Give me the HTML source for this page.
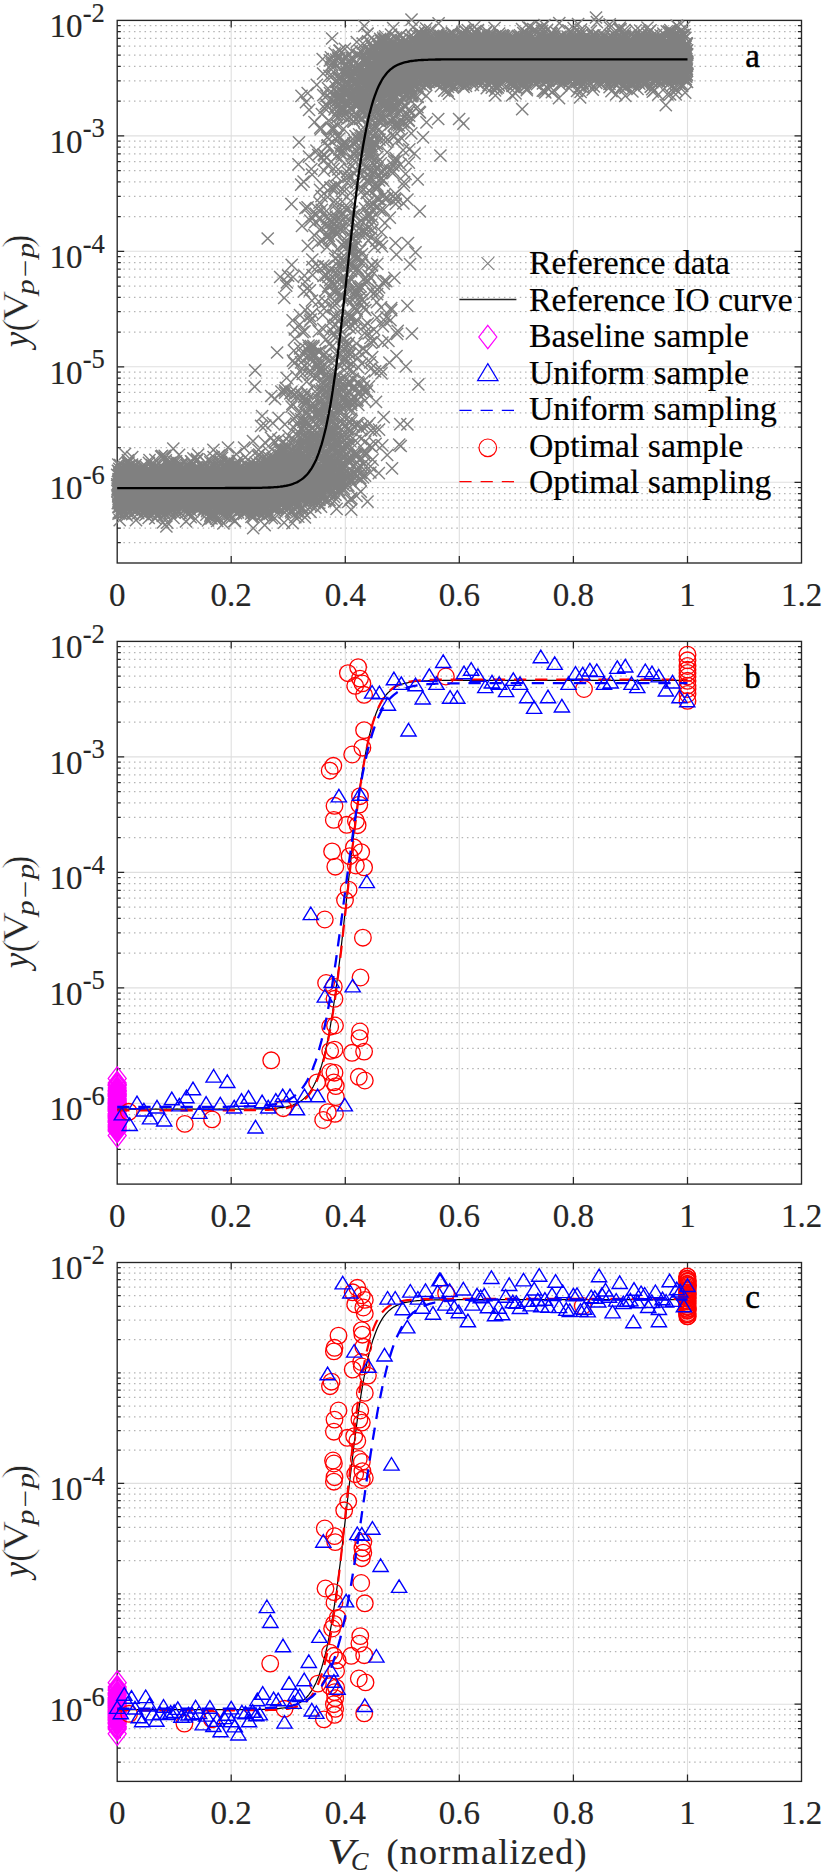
<!DOCTYPE html>
<html><head><meta charset="utf-8"><title>IO curve sampling</title><style>
html,body{margin:0;padding:0;background:#fff}
svg{display:block}
text{font-family:"Liberation Serif", "DejaVu Serif", serif;fill:#262626;stroke:#262626;stroke-width:0.18px}
.t{font-size:33px}
.e{font-size:26.5px}
.lg{font-size:33.7px;fill:#000;stroke:#000}
.yl{font-size:35px}
.sub{font-size:26px}
.par{font-size:42px;stroke:#fff;stroke-width:0.9px}
.er{stroke:#fff;stroke-width:0.4px}
.ns{stroke:none}
.pl{fill:#000;stroke:#000;stroke-width:0.45px}
.xl{font-size:36px}
.sub2{font-size:26px}
.xn{letter-spacing:1.2px}
.cg circle{fill:none;stroke:#f00;stroke-width:1.3}
</style></head><body>
<svg width="825" height="1875" viewBox="0 0 825 1875">
<rect width="825" height="1875" fill="#fff"/>
<path d="M123.4 542.7H801.5M123.4 528.2H801.5M123.4 517H801.5M123.4 507.9H801.5M123.4 500.2H801.5M123.4 493.5H801.5M123.4 487.6H801.5M123.4 447.5H801.5M123.4 427.2H801.5M123.4 412.8H801.5M123.4 401.6H801.5M123.4 392.4H801.5M123.4 384.7H801.5M123.4 378H801.5M123.4 372.1H801.5M123.4 332.1H801.5M123.4 311.7H801.5M123.4 297.3H801.5M123.4 286.1H801.5M123.4 277H801.5M123.4 269.2H801.5M123.4 262.5H801.5M123.4 256.6H801.5M123.4 216.6H801.5M123.4 196.3H801.5M123.4 181.8H801.5M123.4 170.6H801.5M123.4 161.5H801.5M123.4 153.8H801.5M123.4 147.1H801.5M123.4 141.2H801.5M123.4 101.1H801.5M123.4 80.8H801.5M123.4 66.4H801.5M123.4 55.2H801.5M123.4 46H801.5M123.4 38.3H801.5M123.4 31.6H801.5M123.4 25.7H801.5" stroke="#b4b4b4" stroke-width="1.25" stroke-dasharray="1.5 3.785" fill="none"/>
<path d="M231.2 20.4V563M345.3 20.4V563M459.3 20.4V563M573.4 20.4V563M687.5 20.4V563M117.2 135.9H801.5M117.2 251.3H801.5M117.2 366.8H801.5M117.2 482.3H801.5" stroke="#dfdfdf" stroke-width="1.1" fill="none"/>
<path d="M231.2 563v-7M231.2 20.4v7M345.3 563v-7M345.3 20.4v7M459.3 563v-7M459.3 20.4v7M573.4 563v-7M573.4 20.4v7M687.5 563v-7M687.5 20.4v7M117.2 542.7h3.6M801.5 542.7h-3.6M117.2 528.2h3.6M801.5 528.2h-3.6M117.2 517h3.6M801.5 517h-3.6M117.2 507.9h3.6M801.5 507.9h-3.6M117.2 500.2h3.6M801.5 500.2h-3.6M117.2 493.5h3.6M801.5 493.5h-3.6M117.2 487.6h3.6M801.5 487.6h-3.6M117.2 482.3h7M801.5 482.3h-7M117.2 447.5h3.6M801.5 447.5h-3.6M117.2 427.2h3.6M801.5 427.2h-3.6M117.2 412.8h3.6M801.5 412.8h-3.6M117.2 401.6h3.6M801.5 401.6h-3.6M117.2 392.4h3.6M801.5 392.4h-3.6M117.2 384.7h3.6M801.5 384.7h-3.6M117.2 378h3.6M801.5 378h-3.6M117.2 372.1h3.6M801.5 372.1h-3.6M117.2 366.8h7M801.5 366.8h-7M117.2 332.1h3.6M801.5 332.1h-3.6M117.2 311.7h3.6M801.5 311.7h-3.6M117.2 297.3h3.6M801.5 297.3h-3.6M117.2 286.1h3.6M801.5 286.1h-3.6M117.2 277h3.6M801.5 277h-3.6M117.2 269.2h3.6M801.5 269.2h-3.6M117.2 262.5h3.6M801.5 262.5h-3.6M117.2 256.6h3.6M801.5 256.6h-3.6M117.2 251.3h7M801.5 251.3h-7M117.2 216.6h3.6M801.5 216.6h-3.6M117.2 196.3h3.6M801.5 196.3h-3.6M117.2 181.8h3.6M801.5 181.8h-3.6M117.2 170.6h3.6M801.5 170.6h-3.6M117.2 161.5h3.6M801.5 161.5h-3.6M117.2 153.8h3.6M801.5 153.8h-3.6M117.2 147.1h3.6M801.5 147.1h-3.6M117.2 141.2h3.6M801.5 141.2h-3.6M117.2 135.9h7M801.5 135.9h-7M117.2 101.1h3.6M801.5 101.1h-3.6M117.2 80.8h3.6M801.5 80.8h-3.6M117.2 66.4h3.6M801.5 66.4h-3.6M117.2 55.2h3.6M801.5 55.2h-3.6M117.2 46h3.6M801.5 46h-3.6M117.2 38.3h3.6M801.5 38.3h-3.6M117.2 31.6h3.6M801.5 31.6h-3.6M117.2 25.7h3.6M801.5 25.7h-3.6" stroke="#262626" stroke-width="1.25" fill="none"/>
<rect x="117.2" y="20.4" width="684.3" height="542.6" fill="none" stroke="#262626" stroke-width="1.35"/>
<defs><marker id="mx" markerUnits="userSpaceOnUse" markerWidth="14" markerHeight="14" refX="7" refY="7" overflow="visible"><path d="M0.9 0.9L13.1 13.1M0.9 13.1L13.1 0.9" stroke="#808080" stroke-width="1.45" fill="none"/></marker></defs>
<polyline points="473.7,59.9 628.8,73.2 559.5,56 245.6,485 288.4,498.6 615.3,62.2 120.2,491.4 585.5,70.3 571.7,56.8 384,105.9 290,458.2 276,466.4 262.5,494.6 371,67.3 404.9,63.8 432.8,63.2 684.9,34.5 569.2,88.1 472,66.6 681.2,68.7 240,488.6 208.6,468.8 466.5,62.5 142.3,491.2 137.5,486.3 410.8,63.2 383.1,56.7 640.2,30.7 476,67.1 410.4,64.6 400.5,67.5 258.3,511.4 123.9,481.3 226.9,488.7 511.8,81.4 231.6,491.1 327.9,234.7 119.3,498.1 590.5,47.1 205.3,494.7 269.8,489.4 619.2,50.3 407.9,71.7 600.3,57.7 482,77.4 540.2,74.9 169.4,499.4 425.8,61.4 406.8,62 614.1,43.8 323.2,95.2 458.3,57.8 151,489.1 338.2,462.1 301.4,466.3 202.9,476.7 582.7,64.8 333.6,168.8 675.3,62.4 453.6,67.1 462.2,55.1 481,68.6 502.9,60.6 203.2,483.4 368.3,215.5 253.8,509.5 346.7,94.8 172.3,480.7 669.1,63.2 239.8,478.2 500.3,53.4 288.5,482.6 615.6,64 494.8,61.7 192.3,490.6 599.1,70.4 656.1,57.3 632.7,71.2 442.1,70.7 200.1,503.7 227,475.7 646.3,65.7 432.2,69.4 220.2,479.1 621.3,64 483.1,55.6 442.1,67.1 331.8,99.5 351.5,474.8 253.8,512.3 138.9,471.6 616.9,48.1 383.9,84.7 429.5,49.3 300.9,490 545.6,58 131.6,473.7 329.4,447.2 134.5,477.1 187.3,465.5 668.7,47.1 492.3,66.1 361.4,220.9 415.9,51.8 614.9,78.5 313.5,476.6 453.8,63.4 507.1,67.2 319.9,368.5 413.2,55.8 553.6,61.8 635.7,49.3 203.3,492.7 649.5,45.9 120.2,465.1 546.6,60.8 579.4,61.2 195.2,475.1 356.1,389.3 582.1,73.4 125.3,499.6 475.6,77.5 569.4,59.4 409.7,56 531.1,59.6 246.3,488.2 230.4,477.7 324.3,473.1 219.5,474.1 314.5,453.3 657.9,59.1 444.1,42.9 311.1,482.8 272,467.3 660.1,64.7 370.7,368.6 676.3,66.5 411.2,59.6 414.4,55 628.5,64.4 540.8,37.4 448.3,76 360.5,51.4 618,71.5 351.9,211.9 643.4,68 156.4,487.3 362.4,105.9 413.5,69.8 659.5,73 260.3,462.6 576.8,59.1 503,50.3 526.1,41.3 476.2,78.6 671.2,54.2 306.9,392.3 344.3,458 232.9,484.4 146.1,479.2 238.6,483.4 639.2,59.6 596.3,41.9 181.3,485 461.5,59.5 390.5,51.7 456.3,72.2 493.2,69.9 292.1,470.2 665.4,61.6 382.8,99.6 475.4,50.5 479.4,45.9 222.1,496.8 152.5,502.8 351.9,251.8 552.9,55.4 582.1,66.1 533.5,69.7 181.8,482.3 638,53.5 574.6,77.2 617.7,71.9 415.6,63.9 639.3,66.5 143.8,485.8 134.5,482.5 128.7,467.5 261.3,484.2 258.9,470.5 224.1,505.6 440.6,69.1 139.4,476.4 453.9,75.7 211.9,473.3 503.8,53.5 129.2,486.8 294.3,485.6 652.3,72.5 424.2,71.6 580,65.4 492.4,64.3 465.5,45.8 226.3,499.7 444.7,66.6 139.8,507.7 574.3,57.7 664.7,59.6 604.2,47.4 146.1,466.9 310.3,220.6 298.5,472.4 181.5,485.8 474.5,56.4 572,60.2 296.1,480.1 609.2,55.7 571.8,73.1 190.8,489.3 554.5,62.9 620.5,88.4 229.7,481.2 444.3,35.9 481.4,63.6 464.7,67 172.1,478 494.2,74.2 477.6,59.3 587,56.9 575.4,65.8 303.8,291.5 528.9,69 611.8,66 626.4,52.2 209.3,498 132.4,494.7 488.3,67.3 239.6,482.5 438.7,64 656,69.1 333.5,335.7 261.3,510.7 377.5,89.5 492,56.4 174.9,467.6 334.2,446.9 193.5,484.6 495,75 590.8,58.2 332.1,485.1 329.2,384.3 424.9,68 239.8,466.8 258.3,499 305.3,422.8 378,206.9 163.7,479.5 546.4,44.6 447.4,36 288.1,489.2 161.4,506.7 552.4,50.1 191.9,496.2 193.2,500.2 191.7,494.8 163.5,498.4 634.1,51 270.7,482.4 291.9,478 592.1,49.9 470.7,63.8 223.9,480.4 365.2,441.7 621.3,38.8 331.3,397.2 522.6,62.4 172.4,498.6 532,63.8 560,59.3 588.1,56.6 501.7,74.5 328.6,401 153.8,490.4 413,67.6 549.1,66.3 226,484.3 269,498.5 422.9,54.9 543.9,71.4 628.5,57 188.9,500.6 222.3,475 573.1,51.2 484.7,44.5 528.3,68.8 685.6,74.1 652.8,74.1 597.9,61.9 560.4,47.6 342.5,189.1 482.9,52.1 222.4,501.9 550.3,47.3 549.3,51.3 528.5,65.5 370.8,177 332.9,449.7 356.6,320 136.2,470.6 598.7,57 426.5,60.5 338.2,408.9 429.7,42.6 528.7,55.2 334.7,231.7 590.9,45.4 641.5,67.5 338.1,477.5 195.8,492.9 550.8,70.2 683.4,53.8 201.6,475.8 523.6,38.5 587.8,50.7 642.2,46.6 187.6,490.1 169.6,505 680.5,66.5 183.8,483.6 218,494.7 445.1,38.3 371.7,57.2 545.1,61.6 225.9,468.6 638.7,52 241.1,469.5 555.8,61.3 155.8,479.2 387.2,152.4 135.8,487.9 296.2,473.7 295.2,464.9 527.6,57.9 376.7,197.6 149.6,497.9 684.8,61.6 624,53.7 639.7,73.3 257.8,492 341.9,220 246.7,485.7 188.4,478 136,484.2 404.2,70.3 187.4,499.3 217.7,506.1 607.9,59 393.3,78.1 222,490.8 499.2,60.1 268.8,492.9 417.7,82.3 278.6,417.8 411.5,57.9 475.6,75.8 423,137.4 342.8,268.3 568.2,69.1 615.3,59.8 219.5,499.6 194.9,484.4 181.7,496.8 675.8,66 654.1,71.8 248.7,466.6 670.3,30 235.7,485.2 406,69.4 400.8,53.9 639,59.2 140.3,489 297,459.7 459.3,50.5 155.1,501.8 252.1,497.2 382.4,60.4 619.5,75 551.1,41 589.9,62.3 551.2,57.1 520.8,44.2 601.7,59.7 505.8,57.7 536.7,65.9 289.2,482.1 212.8,480.1 548.6,69.1 211.8,480.5 641.5,48.2 457.4,53.9 305.1,490.7 651.3,48.7 205.7,472.5 410.6,64.9 169.4,508.6 667.7,67.2 445.3,59.5 575.5,44.5 278,474.4 574.4,51.4 518,66.5 484.3,50.6 659.3,59.3 364.4,103.8 353.9,116.2 511.9,47.9 593.4,77.6 308.3,454.4 499.1,33.7 236.4,487.4 431.8,68.8 555.8,66.4 154.4,495.6 532.3,54.9 126,476.6 663.7,67.8 384.5,69 350.5,291.1 528,46.2 415.6,48.1 534,68.8 165.5,491.4 438.1,57.5 435.5,82.6 648.7,65.3 139.8,486.4 375.4,145.6 477.1,56.8 431.3,58.7 159.5,494.3 455.5,47.5 243.9,496.6 228.7,483 618.3,62.1 230,475.6 376.3,72.9 545.1,52.4 520.5,52.2 432.8,46.4 577.4,41 382.8,91.4 471,60.2 584.2,71.5 503.9,48.2 483.2,43.8 348.8,90.1 435.6,56.6 343.1,464.1 541.6,56.9 334.1,188.4 383.3,180.6 548,67.3 404.4,50.7 310,494.7 588.7,56 334.4,224 598.9,59.4 565,50.2 372.3,230.2 523.7,43.5 136.8,492.9 339.5,50.8 607.8,65.8 447.7,56.4 435.3,65.7 496.3,40.2 503.6,71 450,66.9 357.1,102.9 221.8,478.6 284.1,478.8 284.2,297.8 362.8,81 686.9,62.3 318.2,452.5 372.3,58.7 329.1,139 448.8,42.8 657.7,54.9 624.2,67.3 332.3,221.7 269.4,461.1 621.5,58 398.8,128.3 508.1,77.2 159,493.5 611.4,68.3 295.7,476 399.2,76.8 230.1,503 356.8,231 589.4,85.3 589.1,65.9 387.3,71.3 555.1,72.3 378.4,95.3 330.1,343.2 428.5,64 232,485.2 297.7,482.4 520.1,54.3 556.6,67.8 149.5,470.6 535.1,55.5 583.3,66.6 371.1,219.8 152.8,492.5 506.6,36.8 257.6,478.1 484.1,60.5 332,467 480.5,68.7 264.4,496.8 388.9,63 416.4,45.6 477,57 233.1,488.8 665.8,54.2 282.1,490.8 291.7,264.9 263.4,504.6 155.7,471.5 358.4,256.9 557.3,40.6 521.8,37.2 228.7,484.5 195.3,478.7 300.5,484.3 555.3,60.5 395.5,87.7 643.6,59.1 491.5,41.7 471.3,60.1 555,48.6 545,57.6 313.3,354.1 263.8,466.4 366.8,391.1 396.2,51.4 198,494.9 368.9,61.3 482.1,62.9 194.6,493.2 195.9,503.4 216.3,518.6 278.8,462.7 665.6,48.9 131.9,490.5 222,509.3 211.3,479.9 387.7,41.9 125.8,482.6 378.5,79.4 210.1,493.8 271,437.8 569.1,59.8 222.2,474.8 469.1,70.2 348.9,457.1 355.3,329 583,45.8 209,480.2 644,64.1 626.7,80 498.3,48.9 145.4,504.3 495.5,74 459.5,81.7 557.6,75.8 239.1,498.9 660.9,71.9 622.6,46.3 182.4,479.5 296.9,476.8 135.7,494.6 591,59.7 639,74.8 681.6,54.5 466.2,70.6 497,65.2 504.1,55.3 442.3,69.7 660.3,75.6 463.8,48.2 308.6,498.8 409.7,75.2 127.8,501.8 530.1,67.8 512.9,60.9 357.3,462.5 602.8,65.2 548,42.7 309.2,348.1 161.4,477.6 192.6,489 222.3,485.5 290.5,494 372.4,271.7 646.4,55.1 276,475.3 629.6,55.8 505.2,59.6 603.9,49 347.2,444.2 119.1,474.8 566,64.3 257.2,509.2 198.4,482.3 573.1,48.8 508.6,68.6 238.3,485.2 269.8,479.5 652.8,91.7 270.3,458.9 517.7,50.1 191.1,490.4 582,73.1 184.3,506.9 411.5,19.6 137.3,492 430.9,51 600,67.2 165.3,491.9 273.6,475.9 553.3,70.6 464,60.3 295.6,444.7 475.8,53.6 376.5,59.3 609,61.5 284.2,469.2 549.3,65 479.7,64 539.4,58.3 332.9,455 530.6,50 515.5,93.4 338.2,110.2 132.3,514.1 666.3,42.5 524.1,49.5 234,495.9 533.9,54.7 276.1,507.6 384.8,198.5 607.6,41.6 372.7,63.2 281.4,462.3 291.4,493.3 161.1,474.2 242.4,486.8 271.8,484.1 215.8,484.9 153.2,478.8 382.8,44.1 239.5,487.2 538.5,54.7 643.3,60.4 272.9,484.3 443.5,69.1 406.2,47.6 160,479.5 188.4,484 621.7,59.3 387.6,67.5 576,70.5 155.2,501.2 456.4,69 610.6,48.1 611.6,54 120.5,505 414.7,71.1 327.6,391.3 550.6,39.1 159,477.7 268.3,457.1 580.6,67.3 385,54.3 375.6,98.7 669.5,32.3 299.6,455.8 141,482.6 340.9,317.6 204.7,495.8 163.9,488.2 441,86.1 661,64.1 447.6,70.8 486.2,49.3 301.7,455.5 442.9,60.6 546.2,70.9 453.2,71.8 575,49.7 431.1,61.8 230.2,490.5 449.5,71.5 397.2,57.7 211.8,484.9 470.3,48.9 583.1,69.7 194.2,487.6 428,81.3 535.6,55.8 347,182.3 271.2,491.5 329.5,430.4 426.1,75 508.8,39.8 436.1,53.5 178.2,480.2 583.6,55.1 644,66.8 175,493.9 259.5,474 216.2,487.3 601.4,54.6 636.3,62.5 142.4,477 306.8,474.4 227,502.6 385,38.7 642.7,45.8 157.2,477.1 214.9,483.1 394.9,63.2 416,49.6 542.3,27.4 366.8,218.7 197.7,500.2 318.8,411 677.2,57.4 545.3,46.8 183.5,501.7 578.1,63.6 294.5,490.7 562.8,46.7 124.5,473.8 614,55.9 209.8,474.3 377.1,294.1 494.6,57.2 406.8,114.9 211.5,497.9 196.5,500.6 279.5,468.3 147.1,486.3 240.7,500.2 191.4,486.8 382.3,65.2 320.5,430.9 451.8,65.9 277.4,495.6 136.5,472.9 306,483.6 547.8,46.6 263.1,487.6 347.9,75.4 547.7,62.6 349.1,105.3 623.1,50.3 640.7,74.8 294.3,363.2 536.9,84.2 261.5,478.7 196.8,487.1 366.9,52 460.8,34.9 650.7,67 200.4,487.5 523.4,74.2 388.3,73.2 192.3,486.9 671.9,58.5 514,49.6 190.7,481.8 633.7,47.3 176,495.8 170,486 306.3,493.6 652.1,61 136,520.1 640.8,60.2 466,58.4 155.4,493.2 441.4,72.8 378.8,90.9 438.8,66.7 537.6,66.1 504.2,56.5 685.9,53.7 206.5,493.1 580.7,60.8 351.6,57.7 563.9,69.6 625.7,47.1 682.9,35 268.9,481.7 375.5,90.3 654.8,56.5 656.5,45.3 329.8,60.4 653.4,74.9 348.7,476.9 330.9,433 548.7,64.3 385.9,137.9 372.8,73.8 337.4,393.9 364,386.3 196.9,490.2 152,500 547.2,38.6 439.1,77.8 500.3,52.1 574.7,57.8 248.4,487.3 250.5,500.1 275.7,492.8 290.5,491 551,65.5 330.6,489.2 301.5,95.9 480.1,64.4 223.6,482.8 177.9,479.4 514.7,65.5 548.6,50.6 286.2,486.6 479.9,65.8 136.6,482.5 347.8,429.2 446.8,64.3 261.7,491.1 315.8,477.6 464.8,47.8 453.6,72.4 205.1,489.6 520.1,53.9 162.8,515.9 670.2,50.2 232.6,479.5 261.8,478.6 231.4,470.6 682.6,71.7 280.6,469 462.4,32.7 682.1,85.9 659,63.8 141.3,479.9 414.4,68.2 460.1,81 517.7,55.8 308.8,484.4 304.2,494.2 119.6,485.4 137.3,477.5 430.9,49.7 160.5,483.3 232.7,502.8 307.2,478.9 157.4,515.1 134.8,500.9 645.8,57.7 365.4,310 234,488.7 521.2,59.8 122.6,511.5 256.9,503.5 665.1,73.2 629.1,66.7 479.8,66.7 170.3,462.8 298.6,442.5 133.1,500.6 242.2,495.7 131.7,495 189.1,495.4 478.3,66 174.5,512.6 206,474.7 632,51.8 308.5,473.9 307.1,473.4 166.5,483.1 571.1,64.1 502.9,83.1 429.2,58.6 469.6,60 174.4,504.2 265.6,515.1 450,46.5 660.2,71.9 583.2,62.3 482.6,68.1 413.1,40 125.8,506.3 625.1,47.5 155.3,518.5 190.8,477.8 512.4,65.8 580.3,86.5 565.7,59.3 375.2,76.8 218.2,507.8 137.3,484.5 602.7,60.3 674.7,54.3 256.4,505.2 611.1,68.9 346.7,395.7 294.7,460.1 405.3,68 121.9,500.6 369.7,141.5 231,495 523.5,47 403.8,50.9 612.7,68.5 628.5,81.8 297.8,481.8 277.1,352.5 652.7,46.1 404.6,67.9 172.2,483.6 143.4,496.2 682,68.5 447.5,38.2 148.3,475.2 408.7,78.2 404.7,115.9 365.5,58.5 659.7,81.1 658.2,63.3 188.5,482 203.7,469 349.6,370.1 592.8,64.1 472.9,63.7 533.4,65.4 445.7,57.6 237,478.4 583.5,72.2 125.2,490.7 515.5,66.8 228,497.8 385.8,107.4 673.3,38.1 424.6,39.2 149.7,471.2 361.7,300 493.7,56.2 149.5,460.1 261.3,483.6 127.7,497 425.2,53 334.7,360.1 404.4,66.1 285.9,484.1 491.7,54.2 215.9,490.3 634.2,60 664.7,72 398.3,60.9 382.6,52.4 607.4,58.7 282.5,484.5 575.2,77 281,469 527.8,73.6 307.7,93.1 460.8,64.2 645.2,50.2 148.2,476.1 577.5,63.5 426.2,95.9 333.4,432.1 316.9,489.1 156.8,499.5 264.5,485 472.5,36.2 172.9,480.6 498.9,61.4 665.9,43.7 676.5,62 624.3,49.5 577.2,55.3 218.7,511.3 670.4,48.2 232.8,467.5 612.8,63.8 617.8,50.6 471.8,53.6 414.5,153.5 231.5,492.9 413.4,52.1 282.9,495.8 189,494.8 190.3,478.3 574.1,48.6 643.2,41.1 198.1,495.3 124.8,504.3 267.5,475.4 193.9,506.6 224.8,493.3 449.8,62.4 358,223.5 362,135.6 234.5,502.7 496.2,59.9 282.3,472.6 344.8,283.8 381.5,373.3 632.9,47.4 257.7,484.1 527,71.7 293.6,481.8 627.2,58.8 341.9,480.8 405.3,66.7 617.4,42.4 500.8,55.8 171,475.1 195.2,488.8 682.2,66.3 133.8,484.7 288.8,497.7 664,55.3 125.8,492 209.2,491.8 238.9,491.5 166.5,499.6 386.3,85.1 455,77.5 298.7,485.3 179.2,503.4 579.6,48.9 575.9,62.2 437.7,57.9 195.7,482.8 426.2,55.7 476.2,57.4 361.4,262.8 609.8,55.5 339.6,482.2 408.5,63.2 182.3,491.2 438.6,68.3 554.3,66 534.2,44 263.7,505.3 682.8,39.6 527.7,65.8 358.8,54.8 353.8,173.1 561.6,61.7 217.4,481.7 481.9,39.5 527.1,61 411.6,60 615.1,65.9 384.4,42.1 382.3,445.3 279.5,473.1 641.5,59.2 297.6,507.6 513.7,53.9 350.6,251.6 650.6,67 657.8,48.1 134.3,495.2 684.3,67.6 462.2,84.7 159.3,479.9 400.6,71.3 145.4,494.1 430.2,62.2 223,507.3 327,407.1 291,485.3 460.6,49.3 586.2,59.9 651.3,74.1 304.7,436.8 442.1,46.5 120.6,495.4 329.4,376.6 665,54.5 185,494.8 613.2,59.3 489.3,80.8 284.8,495.1 560.9,59.2 282.2,480.9 627.5,44.3 164.4,494 185.1,482.8 544.9,61.1 373.3,109.8 201.3,497.6 410,60.4 286.5,488 430.4,79 541.3,27.3 605.8,60 150.8,480.6 455,62.8 678.1,26.8 379.4,97.9 556,63.8 172.7,486.2 615.3,45.6 449.1,60.3 623.7,71.3 566.1,41.2 612.9,51.9 149.9,491.5 525.2,62.7 229.5,491.3 268.8,486.6 302.4,508.5 454.4,59 475.2,67.1 648.4,54 124.5,484.6 227.5,499.3 323.6,275.9 583.7,50.8 430.8,70.4 409.2,89.8 550.7,67.8 490.7,55.7 282.5,459 166.9,499.1 380.8,71.8 619.1,53.7 458.3,60.5 147.6,489.1 368.2,167.8 336.5,355.3 449.3,39.3 452,48.7 659.7,63.6 310,370.6 349.9,74.8 467.1,55.9 622.7,56.2 519.9,65.5 385.7,115.8 581.7,57.2 393.9,89.4 666.6,70.9 278.3,507 189.8,494.4 590.7,55.5 286.7,504.9 600.4,62.2 464.7,69.3 407.4,305.8 166.8,486.9 565.6,46.2 154.8,504.5 667.6,57.2 617.3,61.8 290,463.6 190.1,488.5 622.3,67.2 390.8,54.1 188.4,483.6 401.5,87.3 257.9,512.1 349.8,401.7 482.3,57.5 639.2,50.9 573.9,66.6 209,493.2 389.4,84.7 397.7,330.8 681.5,58.6 166.8,495.6 408.5,61.5 638.6,71.4 344.6,349 266.4,485 434.2,78.2 299.7,324.6 645.9,46.1 165.6,495.4 235.1,494.5 165,498.5 523.2,75.3 284.4,457 630.5,75 626.8,62.7 651.2,66.6 263.3,502.1 117.6,488.6 338.2,266 666.1,51 552.7,63.5 151.2,489.3 517.8,72.6 640.2,63.2 669,52.6 525.5,51.5 609.3,44.6 597.2,78 321.5,196.1 173.7,484.7 532,42.3 195.3,489.1 336.3,470.5 685,60.7 436.4,73.2 414.7,58.1 657.7,66.3 279.2,489.2 687.1,54.3 637.3,51.4 324.7,442.6 303.8,476.7 189.4,507.3 639.3,46.9 223.2,498.9 122.3,488.1 624.8,65.2 458.3,73.9 500.3,50.1 535.3,72.3 141.5,495.7 169.6,472.2 402.2,102.2 145.9,508.9 404.8,52.4 537.1,65.3 492.1,51.3 468.8,60.6 143.7,494.8 252.2,481 629,68.7 187.5,495.6 421.3,58.2 145.7,502 652.8,77.2 215,508.5 351,270.7 429,38.7 527,46.6 651.8,67.9 537.1,66.5 315.3,492 160.2,489.2 520.6,48.3 671.8,61.3 126.9,489.4 559,98.2 217.6,485.6 379.5,77.4 415.2,63.6 467.6,56.2 681.5,59 509.2,51.7 341,145.7 524.9,87 383.4,79.2 352.8,158.5 325.7,236.1 398.6,73.3 277.5,491.8 255.3,488.8 201.9,476.6 368.2,82.5 284.4,450.3 594.5,75.8 600.7,42.9 313.3,476.6 470.3,65.6 631.7,75.8 322,474.5 433.5,49.8 370.1,362.3 488,37.5 664.5,64.4 196.3,493.7 667.7,71.5 496.8,54.6 571,68.9 479.4,53.3 613.5,56.1 303.2,440.9 521,71.4 267.8,474.9 407.3,85.1 505.8,74.2 231.9,486.2 152.1,486.5 568.2,59.1 578.5,48.7 496.8,45.8 300.5,461.7 492.5,60.9 165,474.2 495,90.3 445.8,37.6 469.2,60 372.1,72.6 245.6,491.2 531.1,53.3 381.9,178.4 542.3,66.9 324.9,461.1 167.3,522.6 426.5,53.2 472.3,61.9 642.8,62.3 623.4,45.2 149.8,484.3 557.3,56.9 266.2,510.4 514.8,57.8 333.6,477.9 300.9,428.3 395.6,193.9 419.7,74.2 513.2,62.4 481,38.6 504,69.9 336.2,384.1 503.5,61.7 314.2,450.7 463.6,52.3 379.2,180.5 438.1,54.4 127.2,501 401.6,63.4 242.6,492.2 337.2,424.9 159.3,481.8 491.8,87.7 626.7,49.9 319.4,480.8 177.1,500.5 470.9,66.9 189.6,489.2 625.6,39.2 187,494.6 323.6,376.5 399.3,71.8 184.4,495.9 299,491.7 274.2,489.1 524,49.9 679.6,57.9 324.1,354 568.1,42.6 197.2,471.9 447.9,78.8 364,307.7 281.5,498.8 585.8,62.2 542.8,57.6 193.6,489.3 283.9,479.5 584.5,54.3 683.1,74.8 465.9,85.8 614.3,56.1 678.5,44.9 539.5,57.3 484.9,64.5 243.4,481.5 328.4,417 472.8,75 645.5,64.1 289.3,472.4 342.6,108.7 129.9,480.2 514.5,65.5 370.1,156.8 572.1,42.7 250.4,492.1 493.4,65.4 501,45 382,86.3 224.8,502 347,484.4 542.1,44 225.1,483.9 168.5,466.2 381.1,307.4 250.9,485.1 573.7,47 583.2,66.6 656.2,46.8 596.1,60.4 486.4,62.4 223.9,483.5 586.5,64.9 532.4,72.7 543.1,70 514.9,53.4 590.5,55.9 287,486.9 500.7,50.9 412.2,81.3 309.9,321.2 303.6,464.4 205.9,499.3 397.5,45.2 327.5,225.5 357.6,84.6 602.9,56.5 505.8,62.3 505.1,58 678.4,48 241.4,496.2 406.8,73.6 170,477.9 341.2,354.7 659.1,61.3 166.2,490.2 549.3,64.3 610.7,80.5 407.4,424.3 572,64.7 368.7,98.8 318.7,414.5 405.6,173.9 228.3,460.9 292.5,492.2 291.3,469.7 680.8,64.6 308.3,473 247.7,491 653.1,50.5 196.2,486.4 667.9,63.9 603.8,77.4 486.2,47.7 361.2,438.9 229.7,494.8 177.8,467.3 176.3,485.2 316.3,480.6 349.4,61.8 643.9,56.4 423,63.3 682.1,55.2 528.3,61.1 200.6,491.9 432.9,55.7 208.1,480.6 139.6,483.8 655.4,48.1 309.9,441.6 225.3,467.7 175.2,486.7 489.1,72 380.2,60 123.9,486.6 525,50.1 263.6,491.5 562.3,49.1 395.8,199.5 422.6,57.4 377.9,187.9 502.7,35.5 681.8,62 572.2,83.5 156.6,472.9 399.4,48.7 250.8,469.9 175.6,500.9 228.5,483.3 258.7,471.9 664.5,61 542,54.4 603.6,61.4 515.7,62.5 297.2,464 340.2,487.1 368.5,240.3 284.5,480.1 357.5,268.3 557,49 160.4,510.6 274.9,474.2 390.4,79.9 502.8,61.3 485.5,62.8 530.6,53.3 177.2,489.7 220.3,492.5 293.4,469.7 277.8,461.7 548.1,65.9 683.6,66.5 506.7,65.6 136,501.8 286.9,282.5 575.1,64.3 644.3,50.6 456.4,64.8 316.1,438.2 319.7,488.4 478.4,68.1 610,27.5 311.6,464.3 225.9,487 118.8,507.3 195.6,494.2 602.6,69.5 473.4,69.2 682.1,84.2 156.8,493.8 325.9,486.9 571,66.8 494.3,73.9 155.2,483.6 346.1,243.9 480.8,85.2 509.4,71 374.8,430.7 224.5,474 668,72.2 383.2,62.8 526.3,52.7 422.2,48.6 163.2,493.3 252.2,484 153.1,492.9 226,508.5 231.4,477.3 353.8,121.3 300.6,479.9 323.9,431.7 583,69.4 129.4,493.6 176.2,484.1 577.8,73.9 421.7,41.6 367.5,33.5 269.6,513.8 426.5,49.2 243.5,492.9 606.7,52.2 587.1,57.1 300.7,489.5 131.2,477.6 623.4,58.1 287.5,469.5 491.8,55.5 606.6,75.8 572.5,61.1 609,59.1 396.1,75.7 597.5,73.3 380.2,38.9 267.6,485.7 391.5,84.2 308.5,500.7 554.7,52.7 591.5,60.5 197.7,475.2 211,468.3 336,105.8 381.4,68.2 662.5,45.7 654.2,46.6 668.7,55.4 533.3,50.7 503.4,62.7 271.4,487.4 329.7,433.2 118.7,512.4 592.2,50.5 274.6,477 162.4,498.4 297.2,465.4 301.5,471.4 530.1,50.7 120.5,487.6 248.4,493.1 628.4,54.2 604.7,57.6 475.9,70.9 435.9,64.2 244.1,492 616.2,51.4 551,74.1 409.7,68.4 209,492.2 240.3,487.3 333.5,223.4 306,487.5 152,475.7 348.9,385.5 373.1,82.1 280.9,467.6 336.3,98.5 306.7,427.9 332.1,415.6 470.2,42.4 400.8,35.1 229.9,472.9 570.7,31.4 409.8,88 378.6,78.6 524,57.9 546.1,55.6 601.4,48.4 579.8,49.1 498.7,69.1 528.4,45.4 206.8,494.2 515.9,55.8 262.3,480.1 264.2,479.3 185.7,481.7 343.5,87.9 128.5,489.3 491.8,48.2 543.8,64.3 559.5,72.6 190.7,517.1 482.8,58.9 595.2,69.4 137.7,487.8 227.5,499.8 269.9,492.4 380.6,178.2 215.4,476.9 424.5,72 313.3,496 490.8,57.9 420.2,49.7 508.6,69.7 257.7,479.9 520.4,59 536.1,53.4 528.9,80.6 156.2,486.8 656.7,62.1 446.2,56.8 272.5,495.6 364.8,400.7 412.4,95 412.5,66.5 258.6,472.1 268.3,485.7 324.5,108 562.5,55.2 366.7,453.6 139.2,495.8 375.1,371.3 232,500.8 124.3,495.8 674.4,58.2 284.7,469.6 423.7,68.9 321.5,227.8 147.7,477.7 630.9,46.8 650.8,68.2 223.5,479.2 355.6,292.6 330.3,487.4 212.6,489.5 494.5,69.3 563.1,79.1 550.4,75.8 502.3,68.1 127.2,484.6 248.1,483.5 410.7,49.5 518,68.6 337.6,92 373.4,341.4 596.6,70.8 130.6,476.2 270.4,485.9 282.5,465.9 683.3,51.5 247,492.9 144.1,496.3 354.7,256.3 487.6,44.2 204.7,476.6 596,17.5 229.2,464 518.8,55.5 209.5,500.3 620,80 232,492.6 534.3,59.8 595.5,76.6 262.6,480 170.1,476.8 451.4,70.9 401.8,138.4 390.5,87.5 562.8,47.6 381.3,76 400.6,80 395.1,124 376.4,76.2 348.6,281.5 209,475.8 285.6,475.1 268.3,502.5 258.7,492 563.6,60.4 182.2,486.9 234.3,500.7 417.4,45.4 295.4,477.9 254.2,464.5 330.1,395.4 403.5,78.3 501.7,51 671.6,56.9 603.4,62.8 362.4,76.7 374.7,67.9 354.3,68.8 253.5,472.2 659.9,46.4 156.4,477.4 234.1,509.6 494.7,55.7 453.4,38.7 276.1,466 651.5,44.7 350.7,422.3 457.2,68.5 169.1,470.8 625.2,37.2 175.9,483.1 341.9,437.8 622.2,61.1 656.1,57.1 632.7,63 589.1,53.7 250.2,490 135.4,506.1 374.8,71.5 153.2,483.3 664.9,56.9 121.9,470.9 302.8,459.1 233.1,472.8 125,488.7 401.8,79.7 160.6,496.5 630.4,67.3 509.3,48.8 328.2,286.1 597.1,68.8 571.6,48.1 303.4,421.9 600.3,50.3 647.2,43.8 470.7,48.4 317.8,266.4 630.8,68.9 654.9,81.5 315.2,222.2 166.4,526.5 612.1,66 496.3,72.6 249.5,486.8 440.5,69 292.9,486.8 641.4,70.1 312.3,463.2 229.1,470.5 141.8,500.4 312.5,403.3 681.4,42.7 241.7,479 378.4,86.8 671.5,64.3 121,484.6 285.5,485.4 585.5,48 171.8,491.8 646.6,66.9 593.1,52.9 198.8,497.8 455,53.4 434,73.6 512.8,65.9 292.2,469.6 336.3,97.5 254.5,476.4 283.7,484.7 217.4,485.7 632.9,82.8 623.3,52.8 322.5,391.2 512.5,83 396.8,57.5 277.3,476.5 316.6,490.1 667.6,72.5 311.9,300.6 447.2,59.5 656.1,59.2 286.9,490.2 578.5,35.6 182.3,488.5 535.4,57.7 577.2,78.3 594.8,55.9 673.2,48.6 522.6,70.1 674.5,34.8 275.9,494.9 414.6,59.4 239.3,492.7 164.8,492.9 367.5,501.7 527.6,49.4 561.1,85.5 126.9,473.6 654.5,72.7 258.2,493.7 283.8,442 591.9,71.1 627.1,62.2 537.2,74.4 307,490.4 381.1,117.9 593.1,41.1 321,506.6 576.4,60.5 563.1,52.5 384.5,49.3 628.5,68.7 336.5,115 544.8,37.5 482,55.2 306.1,451.7 420.4,73.9 462.8,68.2 423.3,59.4 180.3,500.5 682.6,51.9 668.4,72.8 138.6,484.3 655.7,77.4 420.3,69.8 188.9,485.3 585.1,52.5 364.1,380.7 523.9,77.4 588.9,53 424,72.4 145.5,483.6 586.2,44.2 513,51.9 636.2,77.5 271.2,396 564.9,46.3 615.1,66.6 319.7,468.1 351.1,402.7 307.7,483 120.5,483.2 249.2,472.4 306.3,457.1 179,454.8 553.8,43 360.7,286.3 441.2,58.1 279.5,490.4 322.7,314.9 546.8,73.4 385.1,321.2 457.4,66.3 358.2,87.4 434.8,50.1 628.9,54.2 269.7,483.8 413.2,63.1 509.1,59.5 166.7,495.5 665.8,43.3 401.6,43.3 257.1,488 550.8,59 582.3,55.8 476.8,48.5 639.6,56.4 167.9,493.3 418.1,63.4 540.8,55.8 640,60.8 483,63.7 460.7,44.5 338.6,78.9 443.2,48.9 433.6,70.2 633.3,49.1 588.9,58.7 537.6,62 644,67.1 154.9,495.3 556.1,64.6 381.6,59.1 545.9,60 286.1,463.4 383.7,69.7 587.4,56.1 137.3,488.8 283.2,497.1 395.7,69.5 602.8,54.7 271.2,494.6 586.6,39.7 256.7,467.1 290.1,482.3 433,44.6 490.1,45.8 619.1,45.5 618.7,50.9 259.9,468.2 542.4,68.4 479.3,64.3 337.4,232 559.7,58.3 629,75.8 390.5,51 639.6,46.7 190,490.1 212,483.1 553,47.5 291.4,512.3 451,65.5 400.7,69.7 200.3,489.3 547.3,73.5 540,73.9 200,485 265.3,425.5 573.7,73.5 637.4,39.8 613.4,47.5 403.4,47.7 326.7,454 371.1,81.4 217.8,474.3 400,77 248.9,493.9 209.6,483.4 334.3,478.3 153.7,503.9 385.4,87.9 514.2,54.2 488.7,55.4 673.3,50.6 622.3,59.7 478.6,74.3 629.1,45.4 370.6,102.3 572.8,56.8 279.4,461.2 417.6,56.1 676,40.9 458.7,61.1 406.2,93.4 566.2,72.5 295.3,517.1 591.1,61.6 127.8,473.6 253.1,507.2 218.3,478.9 264,489.3 656.4,48 130.8,483.1 287.6,485.4 444.7,51.9 518.1,59.2 558.5,48.1 335.8,139.2 242.8,489.8 603.3,39.3 186.8,488.6 154.3,480.2 249.3,484.5 398.1,102.3 654.5,57.2 532.8,64 438.8,52.4 414.4,72.6 512.6,70.1 474.4,48.4 309,156.6 170.1,480.7 231.8,479.3 563.5,46.3 479,53 571.8,47.8 142.6,496.6 630.9,52.5 335.2,447.6 645.3,73.3 456.2,61.3 429.3,51.1 583.7,58.4 473.9,37.5 501.9,50.6 207.1,482.3 461.9,57.3 320.5,471.5 160.3,486.7 193.2,487 390.8,50.4 266.9,496 553.6,60.1 187,495.9 125.1,485.6 685.7,79 295.7,474.9 407.9,58.4 237,485.1 236.3,454.2 346.6,104.1 567.6,52.8 139.4,487.5 594.7,45.7 681.9,32.1 436.1,39.4 322.5,482.2 250.6,500.1 221.5,482.2 301.6,495.4 602.9,69 119.1,494.3 565.4,71.7 497.8,58.6 128,491.7 156.9,496.1 536.4,54.2 501.1,67.3 296,464.9 608.4,51.1 237,492.5 360.6,480.1 182.8,495.5 485.4,66.1 166.8,475.2 219.5,506.4 554.2,53.2 402.5,79.9 494.6,85.1 535.7,30.2 463.1,81.6 230,514.1 515.5,83.8 183.3,501.4 271.1,493.5 372.8,149.2 182.5,489.9 177.6,477.9 489.2,68.1 540.3,57.4 328.6,470 339.5,380.5 235.6,487.4 414.7,50.3 448.2,53 649.6,58.2 140.3,491.7 635.4,54.5 682.1,50.6 314.7,499.9 531.1,63.3 587.6,54.8 488.5,55.3 281.9,482.4 472.4,39.3 617.3,46.3 178.2,502.7 390.9,40 130.1,496.1 599,68.8 561.1,45.9 143.5,491.6 542.5,79.2 511.6,51.5 189.2,482.3 416.7,52.5 510.3,75.8 308.5,453.4 404.5,66.7 673.7,48.1 479.7,73.9 403.5,122.5 154.8,511.4 186.3,497.1 602.4,46.2 540.7,56.1 593.4,65.8 446.9,42.5 445.7,56.7 419.8,50.4 536.4,54.9 305.5,486.7 400.4,64.1 385.1,58.8 494.5,45.4 240.5,480.3 131.5,477.1 167.7,501.1 219.4,510.4 606,55.2 526,57.2 544.9,53.8 370.5,171.7 175.8,486.1 382.5,73 609.3,58 407.5,64.4 477.5,61.3 330.6,483.7 202.8,493.8 474.5,59.4 393.8,55.8 314.3,463.2 264.6,482.8 514.1,49.3 298.5,480.6 445.6,43.3 265.3,460.7 546.8,66.8 331,227.8 390.1,120.4 646.2,40 526.9,88.5 537.1,66.8 310.7,319.5 596.4,42.5 337.2,464.3 680.8,51.1 628.1,54.1 493.1,55.7 591.3,54.1 427.4,64.5 535.2,83.6 188.4,483.9 680.9,59.8 573.5,65.9 198.4,495.1 255.6,471.5 445.1,68.6 552.2,71.8 202.1,479.8 665,41.5 314.5,503.1 684.6,71 546.4,71.7 394.1,106.2 324,159.9 172.2,470.9 167.3,488.5 476.1,62.1 558.3,66.4 634.7,45.6 325.3,482.2 651.9,69.1 286.5,490.5 653.2,59.5 641.2,54.4 205.6,495.5 608.1,38.1 518.5,36.1 517.8,72.7 596.4,57.5 423.2,71.8 406.2,64.3 326.5,95.8 610.6,62.6 631.1,55.9 208.8,485.9 557.5,75.3 274.3,507.9 222,510.2 229.7,473.3 444.1,61.4 276.7,454.2 255.4,470.4 173.4,500 302.4,429 558.6,67.3 129.5,485.7 392.4,105.9 461,64.1 145.5,488.8 284.8,486.5 634.1,76.5 684.2,62.2 602.1,48.6 214,489.1 553,48.9 374.3,142.9 214.5,485 391.4,74.4 643.5,58.3 617.5,70.5 340.5,464.7 153.3,484.1 630.7,44.9 679.6,32.1 408.8,162.6 245.7,481.1 427.3,65.2 514.2,49 392.2,54.7 318.2,398.8 258.5,503.2 286.5,504.2 145.6,476 262.7,482.3 660.7,52.8 121.8,508.2 532,66 567.1,78 348,320.9 456.6,66.1 243.2,496.2 498.2,40.1 520.8,74.5 536.1,66.7 397.6,72.7 670.6,58.4 611.2,50.4 443.6,68.9 506.3,79.4 273.9,493.1 655.3,54.4 485.1,72.4 627.5,47.5 281.8,498.6 677.4,67 177.3,493.4 419.6,44.6 180.2,478.6 225.4,483.7 553,71.5 154.9,501.5 335.4,494.8 226.5,468.7 602.1,43.5 164.2,486.3 309.1,495.9 605.5,80.5 508.9,64.8 518.3,53 682.4,52.6 130.6,483.3 496.3,67.8 542,53.1 543.8,61.2 524.4,48.7 158.4,485 165.1,478.7 557.9,55.3 466.1,65 267,473.7 122.5,500.5 421.4,51.8 168.8,493.3 544,63.7 311.5,476.7 577.7,65.5 171.7,500.3 398.9,70.8 174.1,501.5 562.2,58.9 436.5,55.6 251,489 666.3,77.9 506.1,57.6 309,469.7 605,72.9 333.9,408.8 654.6,48.3 286.6,377.9 678.5,46.3 152.8,492 536.1,76.5 283.4,487.9 358.9,76 480,55.7 143.3,498.2 244.7,493.5 176.5,463.6 539,65.9 243.4,468.9 401.4,73.6 304.5,484.1 251.8,483.5 650.5,48.8 406.6,59.6 488.1,67 518.9,58 585.5,77 267.3,515 162,506.5 383.6,168.9 214.1,478 128.9,465.9 641.6,53.3 474.5,76.8 353.5,247.2 195,484.2 551.3,69.2 421.1,73.4 216.6,501 677.3,68.4 659.4,82.1 645.9,54.2 588.6,67.9 420.3,44.2 288.5,463 488.8,60.1 203.5,475.5 468.9,46.1 154.9,485.5 124.9,490.1 525.2,43.9 312.6,471.5 514.8,61.4 562,65.2 593.5,59.2 468.4,48.1 600.1,51 492.9,66.3 646,61 628.6,57.3 141.9,492.9 269.8,488.6 338.9,364.6 261,496.9 218.1,484.6 615.3,56.4 131.5,491.6 220.9,462.2 550.7,61.2 244.5,479.6 264.5,483.3 668.9,64.8 552.1,51.1 373.1,46.4 194.9,487.8 270.6,481.7 676.7,25.5 568.3,69.7 157,490.4 520.3,52.4 331.6,483.4 527.7,68.8 285.7,493.2 191.4,490.6 128.4,491.1 285.8,486.8 607.8,40.3 625.4,56.5 506.8,63.6 543.7,50.9 228.2,480.2 319.2,402.4 630,66.3 679.6,72.1 369.9,102.2 559.7,48.9 649.5,61.7 685.7,44.5 285.9,494 490.2,62.9 339.6,403.9 382.4,87.7 380.6,40.7 276,500.9 128.1,481.2 554.3,58.2 514.1,45.2 596.6,74.8 204.6,501.5 252.4,467.5 457.1,45 651.3,46.3 386.2,62.7 231.7,475.1 456.3,58.9 663.2,71.9 612.2,60.7 629.8,62.2 351.3,236.6 266.8,490.4 613.7,67.3 566.6,52.9 602.7,47.6 340.3,445 280.4,469.9 254.2,500.4 613.7,52.3 641.5,49.5 326.6,392 615.9,70.2 334.7,305.1 372.6,459.6 440.2,69.3 243.4,477.3 269.7,488.4 269.3,479.7 265.5,492.8 411.2,88.4 174.5,493.2 562.2,60.9 216.9,477.2 370.4,472.5 483.2,44.5 195.9,479 350.5,96.5 438.3,65.4 431,57.3 626.2,63.2 564.9,78.6 186.1,512.2 592.3,50.2 430.7,58.1 503.9,36.4 208.4,493.9 386.3,281.2 516.3,57.4 571.9,53.4 576.7,58.3 241,474.8 592.1,53.1 441.3,65.2 498.5,60.4 602.8,61.9 348.4,314.7 641.6,56.5 619.7,64.2 577.8,66 333.9,416.6 418.4,83.1 215.9,483.1 550.2,54.8 625.3,95.8 208.9,500.8 541.9,59.4 513.1,85.7 138,482.8 640.1,47.6 390.4,63.1 270.7,476.8 134.4,489.2 563,49.1 309.8,316 410,110.7 228.3,486.9 463.3,78.9 343.7,246.1 577.2,47.3 497.2,47 528.8,68.9 260.4,498.5 153.6,511.4 619,45.6 650.8,55.2 484.2,36.7 642.8,44.3 520,35.3 462.7,49.4 356.2,241.2 320,351.3 396.4,46.4 244,504.8 361.1,429.5 406.7,88.8 135,472.8 341.6,107 279.4,496.1 478.8,48 580.1,97.3 467.6,46.7 495.8,55.9 467.3,66.4 263.3,480 331.8,346.8 598.6,51.9 656.7,58.2 220.5,479.1 123.2,499.3 665.5,67.3 607.4,37.5 463.7,55.7 583,61.5 456.1,70.1 633.2,65.5 256,475.7 370.5,119.3 499.6,59.9 240.2,491.1 524.8,82.5 266.8,485.1 522.1,44.9 575.8,64.5 359.1,134.3 681.8,56.3 477.2,66.5 548.6,80 128.9,487.8 181.5,493.4 522.9,67 655,43 475.4,58.1 637.7,68.2 150.9,496.2 625.7,40.6 617.5,49.8 475.8,80.4 362.1,81.4 519.2,65.3 256.3,495 497.9,46.1 513.1,50.9 425.1,69.6 265.5,487.4 118.4,480.6 228.8,489.5 592.7,54.5 238.2,495.9 159.6,472.8 257.8,455.6 413.3,68.6 451.5,76.2 617.4,65 604.6,49.1 669.6,56.9 621.5,60 374,77.8 198.1,505.6 662.2,59.9 247.7,489.3 472,66.9 268,477.4 583,67.1 231.7,495.7 357.2,94.2 242.5,480 607.9,58.5 470.4,56.6 476.9,54.7 296.5,482.1 217.8,499.7 606.1,49.5 553.2,35.5 536,54.8 685.8,62.5 436.3,49.7 219,480.6 464.8,68.7 281,487 409.7,68.1 379.1,129.2 438.6,76.3 642.6,44.5 579.2,67.3 353.9,306.5 583.3,64.5 607.9,54.8 558.6,45.6 431.6,52.4 630.1,73.7 397.7,62.5 177.6,486.5 272.4,458.7 492.1,65.4 333.4,283.9 358.3,404.8 346.6,445.8 226.7,480.2 170.5,499.8 145.2,471.5 500.7,44.4 302,225.8 377.7,289.9 650.5,30.4 474.6,71.8 579.5,65.8 551.9,33.8 661.1,73.8 155.3,484.3 336.3,453.9 658.7,70.4 382,246.4 657.7,61.9 222.6,484.8 151.6,482.2 627.8,52.3 351.7,247.5 407,83.6 651.1,52.1 242.3,495.6 669.3,75.1 343.3,467.5 258.3,512.6 250.5,474.6 412.8,46 383.5,86.6 622.5,85.8 146.2,498.2 142.3,484.4 204.3,499.5 462.6,47.5 562.8,51.7 390.8,71.8 467.2,50.4 483.6,76.4 128.2,493.5 257.6,485.4 686.2,43.6 305.8,459 657,41.6 397.9,112.5 244.1,447.7 118.6,498.6 241.3,484.7 300.5,466.5 367.7,151.9 372.2,357 429.9,74 387.6,106.5 135.9,493.4 269.4,494.8 665.8,58 132.8,492 535.8,73.2 388.9,105.4 520.3,76.1 306.8,495.7 328.3,407.7 411.9,333.5 635.9,59.6 304.5,331.4 166.2,470.4 139,473.8 619.9,48.8 296.1,466.9 185.4,503.1 457.3,69.6 599,69.8 459.1,119 203.7,489.8 348.6,176.8 269.2,489.9 126.7,474.9 667.9,64.7 379.1,92 194,491.5 621.8,61.2 679,63.7 582.5,34 261.8,476.9 225.9,468 416.6,66.8 449.9,55.2 618.1,56.5 668.8,60.5 636.3,69.4 312.3,480 451.1,82.6 187.8,476.8 413.1,27.1 157.6,470.5 180.7,513.2 186.7,485.9 289.1,462.8 293.8,491.6 519.2,62.7 160.6,474.3 180.6,479.6 491.5,69.5 500.9,53 522.3,57.7 527.9,35.4 495.2,77 432.3,61.4 540,70.8 163.7,488.7 238,512.4 540,70.6 227,489.7 419.9,67.4 265.6,489.6 363.1,70.3 592.9,66.3 493.9,70.7 371.1,430.5 273.2,487.4 576.3,55.8 491.9,80.4 368.1,66.6 612.9,45.7 512.1,76.8 676.4,58.2 496.1,65.5 630.4,46.9 431.1,45.2 522.1,56.6 597.6,65.6 168.8,507.2 387.6,109 462.5,69.7 150.2,488 567.3,41.4 525.2,37.2 651.1,56.1 329.4,75.9 384.7,61.3 637.2,56.1 351.9,279.7 593,39 357.5,425 309.8,476.1 275.3,495.6 238.9,477.1 363.2,91.8 209.3,480.5 589.4,57.3 672.9,58.9 172.8,481.5 148.5,493.8 119.3,468.9 648.7,38.8 159.3,476.4 505.1,49.9 290.5,491.7 230.2,466.7 257.7,503.2 510.5,67.9 127.5,463.2 610.4,64.2 441,69 251.5,507.3 236,475.9 490.6,45.3 476.1,56.8 298.6,506.1 307.7,469 381.5,71 636.4,48.6 424.2,42.6 596.2,54 482.6,54.2 437.7,41.6 396.4,254.6 505.3,73 397.5,54.4 531.2,72.8 221,496.8 301,419.2 615.1,72.1 342.6,281.2 598,44.5 652.1,53.6 447.1,78.3 175.3,488.9 548.8,61.6 496.9,69.5 283,463.5 609.3,58.2 392.5,58.9 149.7,475.6 156,485.7 247.4,502.9 465,58.7 582.1,53.8 173.7,485.6 129.9,475.1 472.2,48.5 350.7,315.8 369,95.7 585.2,58.2 641.3,36.1 668.8,77.8 561.5,45.5 119.1,482.1 203,495.4 452.1,66.3 662,51.5 163.6,503.6 410.8,60.5 343.3,388.9 349.2,445 270.3,485.5 271.6,470.9 253.1,484.6 176,497.2 433.2,77 371.5,129.1 523.8,47 482.1,60.8 660.5,59.6 310.9,447.1 620.4,67 336.6,436.5 494,50.9 576.2,41.2 343.5,344.3 371.6,52.1 477.2,51.3 180.4,500.4 420.4,75.1 171.3,496.7 245.4,475.3 472.5,55.8 671.6,66.7 687.1,50.3 265.9,494.3 200.6,485.7 412.9,59.4 368.9,87.9 333.6,393.8 555.4,57.8 521.9,85 437.6,60.7 471.6,41.1 449,84.7 503.2,48.4 646.3,55.8 657,72.6 675.8,58.7 607.5,71.6 176.9,504.9 374.8,59.5 562.9,55.2 285,502.2 463.2,65 148.7,486.9 233.3,505.4 345.4,65 157.2,495.8 359.2,116.8 248.4,479.7 608.6,69.4 299,477.6 334.3,385.9 574.6,53.8 436.4,63.6 145.8,476 241.3,478.9 465.5,40.7 230.9,473.4 258.8,494.8 472.4,65 399.2,56.1 270.7,475.3 436.1,66.6 478.6,58.3 139.7,483.6 273.4,488.2 292.7,474.5 618.3,69.9 146.5,481.3 315.2,488.5 228.1,482.2 513.6,69.2 579.8,61.8 150,476.5 609.5,69.6 514.1,57.6 240.9,479.2 639.5,59.8 284.3,489.2 566.8,58.4 159.9,497.5 377.3,53.7 405.6,71.8 628.5,38.4 594.2,55.2 428.8,46.7 146.6,493 362.4,136.6 331.2,492.3 684.9,55.7 505.4,62.1 348.2,84.3 325.2,500.9 554.9,60.4 171.8,490.7 583.1,50.8 499.8,66.7 365.4,177.4 522.3,44 344.1,145.8 198.8,491.7 355,308.5 146.5,511.4 166.9,482.6 367.6,107.7 587.7,55.5 233.3,507.2 402.8,90.9 675.4,68 589.1,68.3 631.5,50.8 502.1,63.6 453.1,42.1 449,59.9 460.1,51.4 382.4,342.6 322.8,240.3 253.3,482.1 154.4,477.2 327.7,165.3 556.2,43.7 432.4,61.7 210.7,469.2 581.5,72.6 140.8,491.2 648.2,51 488.9,59.3 434.3,65.1 352.5,90.8 587.7,47.6 121.1,491.8 126.3,478.4 413.9,63.4 286.6,495.6 346.2,324.3 423.2,66 142.2,492.8 677.8,49.7 503.6,69.7 173.6,498 538.4,61.4 421.1,57.9 508.9,47.8 537.9,60.6 682.5,65.9 184.7,501.9 685.3,62.2 389.1,80.3 231.8,470.8 330.3,280 325,375.2 627.8,79.9 416.2,62.7 155.2,482.3 524.9,40 401.1,77.6 581.7,56.8 143.7,494.4 610.5,40 626.4,54.6 121.9,469.9 389.2,64.7 186.5,475.1 419.1,56.5 168.1,494.7 623,47.8 221.9,490.9 498.2,84.5 489.9,59.8 300.1,496.7 239.5,481.2 639.1,41 139.9,483.9 262.1,416 303.5,497.5 450.3,67.7 327.7,197.2 180.7,464.8 442.4,63.5 530.1,55.5 519.1,79.8 396.4,106.4 292.2,478.7 123.1,489 421,69.6 475.6,53.7 368.8,90.9 664.2,72.6 232.5,502.8 581.4,52.3 527.1,49.4 630,74.4 644.4,50.9 252.2,496.6 642.9,60.7 347.1,460.7 504.4,77.6 660.6,58.8 456.7,62.7 449.6,72 157.6,478.7 457.4,69.6 254.7,494.5 338.6,292.4 332.7,390.6 672.3,52.4 480.9,43.1 530.6,61.7 215.7,497.2 290.7,470 617.6,66 185.8,479.7 660.7,40.1 360.9,466.6 339.6,223.5 410.7,71.6 370,71.7 385.5,74.9 359,459.8 517.4,50 274.8,473.5 212.1,485.8 365,208.4 167.6,496.5 372.3,92.2 399.1,65.6 564.5,41.5 179.4,498.4 343.5,128.9 562.3,42.8 310.1,487.7 594.1,57.8 526.9,63.5 141,489.7 336.9,479.4 554.2,71.9 417.5,73.4 500.9,56.7 681.8,67.5 502.3,39.2 428.6,59.2 599.7,43 362.5,118.7 123.1,478.7 272.6,494.9 456.3,70.3 657.9,62.1 463.4,123.7 279,448.9 683.6,74.9 345.4,342.9 247.1,479.8 432.5,61.5 313.4,447.5 180.8,479.1 523.7,61 511.5,67.7 671.6,75.3 195.2,489 636.4,53.1 571.8,57 261.5,473.9 390.5,64.8 476.5,56.2 296.8,495.2 178.5,510.6 594.5,52.7 211.1,493.7 397,77 366.8,229.3 632.2,77.5 435.9,71.6 359.2,351.6 674.2,67.6 318.2,243 531.5,53.1 250.6,488.5 549,54.1 545.6,61.3 589.5,67.6 393.6,76.2 243.9,513.9 477.6,52.8 636.3,46.8 293.9,394.3 128.7,499.5 222.7,498.4 649.2,55.7 120.7,487.3 147.9,491.1 173.3,489 625.8,79.1 335.8,473.3 511.6,61.9 519.7,54 364.7,277.8 534.8,65.9 380.2,62.6 426.2,28.5 292.2,464.6 118.3,464.6 455.5,70.4 268.7,485.7 274.1,491.5 618.3,43.7 323.5,265.6 175.6,486 476.7,47.7 424.2,44.4 150,496 316.2,482.3 465.7,65.3 276.7,474.5 679.6,84.1 572.8,34 404.7,63.8 639.3,83.7 137,485 245.2,497.5 638.9,59.1 407.3,73.7 214.3,475.7 442.3,80.9 533.6,54.9 461.3,46 143.4,503.4 138.1,479.5 349.3,460.5 126.5,494.5 165.1,510.6 483.6,57.7 367.2,96.4 166,470 617,62.2 327.3,367.3 620.8,55.4 464.6,57.2 471.3,73.9 359,77.9 500.4,58.2 256.1,489 264,488.9 616.1,50.5 233.4,487.6 337.3,125.2 541.9,58.4 305.4,208.2 325.9,104 635.7,77 234.9,478.2 254.7,386.7 622.9,51.9 274.2,495.5 305.7,467.8 620.2,58.3 300.3,481.9 685.7,67.3 585.5,65.2 600,66.8 245.9,483.7 241,496.2 546.4,59.8 588.6,65.8 245.2,503.1 234.7,487.5 256.1,486.7 195.7,487.3 357.4,105.5 404,182.2 475.4,59.6 148.8,499.4 226.8,465.9 184,487.9 271.2,474.3 223.1,486.7 651.1,86.4 330.1,296.5 196.4,501.5 497.2,46.8 672,61 570.2,69.5 486.8,88.2 332.8,307 347.2,429.7 289.5,487.8 576.9,72.3 575.3,51.1 396.3,78.4 608.7,64.7 489.1,37.7 508.1,50.3 270.5,495.7 255,483.9 247.1,507 637.6,68.2 573.5,61.5 630,68.2 586.4,71.2 576.2,52 365.9,72.4 553.8,68.9 212.2,495.2 491.2,67.2 141.6,479.1 667.9,56.1 618.7,77 211.3,472.1 555.6,47 586.9,62.9 141.2,499.8 440,60.7 356.8,454.4 470,53.6 622.7,60 529.5,44.8 237.6,507.1 433.5,66.8 437.5,56.3 123.7,494.1 192.4,493.2 322.2,443.2 218.7,465.3 252.5,490.4 502.8,51.5 665.4,68.6 378.4,84 485.6,60.4 551.4,40.6 501,43.8 491.9,35.6 117.9,470.8 613.3,42.4 209.2,490.8 220.1,496.3 407.9,44.7 451.9,68.1 548.1,53.4 284.2,494.8 656.2,71.7 475.5,58.9 598.6,69.9 389.2,64 157.8,478.2 124.1,490.6 482.3,48.1 360.2,478.2 368.4,227.6 303.1,492.6 218.9,473.1 387.3,84.2 262.5,479.7 626.3,53.2 219.1,518.4 669,78.5 607.8,77.2 336,204 557.9,62.7 448.4,64 382.9,57.4 580.2,33.4 591,71.3 232.1,484.2 633.9,59.1 135.5,475.8 120.3,512.9 393,119 289,500.5 358.2,454.8 390.4,57.3 384.3,280.9 634.9,82.9 640.8,68.3 314.6,499.6 281.2,496.7 490.1,61.9 230.3,497.3 345.6,142.5 526.6,33.7 120.4,482.7 557.3,77.5 535.7,43.2 338,444.4 258.5,490.6 425.2,55.4 285.8,475.7 585.4,57.4 454,45.2 292.1,474.8 577.8,66.8 463.7,65.8 192.5,491.4 353.3,266 396.5,50.5 655.9,56 300.1,468.2 373,204.2 674.2,58.8 360.2,93.8 588.9,41.1 172.5,486.5 341.8,71.8 222,502 621.3,39.3 432.3,57.5 241.8,494.9 169.8,489.6 357.2,151.1 172.2,473 393.9,136.8 532.8,64 294.2,491.8 212.7,464 323.4,486.2 212,514.1 598.4,66.4 172,488.8 539.7,58 307.6,207.4 532.6,46.5 556.8,53 194.2,488 548.6,67.3 656.4,80.3 440.6,66 485,62.2 301.2,489.3 216.7,485.1 541.7,50.6 585.1,65.2 234.8,493.2 181.9,488.7 318.1,411.7 474.2,43.4 325.4,472.9 666.9,65.5 568.5,30.4 639.7,63.6 459.1,39.6 548.2,54 659.5,45.2 137.5,492.6 445,59.9 223.9,482.2 570.6,59.9 249.9,488.3 540.1,43.3 306.9,478.8 488.7,44.5 504.4,66.6 635.5,63.3 614.7,51.3 366.9,115.3 510.1,48.5 221.2,488 173.1,488.8 524.4,65.1 634.3,77.8 543,64.4 411.9,47.8 476.2,60.5 533.5,57.3 441.9,45.9 324.2,472.4 602.3,55.6 327.8,441.5 632.5,46.7 573.1,76.5 569.4,63.7 592.6,65.5 679.9,63.5 681.7,66.1 403.1,150.2 332.3,446.9 535.3,61.3 669.2,76.2 476.5,74.9 131.9,497.1 139.2,502.3 381.9,60 566.4,66.4 623.3,64.8 331,188 412.1,71.4 409.8,74.4 171.1,496.2 117.7,486.1 415.8,63.2 404.8,82.1 609.7,41.5 220.8,484.1 603.4,52 271.9,470.7 424.7,70.5 520.4,48.7 200,485.5 656.9,56.3 663.4,77 670.3,68.9 118.5,488.3 484.1,60.2 499.9,42 619,63.9 232.1,485.2 187.9,491.9 578.8,74.5 266.4,492.3 154.9,487.2 169.6,468.5 485.1,45.4 422.8,65.7 543.7,69.8 577.5,59.9 118.7,494.8 649.2,31.5 618.8,49.9 649.3,60.2 555.5,65.7 336,442 258.7,489.1 637.5,88.9 356.8,400.9 395.4,66.9 515.5,42.1 509.8,79.5 512.6,49.2 472.8,63.4 407.2,52.3 554.6,67.9 342.9,150.8 266.8,478.6 635.6,30.4 599.6,68.6 526.6,60.9 213.1,489.4 143.2,494.9 643.2,60.5 654.9,59.1 272.5,491.7 476.2,79.1 127.7,485.2 341.7,346.8 518.6,60.4 323.1,475.3 577.5,74 637.7,60.9 195.4,485.9 509.6,60 331.6,483.5 216.6,488 316.4,472.8 392,111.2 628.1,61.3 553.7,51.3 120.2,494.9 149.4,501.8 683.9,50.7 434.6,51.9 465.2,48.5 318.4,483.6 591.3,66.8 434.8,42.7 455.1,46.3 259.5,467.6 560.1,65 239.3,486.8 195.5,498.1 457.9,71.4 591.8,58.3 284.3,484 289.5,481.7 202.4,486.9 461.2,36.2 556.7,70.5 188.8,473.2 422.4,64.6 425,53.8 178.1,498.5 419.6,36.1 272.2,471.6 230.8,506.1 679.2,44.4 168.7,485.9 313,472.4 470,59.2 348.1,66 127.4,503.6 611.2,64.5 253.6,486.7 352.2,87.7 635.3,70.3 670.1,59 638.9,54 351.6,86.4 541.5,43.2 601,64.9 229.7,480.8 670,44.2 175,496.7 492.3,45.9 253.5,489.2 239.8,497.2 195.5,469.5 654.4,40.3 190.3,491.2 637.5,46.7 211.7,476.4 304.9,399.2 237.8,461.1 680.6,60.2 170.2,495.1 608.3,58.5 288.5,485.4 660.2,63.8 545.1,62 267.7,496.3 408,51.9 209.1,503 349.4,78.6 132.2,479.6 505.9,63.2 455.5,63.6 272.2,494.9 124.8,487.4 652.7,38.7 188.4,483.7 304.1,492 131.7,467.5 335.8,391.9 346.3,419.7 421.4,34.9 301.8,477.7 259.6,473.6 565.3,51.6 276.3,462.3 306.6,473.3 397.2,124.5 273.3,458.4 531.5,71.9 165.1,514.5 301.5,476.4 357.2,294.2 264.4,485.3 596.1,72.2 319.1,485.9 357.1,423.4 384.5,73.2 590.6,67.1 241.9,478.3 589.8,67.2 658,59.6 268.9,488.8 213.7,502 567,47.9 295.6,499.6 246.9,476.9 161.7,483.1 467.2,71.1 651.5,62.7 619.7,48.9 453,61.9 367.3,34.1 674,70 493.8,45 662.5,77.6 509.7,61.6 514.5,47.3 517,80.5 188.9,484.4 261.3,496.6 154.7,502.7 649,67.2 684.3,65.1 462.2,64.5 206.2,494.4 188.1,497.4 371.6,145.8 340.1,94.4 228.8,463.3 168.1,482.4 486.4,62.1 569,70.2 153.2,484.4 293.7,459.9 288.5,494.1 426.4,61.2 461.9,50.4 351.3,249 611,59.5 340,483.2 290.2,483.6 554.4,59.5 597.3,58 617.5,67.4 213.7,489 229.5,477 381,59.5 669,84 471,75.4 472.7,47.4 303.5,472 682,53.9 221.3,503.7 436.1,58.2 502.1,52.2 579.1,54 581.1,67.2 337.6,282.4 271.7,480.7 675.9,56.8 432.5,45.7 278.1,507.4 196.1,494.5 575.2,44.7 601.1,72.1 442.1,57.7 336.2,272.4 493.4,70.6 676.1,55.1 447,36.9 566,73.6 620.2,81.8 548.8,46.8 394.7,105.2 218.9,488.3 514.4,58.1 591.4,44.7 666.3,62.3 204,476.2 182,478.9 480,59.1 588.9,46.8 160.8,484.2 467.4,60 269.1,452.1 687,82 323.3,481.8 163.9,499.5 563.5,63.9 288.7,482.4 356.2,151.1 191.6,461.6 305.9,465.8 193.2,500.3 264,487.6 447.2,68.1 287.7,493.4 497.8,48.6 631.1,55.4 445.9,46.1 133.6,500.1 664.5,52 230,487.6 314.6,473.5 417.4,107.1 470.1,60 312.3,259.5 368.4,213.6 474.6,53.8 377.9,79.1 278.8,455.4 351.4,318 336.6,508.9 283.7,480.2 459.7,57.8 409.3,56.8 351.9,166 521.8,48.5 580.6,91.8 487.2,74.7 311.8,452.1 651.3,57 176.6,477.3 576.6,63.6 357.4,213.1 343.4,338.9 598,57.3 490.9,79.2 672.6,48.2 617.9,71.8 183.5,477.7 404.1,74.7 554.9,52.5 164.3,476.1 426.5,122.3 683.3,51.6 253.5,479.2 183.8,490.9 282.2,487.6 313.6,489.1 280.2,483 363.6,150 592.5,66.6 412.2,96.2 453.2,58.1 179.4,500.7 154.2,482.6 659.5,53.2 315.1,378.4 657.4,55.8 308.6,491.9 481.9,56.3 494.4,61.2 168.5,483.5 157.7,485.8 369.1,90.3 189.8,487 285.9,458 228.9,479.6 295.7,469.5 377.2,56.5 294.7,338.6 308.5,473.1 394.3,110.8 506.5,67.3 141.2,473.1 686,51 362.9,477.5 643.6,71.4 121.3,474.5 150,486.1 173.7,508 637.7,54.1 352.2,238.2 599.9,51.6 513.3,59.7 167.3,490.2 323.5,381 306.2,402.2 375.6,443.8 547.1,29.9 164.9,457.9 645.5,61.1 389,76.6 325.8,476.5 515.1,62.5 274.9,485.3 523.5,78.6 354.4,154.4 389.9,67.8 225,487.4 233.1,505.9 608.4,58.8 445.8,73.4 358,357.8 559.1,66.8 637.3,65.6 207.8,494.3 686.3,65.8 125.3,495.1 467.3,67.4 267.5,493.3 261,491.8 399.3,42 461.8,48.6 366.3,351.2 524.3,75.2 659.1,46 213.5,488.1 252.7,483.8 464.8,45.7 351.2,509.7 297,493.9 404.9,65.5 514.6,43 635.4,60.2 653.7,58.3 584.5,59.7 314.9,354.2 621.2,57.5 522,65.9 216.7,496.2 660.8,63.7 258.2,480.7 506.2,45.6 513.3,57.7 635,62.4 497.2,44.9 677.8,52.7 151.3,479.4 138.6,489.4 228.8,492.8 445.2,53.9 358.9,140.2 164.3,474.3 232.4,498.2 447.5,55.4 346.7,472.2 552.6,71 383.5,72.7 617.7,71.4 549.9,63.3 399.2,444.7 321.3,406.7 239.1,500 283.8,480.4 319.7,390.6 323.2,471.6 219.3,491.8 387,91.8 181,471.3 612.5,46.2 431,80.1 171.4,489.6 304.1,427.1 262.7,506.4 206.2,486 391.3,89.6 221.7,487.4 203.7,482.5 517.7,38.6 362.2,389.3 500.4,44.7 385.2,36.3 404.6,106.1 294.4,488.4 360.3,459.6 391.4,68.2 312.5,313.2 588.3,42.5 257.6,477.4 243,503.1 313.5,347.5 565,61.2 600.5,56.8 439.4,72.8 322.9,480.5 487.2,57.2 588.5,70 255.7,462.6 497.9,42.5 522,41.3 339.7,469.7 199.8,481.9 463.6,76.6 237,487.2 327.1,430 427.7,41.8 666.2,52.6 200.8,498.9 159.2,487.1 424.5,54.5 655,46.1 143.5,488.5 483.4,57.4 132.8,485 431.4,51.5 185.2,509.6 493.1,42.8 323.1,478.7 490.5,58.8 264.5,500.2 159.9,484.6 220.9,464.7 273.4,494.6 211.2,506.6 230.4,482.5 427.5,58.7 366.8,192.9 587.8,76.7 401,55.3 424.9,52.2 522.2,109.2 603.9,57.1 450.6,50.1 138.2,498.2 379.1,85.8 135.6,486.6 462.1,34.1 154.3,483.5 424.9,32.7 202.7,483.7 605.1,61.5 171,496.8 493.2,42.4 518.5,74.4 274.1,492.5 455.2,63.8 305.3,482.3 264.9,487.1 265.3,504.9 126.2,501.4 500.9,38.9 158.2,486.6 229.5,487.6 166.8,491.7 575.8,55.6 419.1,67.7 383.7,417.2 449.8,49.4 578.1,59 473.1,48.3 409.9,67.8 295.8,484.1 411.9,47.4 680.2,60 442.2,68.6 389.3,48.7 623.7,61 148.3,482.4 153.3,470 567.3,73.7 654.5,62.5 146.2,476.3 130.9,491.1 122.8,492.8 446.2,60.7 195.8,491.1 437.3,62.6 495.7,54.1 126.1,486.5 613.4,38.7 261.2,482.7 433.1,39.3 318.9,485.6 312.9,453.9 347.2,72.4 119.3,473.3 361.7,67.4 268.3,467.3 321,482.8 210.1,492.9 308.2,356.6 516.1,70 678.2,41.7 229.6,489.6 611.4,52.6 467.8,47.1 174.8,480.4 125.6,496 621.3,74.2 250.7,506.7 177.8,498 491,67.5 520.1,68 627.6,53.4 402.5,78.3 295.1,506.1 298.7,461.1 234,466.6 479.4,69.6 654.5,60.2 165.5,488.2 337.7,249.4 317.8,394.3 162.9,492.7 456.4,48.1 677.8,58 275,398.8 531.8,37.8 630.8,84.3 271.5,504 641.3,74.6 544,73.3 485.4,57.6 227.9,486.2 275.4,467.3 175.1,471.1 628,55.5 578.5,60.4 166.6,479.9 420,55.7 238.7,491.6 553.8,50.9 444,65.8 656.3,60 531.9,60.7 174.6,494.6 329.8,494.6 445.8,58.3 637.2,60.4 328.7,492.8 224.3,468.4 278.8,467.2 258.7,468.6 205.3,474.1 313.3,446.1 259.2,498.2 408.3,71 627.1,79.2 661.4,62.9 208.1,507.8 441.9,57.9 501.5,56 204.2,494.1 420.5,91.4 231.3,488.6 324.8,474.4 301.9,461.2 581.9,39.5 250.7,498.2 425.2,66.5 451.1,64.8 305.3,310 647.2,56.7 306.6,438.1 303.2,445.1 512.2,40.9 395.3,85.8 530.5,56.2 204.4,487.5 201.6,503.8 536.9,75.8 338.8,461 606,46.1 250.4,483.4 254.2,489 609.5,63.1 323.5,486.3 179.8,492.8 242.8,480.6 556,47.1 268.6,481.2 434.1,67.7 593.1,52.9 465.3,47.6 546.4,80.6 674.3,55.9 287.8,494.2 616.9,58.2 431.4,76.7 232.1,500.5 192.5,489.6 304.2,397 195.7,494 557.3,69.7 435.1,61 142.4,476.1 618,70.6 457.1,56.7 369.7,154.1 197.6,485.4 385.1,55.3 640.3,56.7 450.5,62 379.1,287.4 464,46.8 431.2,42.8 472.8,81.6 230.7,481.8 202,490.4 124.3,503 591.6,39.9 119,482.4 263.3,464.5 451,68.8 402.2,91.5 631.3,76.8 238.8,487.6 182.2,507.7 208.7,492.1 401.1,46.7 283.3,482.3 376.9,302.2 509.5,58.2 300.5,477 496.5,61.1 128.4,502.9 428.7,54.3 634.6,60.4 649.9,68.8 443.3,73.9 677.8,45.9 251.4,507.2 286.9,494 372.7,125 407.4,69.5 584.5,57 372.3,154 144.6,476 516.3,61 244.2,505.3 620.3,47.4 238.1,489.5 285.8,387.8 195.5,518.9 289.7,486.7 459.9,67 269.6,484.8 144.8,486.8 451.6,68.8 536.3,54.9 179.3,485.9 359.1,100.4 156.1,479.5 126.9,486.2 330.8,282.6 280.6,458.5 616.3,69 124.9,497.6 485.8,61 535.6,70.5 355,295.9 402.8,71.3 258.1,477.9 261.1,467.5 147.4,471.9 633.7,35.6 133.6,498.2 195.4,469.5 530.2,64.3 378.1,108.2 409.2,115.6 285.1,392.7 209.1,488.4 572.9,55.9 187.8,470.7 285.9,510.2 545.9,76.1 287.2,486.4 659.7,56 217.1,486.9 418.1,64.7 424,38.4 402.6,75.6 558.8,75.7 143.5,483.1 428.5,39 567.6,36.7 146.1,488.8 428.7,59.7 368.5,140.1 347.9,345.7 423.8,61.5 473.4,64.7 518.4,41.5 629.4,41.7 491.6,59.1 686.9,66 496.3,66.4 270.7,500.3 201.1,502.1 157.6,491.2 270.2,496.3 185.1,484.9 506.9,65.2 510.4,69.9 466.2,63.9 335.5,318.1 381.7,83.1 265.1,490 641.1,43.6 126.2,493.2 300,315.2 443.8,70.8 220.2,464.2 604.3,56.2 391.2,310.2 328.5,273 153,481.4 277.5,498.1 453.4,66.4 277.6,491.5 142.9,498.3 447.7,51.1 290.5,476.8 599.9,45.8 511.7,69.9 528.6,66.1 624.8,59.9 579.1,52 305,281.8 441.7,62.6 264.8,469.5 232.1,487.1 234.6,489.5 180.5,501.2 253.5,491.7 245.3,480.1 500.7,47.9 260.6,505.7 143.8,483.8 357.6,65.5 231.8,499 510.3,38.6 243.6,480.6 434.8,72.5 217.6,500.1 392.1,64.2 611.7,76.6 290.1,490.4 417.8,54.8 367.3,168 157.1,486.6 129,483.6 597.6,67.3 311.3,169 508.4,52.3 352.5,75.7 595.2,67.5 228.4,478.7 393.1,99.7 429.9,58.6 569.7,59.2 134,488.7 323.9,452.9 388.2,54.2 453,54.5 197.9,487.2 427.2,53.1 512.6,64.7 535.2,61.6 245.1,482.9 368.6,333.4 287.1,463.2 338.3,232.9 324.2,418.8 656.2,66.1 124.8,497.6 657.6,57.2 136.1,479.8 161.6,483.6 234.7,475.9 280.8,482.7 606.3,43.1 596.9,41.9 650.1,65.2 339.4,329.4 126.2,495.5 474.1,64 630,51.7 178.5,482.8 589.2,57.5 118.2,496.3 534.8,64.7 398.5,65.8 635.1,57.4 616.2,94.3 143.7,485.8 401.3,65.3 255.2,496.9 367.8,323.5 155,479.9 322.8,470.1 350.2,108.7 119.4,479.6 387.8,74.5 627.4,57.7 151.9,514.9 656,77.7 396.2,66.5 237.3,503.9 669.8,45 387.2,455 366.4,101.1 331.9,473.9 619.8,27.6 191.3,488.1 237.2,471.5 278.7,493.7 152.8,501.7 598.5,55.8 395.8,49.2 460.3,66.2 622.1,47.9 399.3,55.6 274.8,488.3 420.1,57.6 402.5,59 287.6,493.5 249.4,486 321.2,480.6 536.4,68.2 211.5,518.4 685.2,52.4 251.4,496.3 272.7,471.2 187.3,498.3 340.7,394.7 329.3,471.2 506,63.5 628.2,60.4 258.5,449.8 578.8,79.9 293,460.8 349.1,101.8 190.3,484.8 626.3,78.5 330.1,472.2 516.9,59.7 132.3,469.6 514.7,65.1 246.3,490.7 374.6,72.6 501.4,84.4 214.6,493 417.8,62.5 593.8,86.3 210.4,499.4 383.9,66 222.2,484.6 198.9,469.5 396.6,48.9 377.6,82.3 484.3,50.7 606.4,55.3 520.1,58.5 309,356 394.4,59.7 501.4,39.5 595.5,56.2 506.5,69.1 403.8,77.4 193.3,501.3 612.3,49.4 277.6,497.1 348.2,382 621.6,61.7 235.4,484.3 638.3,50.9 247.8,460.2 166.9,479.9 410.1,264.2 570.7,55.3 346.7,454.4 597.8,59.2 343.2,115.9 582,71.1 181.5,484.7 278.8,502.9 187,475.3 539,63.9 385,74.7 491.1,52 253.1,478.7 536.1,58.3 683.3,77 162.3,503.3 299,480.8 613,33.5 602.8,56.6 614.5,56.2 246.4,481.5 438.3,69.9 166.3,475.5 363,72.6 445.7,59.1 264.6,497 357.9,382.2 326,359 165.5,499 156.3,492.9 562.6,41.7 118.9,484.9 679.5,66 628.8,54.7 680.2,66.1 565.2,46.5 118.6,479.1 183.3,492.3 298.9,484.2 220.6,487.3 151.7,499.9 640.1,72.7 636.3,61 554.6,69.8 261.5,473.4 603.3,49.6 584.3,62 301.8,458.1 190,467.9 194.5,493.1 350.4,193 591.7,68.9 160.7,501.3 362.2,260.2 319.4,480.9 626.1,76.2 204.4,473.2 491,49.6 301.4,460.2 485.9,61.6 586.1,60.2 587.4,73.6 599.4,55.6 284.1,496.4 274.5,507.4 187.1,471.4 262.8,494.7 185.3,496.8 564.3,61.9 144.2,496.4 226.5,463.3 567.8,54 555.4,49.7 672.3,49.1 336,440.4 142.9,513.8 578.1,50.3 280.5,469.6 558.1,58.4 128.2,474.6 137,480.9 458.3,79.9 507.3,56.4 437.7,61.4 420.7,46.5 457.7,83.3 191.9,480.7 153.5,486.4 316.4,475.9 429.6,55.2 259.1,511.9 219.3,480 371.8,264.8 350.8,77.1 270.4,477.1 645.8,59.8 654.9,40.2 143.9,475.6 391,80.3 252.8,478.9 308.9,477.4 133.4,488.4 162.9,489.8 136.3,476.3 188.9,497.3 487.4,54.3 161.9,505.8 622.4,55.6 574.9,73.9 270.7,502 511.5,59.8 660,72.3 183.5,475.3 436.6,72 382.7,41.3 294.2,477.3 281.4,391.6 166.5,480.7 486.2,56.9 230,460.6 358.3,367.4 646.5,66.1 315.8,480.9 297.5,485.1 648.9,60.1 450,66.1 442.5,65.5 244,477.4 482.9,60 333.4,62.5 427.3,63.3 344,473.7 163.4,493.5 617.7,44.4 511.7,40.3 663.6,60.3 292,477.6 277.7,484.1 194.5,502.6 291.5,479.1 302.6,332.2 222.1,455.5 268.1,471 284.9,390.5 606.5,60.2 371.7,84.2 584.7,69.4 145.6,498 224.7,478.1 660.5,71.2 145.9,497.3 156.8,469.7 412.6,74.7 282.5,492.9 227.9,471.9 464.3,30 464.5,78.4 224.4,516 424.6,69.4 376.6,93.6 599.9,59.6 156.2,494.4 250.1,502.6 439.4,52.2 136.2,493.9 599.5,66.7 669.3,58.6 304.4,275.6 559,57 259.2,454.6 657.8,62.8 237.9,480.6 120.6,512.9 156.1,495.4 378.8,75.3 139.1,496 676.3,68.2 477.1,65.6 441.6,70.6 474.3,65.3 355.7,225.1 622.3,54.6 523.7,71.6 362.6,149.1 279.2,497.1 199.5,477 296.9,462.7 318.6,434.9 163.1,482.8 644.7,62.1 264.3,481.2 425.2,61.4 154.9,502.6 432,45 485.6,33.2 162.7,480.3 673.5,58.9 210.2,482 267.1,467.7 537.2,64.3 309.2,468.3 617.1,56.7 253,441.1 296.2,491.6 512,52.1 607.6,54.6 621.2,60.2 281.5,466 420,112.5 351.5,265.5 502.7,52.3 246.9,466.3 595.7,58.2 524,45.8 216.9,481.7 296.3,454.6 308.9,475.2 647.5,27.5 377.3,95.5 468.6,72.9 647.9,52.9 343.4,259.3 656.7,43.1 283.8,477.7 124.5,477.5 175.7,496.4 512,58.8 334.7,53.4 592.5,65 421.1,58.7 508.2,44 318.2,443.1 452.1,55.5 515.3,43.9 332.1,67 397.1,333.8 598.3,56.8 647.1,57.9 317,389.9 155.4,459.9 597.4,44.7 372.3,129.9 669.9,66 552.2,48.1 327.1,477.8 602.1,42.7 429.6,56 524,46.3 621.8,67.6 448,60.3 657.4,57.5 344.4,72.4 333.2,291.2 482.3,62.6 348.1,451.9 520.6,66.4 420.1,59.6 540.5,77.5 588.1,47.6 440.8,53.6 638.6,51.5 562.6,43.5 605.9,55 128.3,490.5 126,471.3 479.1,62.8 307.1,288.6 615,83.8 340.6,115.9 541.4,58.7 257.5,479.4 476.2,52.4 630.8,47.1 608.8,65.1 326.2,425 391.9,58.8 422.5,79.9 313.7,453.5 393.2,165.3 667.2,82.1 618.9,77.4 296.6,393.1 507.2,67.2 658,49.9 323.7,154.3 601.1,71 571.9,51.6 622.9,61.9 165.3,483.3 643.5,66.8 676.6,68.4 254.8,491.6 478.2,68.3 168.6,489.9 460.7,71 521.2,55 542.4,49.9 605.8,53.6 284.5,454.2 183.3,473.3 583.1,79.6 131.9,485.4 250.1,485.5 252.3,478.9 559.2,67 369.3,190.9 594.9,45.5 498.1,45.8 597.9,71.1 565.5,62.4 619.1,68.4 274.7,518.1 319.9,219.6 475.6,66.9 449.6,58.8 560.7,56.2 578.3,74.3 291.1,473.1 186.2,495.7 539.9,76.3 509.1,55.2 275.1,481.5 149.7,494.3 130.4,488.6 258.8,468 273.2,474.6 235.4,487.7 146,492.1 214.4,466.3 316.7,480.9 169.8,510.8 235,473.5 367,77.1 600.8,84.7 614.2,75.6 348.2,502 189,513.8 270.7,495.3 502,66.2 349.5,220.9 442.4,61.9 537.4,66 492.9,61.2 607.3,56.9 166,476.3 286.5,471.5 136.6,511 414.4,79.9 467.7,59.4 262,465 148.8,493.8 381.7,48.5 212.8,494.5 228.1,494.5 334.7,401.6 656.1,42.8 322.5,437.5 521.6,58.3 329.6,475.6 348.3,476 197.1,487.2 222.5,477.4 556.7,39.2 362,87.6 279.9,473.2 680.1,60.7 618,55.8 267.9,490.9 364.8,85.6 440.5,70.6 211.9,494.4 360.8,86.7 279.2,448.8 579.3,48.9 171.1,494.5 682.6,67.8 251.5,471.7 306,503.8 160.3,499.9 637.8,46.8 589.4,60 155.8,478.6 418.4,62.7 339.9,366 462.8,66.6 308.8,481.8 662.5,56.2 241.5,485 584.9,64.1 269.8,473.5 487.6,58.2 361.1,396.3 417.1,73.2 414.9,78.9 474.2,50.4 156,495.5 151.1,497.7 670.8,54.7 261.5,471.2 320.7,456.6 253.9,491.2 485.4,53.8 678.3,52.5 346.8,281.3 300.4,358.2 316.5,478.3 132.7,496.9 168.4,463.1 144.6,495.9 301.9,485 678.5,59.6 197.7,485.4 430.2,30 235.3,490.7 138.2,475.6 594.5,58.9 189.8,491.8 194.3,478.7 583.2,54.9 256.2,489.8 230.6,498.6 655.1,53.9 228,447.5 591.4,60.5 292.1,467.8 439.8,82.1 294.6,446.6 310.6,497 648.8,65.8 634.8,81.1 216.9,476.6 530.3,57.1 196.8,482.6 287.9,470.4 157.6,469.2 486.7,42.6 531.5,45 542.8,90.6 558.8,69.6 342.3,201.7 218.2,477.1 119.7,520.1 368.2,41.4 649.4,54.9 373.1,65.1 468.4,72.7 640,67.9 609.1,71.2 539.1,66.3 455,68.1 249.4,508.3 544.1,43.6 355.4,270.9 520,68.7 244.6,511.8 653.6,45.2 210.7,514.7 568.1,72.1 624.9,74 203.9,496.5 610.5,53.6 484.6,48.9 461.4,56.2 262.1,496.8 304.5,365.9 251.3,473.7 368.9,51.8 486.7,31 532.8,71.7 519.6,68.2 315,488.1 308.9,492.5 552.6,51.5 672.5,56.7 243.6,492.5 352.6,76.9 274.7,485.1 673,65.8 126.6,495.4 626.1,74.7 554.8,61.9 306.4,456.6 505.2,60.6 328,88.4 480.4,53.8 359.8,70.4 639,36.8 378.2,112.7 580.4,50.9 445.8,59 329.6,400.5 668.5,67.4 228.6,497.3 635.1,51.8 676.8,79.8 601.4,57.7 465.3,76.7 472.1,81.1 646.6,58.5 364.2,452.4 587.3,36.4 558.9,80.2 606.9,57.6 368.5,151.2 489.3,57.4 169.8,493.7 158.3,507.3 178.5,479.4 536.5,50.5 319.7,473 635.2,56.1 162.4,473.9 215.5,476.5 594.1,51.1 355.8,236.4 242.9,475.1 562.6,69.7 250.9,483.3 672.3,71.2 274,488.7 606.8,50 390.7,68.5 650.6,48.1 286.1,489.5 644.7,39.6 289.8,489.1 372.8,204.2 477.9,50.9 433.4,60.4 499.7,72.6 514.1,64.3 269.9,463.9 122.2,502.8 529.8,77.8 459.5,55.8 438.5,44.5 399.9,65.1 646.6,69.5 286.6,487.6 637.3,61.9 213,474.8 513.2,37.1 654.1,61.1 205.1,497.7 556.4,73.5 272.9,507.7 150.9,489 363.1,107.2 515.8,50.9 278.8,484.8 659.1,67.7 118.5,471.1 269.9,475.7 312,468.2 328.7,120.5 288.1,275.6 129.4,488.3 236.9,501.5 266.4,480.7 500.7,45.3 332.4,422.2 529.1,58.2 369.5,423.1 311.5,491.1 207.9,483.3 247.4,490.2 631.3,64.2 376.7,78.8 296,487.2 241.7,493 617.1,64.5 518.8,69 513.2,65.7 576,42.9 254.8,498.1 534.1,29.9 157.9,507 496.4,88.4 300.9,490.2 494.6,74.7 246.4,473.5 318.8,301.4 499.4,72.4 652.9,62 311.5,436.5 213.6,457.2 188.3,486.7 500,56.5 627.2,53.3 126.9,485.7 313.9,488.4 213.5,498.6 661.6,58.6 192.6,486 156.3,504.3 555.2,58.7 686.9,74.6 558.5,79.6 182.6,489.3 349.8,354.3 413.7,51.1 629.7,66.4 546.8,77.1 151.4,499.1 375.5,66.6 561.2,61.1 426.9,54.2 497.4,61.9 668.9,47.2 675.3,67.3 594.4,54.2 443.3,52.2 292.6,320.4 208.3,482.1 212.7,501.4 482.4,49.2 558,65.8 606.9,61.9 638.4,71.8 281.4,481.7 307.9,473.8 229.1,496.4 427.4,52.5 657,68.8 549.2,55.4 366.3,74.1 207.9,482 597.8,59.1 628.3,74 555.2,57.9 283.8,451.5 339.7,460.2 450,37.5 640.6,49.1 255.7,476.6 356.5,495.8 151.5,494.6 119,501.2 256,481 578.5,53.1 502.3,53 389.1,54.4 350.8,263.3 268.3,482.5 554.1,66.4 395.3,52.4 157.1,488.1 474.8,46.8 683.5,64.7 158.7,491.4 685.8,68.8 173.9,480.4 292.7,497.7 674,87.6 671.5,69.1 222.5,496.4 528,59.6 466.6,63.7 344.2,444.9 564.1,55.6 479.1,47.9 245.6,471.5 396.7,53.3 521.8,48.4 471.6,65.1 426.8,54.1 537.8,60.5 194,478.9 141.7,495 135.9,480.2 471.1,65.9 364.9,92.9 593.8,44.7 671.2,44.6 181.1,492.8 333.3,326.5 356.4,476.9 428.8,57.4 635.8,76.1 459.3,59 291,501.9 495.3,59.7 304.9,496.4 433.8,44.4 173.5,462.2 438.8,48.9 390.1,69.8 485.3,53.5 440.3,60.5 443.8,61.7 537.6,72.9 193.3,497.2 545.8,49.6 472.9,64 509.9,54.4 345.1,425.8 165.8,460.4 643,42.8 588.8,60 673.8,36.7 379.7,121.2 621.7,45.9 614.2,60.7 430.8,64.2 630.7,42 581.8,50.1 175.8,477.7 193.5,475.6 349.5,472.9 421.1,65.4 489.4,54.3 439,79.7 616.8,57.7 573.8,45.4 175.6,490.2 310.6,461.7 623.5,62.9 547.8,71.1 126.2,480.6 474.6,60.8 189.2,480.2 404.3,71.4 684.1,52.2 160.1,486.2 586.8,55.8 393,52.1 675.4,67.9 607.4,60.7 154.2,474.4 484,44.3 607.8,50.3 276.4,500.6 519.1,56.4 262.2,491 234.3,491 306.6,393.4 284.3,491.2 666,47.2 251.2,478 359.3,92.1 394.2,118.6 511.3,58.2 670.3,65.7 467.3,53 608,63.5 192.1,504 494.4,63.8 215.5,482.4 614.1,69.8 456.8,50.2 194.9,475.3 602,51.8 416.6,52.3 394.1,136.1 163.5,481.3 634.4,67.6 410.2,86.7 610.2,67.3 160.1,470.6 504.8,46.8 331.3,482.3 423.2,61.7 473.2,67.6 588.1,73.1 643.7,63 212.3,478.6 607.4,58.5 183.8,490.8 123.4,513.4 289,459.2 279.5,501.3 556.9,59 436.7,57.5 338.6,391.2 568.1,49.4 650.8,86.6 482.9,69.6 489.6,67.3 608.6,75.1 284.1,501 685.1,49 217.7,503.1 143,475.2 586.6,48.8 216.6,492.2 308.5,345.7 409.8,66.5 180.6,496.5 358.9,233.7 319,495.8 166.1,487.5 461.1,62.8 374.4,164.3 208.3,488.4 566.6,45 351,419.5 131.9,487.9 618.7,60.3 350.5,479.3 169.6,476.8 281.9,473.3 262.6,485.7 142.2,489.8 305.9,472.4 213.4,475.8 239,493.2 501.7,54.3 207.5,509.4 129.4,495.9 219,482.5 285.7,506.6 211.3,505.8 457.8,56.4 618.8,82.5 590.8,63.1 385.5,141.8 565.2,55.2 568,38.7 479.1,41.1 574.9,68.2 333.1,446.3 543.7,54.9 415.3,52.6 538.4,42.5 538.7,50.2 154.8,484.1 592.6,71.7 137.8,475.7 360.9,192.2 454.2,48.9 586.8,43.6 150,505 500.2,35.6 313.9,489.7 140.6,475.3 306.7,381.7 482.5,37.6 164.4,474 600.9,40 141.7,478.1 253.5,497.2 305.2,485.2 153.8,479.8 645,48 668.2,57.4 633.2,67.6 230.6,502.7 592.3,58.1 309.8,444.5 281.9,478.1 510.7,64.9 165.9,480.8 120.3,479.3 648,57.6 319,503.2 570.5,67.2 360,297.4 170.1,480.5 387.8,66.6 214.7,490.6 163.3,500.9 128,494.4 345.8,404.1 264.6,477.8 308.8,407.4 665.6,69 590,73.5 519.7,47 256.4,487.1 544.8,52.1 515.2,55.6 418.3,384.4 253.4,517 235.7,477.2 356.4,71.3 274.9,485.7 621.7,61.1 382.8,326.2 503.7,62 628.8,80.6 471.4,63.3 208.9,487.9 299.3,464.8 643.3,70.6 143.4,491.5 243.6,485.6 469.6,53.5 604.3,36.1 585,51.5 534,51.2 517.6,73.1 330.2,457.2 152.2,508 479.7,43.1 158.6,477.4 572.5,57.7 192,500.1 131.2,481.3 687,64.5 212.6,471.7 449,93.7 152.3,486.7 676.5,89.8 126.7,486.8 509.5,62.6 598.3,49 286.2,499.8 121.7,499.3 138.3,513.2 152,493 547.4,57 418.6,74 628.4,70.5 477.9,61.7 456,52.4 232.3,483.6 244.7,510.7 675.2,65 660.3,69.6 366.8,282.6 570.6,52 527.9,55.3 275.6,483.5 231.2,481.6 544.2,56.2 666.2,64.8 678.1,55.5 320.9,480.2 154.6,496 299.2,474.6 157.1,506.4 680.4,36.6 292.4,403.9 600.5,64.1 257.7,482.7 664.6,70.2 396.1,75.3 592.7,35.6 458.9,53.5 554,61 158.8,489.7 167.2,477 320.9,449.9 617.6,63 635.7,45.1 522.4,59.3 458.6,60 145.2,478.8 646.4,67.8 493.5,77.5 468.4,61 597.4,48.7 252,491.2 470.7,48.7 506.6,44.7 548.4,63.1 171.2,487.7 532.5,60.7 632,51.3 475.5,53.3 214.1,485.5 641.1,42.8 175.4,483 248.6,484.3 604.7,67.6 452.9,58.2 308.6,471.3 575.4,50.6 486.4,57.5 184.6,488.7 249.6,498.5 579.4,67.4 579.7,46.7 159.6,487.3 414.6,57.9 523.8,43.9 302.8,354 153,493.2 355.1,254.7 650.3,51.4 533.6,77.4 238.9,487.7 598.9,68 497.9,64.7 282.7,481.1 270.4,506.7 218.2,496 348,83.9 322.5,487.4 279.9,490.7 615.5,47.5 551.1,74.8 398.2,78.8 666.2,43.6 501.4,58.6 660,54.7 587.5,61.3 478.9,54.6 512.8,50.5 559.1,60.7 549,57.4 615.4,55.7 311.1,505.9 324.4,458.6 258,466 642.9,49 632.6,55.8 369.3,78.7 346,282.7 192.8,464.4 673.4,41.1 500.3,66.7 666.7,40.7 477.7,66.7 410.3,69.1 544.2,60.2 623,51.2 599,61.1 314.5,122.2 406.2,57 656,40 405.9,79.6 574.6,57.1 416.5,50.9 591.9,40.4 156.1,511.6 117.9,489.9 168.9,510.3 365.8,57.6 326.8,460 664.1,54.5 685.7,46.6 193.9,476.9 593,60.8 407.6,52.7 596.9,22.1 327.7,460 557.8,51.6 119.8,492.8 384,195.3 307,439 260.9,479.9 288.6,435.8 356.2,182.3 400,35.7 416.6,71.6 536.1,65 588.7,47.4 665.5,71 498.8,85.5 263.6,506.3 447.3,55.9 367.3,68.7 251.3,485.8 306.8,478.9 247.9,473.6 424.5,59 154.9,471.2 427,40.8 352,97.2 120.9,472 274.5,475.2 670.9,59.6 447.7,58.4 154.2,474.3 446.6,72.6 518.6,76.8 194,473.3 346.8,405.3 239.2,483.6 426.6,46.3 586.2,77.3 253.9,502.4 196.7,493.3 196.5,491.2 467.5,56.5 156.7,492.6 417.4,60.1 579.1,60.5 554.3,51.1 499.4,45.7 123.4,476.7 363.4,53.6 256,489.3 411,78.3 203.8,509.2 194.3,506.8 659.7,48.9 619.4,52.8 172.9,486.7 589.2,62.2 154.8,501.7 310.5,511.8 684,65.4 653.6,61.5 383.8,209.7 517.5,43 335.4,391.9 601.2,53.4 297.5,471.5 234.8,467.4 199.6,490.7 476.9,47.2 435.3,48.1 632,57.9 200.9,483.5 576,69 655.4,55.5 543.1,66.4 182.8,489.9 204.7,486.1 167.3,476.2 307.6,484.7 550,61.8 199.8,492.3 373.2,293.8 142.5,492.3 504,53 173.5,505.2 569.4,58 466.6,72.8 225.9,494 515.5,49.8 316.3,424.5 415.8,56.8 434.6,51.6 272.1,465.6 355,323.3 565.6,57.6 610.2,47.1 601.1,56.2 441.2,63.6 614.7,64.2 197.3,481.7 678.2,62.5 142.9,476.4 630,75.3 568.7,49.6 339.7,470.6 567.9,59.5 663.3,33.5 210.8,475 487.5,64.8 119.7,491.9 496,48 152.3,476.2 498,58.9 132.5,478.4 347.2,477.8 611.5,91.2 291.9,471.6 669.9,64.4 386,90 221,489.4 651.1,62 205.8,497.9 455.9,55.6 654.8,48.6 653.6,43.6 434.1,50.5 238.2,482.2 402.6,69.3 283.7,476.2 296.4,473.1 298.3,516.6 232.3,501.1 139.3,489.4 545.3,48.9 124.5,470.7 444.1,38.4 326.6,216.5 487.9,57.8 448.3,64.7 390.4,104.9 560.5,62.8 443.4,57.3 629.5,49 450.9,76.3 617,60.2 609.9,70.5 520.2,42 305,440.8 394.7,71.6 162.3,495.9 530.8,51.3 485.7,47.3 583.9,70.5 165.3,492.6 190.5,484.3 485.7,71.4 534.7,40.9 159.2,487 134.7,486.7 302.4,500.4 310.8,472.7 146.9,503.5 172.8,496.1 233.5,494.7 125.3,489.1 201.5,504.6 131.8,496.8 328.1,477.6 544.1,59.3 494.4,57.4 461.9,47.3 384,53.9 224.1,475.2 144.7,487.3 223,498.2 657.3,39.1 581.4,79 442.2,75.4 466.9,72.5 542.1,30.8 585.9,57.9 254.9,473.8 574.7,77.4 486.9,71.9 275.7,483.7 281.2,492.2 214.9,486.2 429.3,51.9 669.6,57.8 567.6,57.8 212.1,485 185.5,490 277.9,483.6 210.9,476.1 198.4,498.6 534.5,55.5 296.6,460.7 439.7,61.8 297,476 678.7,36.9 454.9,45.5 196.8,460.3 560.5,36.6 282.4,491.4 376.7,143.9 281,490.4 396.4,51.9 292.5,523.2 300.1,460.4 207.1,471.3 664.7,58.1 235.5,483.5 278.4,486.3 351.2,498.1 184.4,476.2 247.8,490.8 349.5,461.3 450.1,58.8 423,35.7 327.4,218.9 503,53.5 542.4,59.8 268.4,496.9 253.8,481.9 473.8,45.8 351.8,59.5 590.6,84.2 122.8,496.6 426,35.8 316,416 238.3,485.2 612.1,81.2 240.9,494.2 566.9,68.8 604.2,49.2 668.9,51.2 183.6,480.9 206.2,475.4 165.1,493.1 299.9,462.4 634.3,61.5 484.3,47.7 205.5,462.4 177.4,493.5 544.6,54.2 472.6,60.1 118.6,485.8 452.1,55.1 225.5,488.2 284.6,487.2 174.7,479 682.5,74.3 377.7,198.9 469,64.5 233.6,503.6 331.1,446.1 486.1,64 543,68.8 634.4,74.7 258.4,497.3 254,480.1 347.1,300.5 293,360.6 584.5,51.3 328.9,235.8 330.2,474.4 403.8,73.6 438.8,47.5 318.7,351.9 122.2,496.5 536.5,67.2 182.6,483 604.4,80.4 258,456.2 263,481.8 422.5,71 634.6,51.5 334.2,501.4 391.2,308.2 353.7,91 181.1,469.9 281.6,456.5 640,75.5 652.9,59.6 262.6,486.4 641.9,67.8 126.2,496.9 527,40.5 131.8,498.6 360.2,118.9 352.6,388.3 365.2,53.1 653.9,50.7 318.1,464.6 127.5,502.9 180.1,488.7 544.5,25.1 190.5,480.5 150.7,475.3 228.6,506.4 674.8,63.8 370.7,88.9 201.7,467.2 492.7,62.4 332.6,217.2 432.4,66.7 685.2,92.6 515.9,45.5 422.2,81.5 686.5,65.8 405.5,94.3 375.4,70 602.3,64.5 663.5,65.1 527.5,41.9 325.5,339.8 346.8,82.2 122.3,481.4 253.9,492.6 560.2,65.2 396,37.5 605.6,49.9 499.3,69 440,60.2 576.7,69.7 401.1,108.5 497.7,76 396.5,356 318.2,155 553.4,55 157.8,487.8 674.4,56.4 665.1,69.3 590.7,58.3 383.8,55 373.8,172.6 346.7,89.4 379.1,56.1 243.6,501.8 572.9,67.7 619.6,69.2 402.7,80.1 603.6,60.6 283.5,479.3 607.4,46.5 672.2,53.8 499.5,67.9 666.3,50.3 531.2,47.5 512.6,68.2 387,73.8 151.3,489.7 188.6,465 589.2,62.8 220.8,490 508.6,50.8 208.5,501.9 547.8,72 662.2,60.6 469.7,49.2 139.4,491.6 537.5,66.9 388.6,91 610.9,40.4 202.1,502.9 277.2,471.4 641.4,67.7 594.6,45.6 635.6,39 414.1,77.3 501.8,52.3 649.2,50.5 493.5,44.4 167,491.6 205.5,473.3 118.7,486.7 180.7,499.9 132.7,476.1 336.6,417.5 468.8,59.4 608.3,60.7 350.2,353.8 208.9,467.9 635.5,73.9 640.1,46.6 674.6,35.2 130.6,498.4 454.1,52.4 476.8,58.5 421.9,55.3 224.3,473.2 642.2,78.1 423.2,73.5 138.4,504.3 314.6,488 532,37.1 232.9,500.4 560,64.8 237,495.2 363.9,61.7 283.9,491 190,497.3 621.2,68.4 311.4,488.5 545.7,73.8 625.4,87.8 278.5,439.5 120.4,486.5 416.7,76.3 251.5,490 615.5,50.6 211.2,498.2 528.6,58.9 131.8,494.4 271.8,473.1 229.4,516.8 603.1,75.9 458.9,42.7 493.4,73.4 164.1,497.4 293.2,502 626.1,86.9 466.9,60.7 549.2,51.3 403.3,98.5 234.3,502.7 638.4,65.7 267.7,460.4 214.1,490.4 487.2,70.4 166.4,477.6 553.2,62.9 523.3,81.6 335.7,216.4 410.9,54.5 394.9,198.4 159.8,489.3 162.6,480.6 318.2,364.2 120.9,506 223,488.2 325.7,489.3 474.9,59.6 411.2,68.3 216.2,497.1 550.2,76.2 570.2,56.1 495.2,36.4 509.5,74 261.7,474.5 595.2,51.3 450.8,67.1 218.4,500.2 507.5,53 475,63.6 441.5,63.9 385.8,71.3 554.5,36.7 533.5,78.5 453.1,54.2 155.4,465.6 249.5,485.9 675.4,33.9 346.7,466.2 478.1,57.3 192.2,478.7 443,67.9 464.3,58.9 551.8,52.4 669.7,67.1 377.2,162.6 295.5,471 208.3,501.8 307.8,446.2 370.1,277.1 667.1,67.7 408.7,121 502.1,44.5 535.5,65.8 125,484.9 250,495.3 425.3,60.6 149.9,482.3 203.1,489.6 546.4,57 501.6,64.3 196.2,473.7 184.5,476.7 598.1,66.4 386.6,84.6 297.5,451.5 527.3,64.5 498.7,42.6 684.2,27.3 176.2,490.1 555.4,49.4 379.6,101.8 258.7,470.7 401.4,51.5 128.9,477.6 188.2,485.3 179.2,476.1 512,45.5 521.1,50.4 256.2,490.7 292.4,489.3 557.8,58.3 338.3,81.6 316,493.9 656.4,73.8 427.6,60 424.1,69.8 465.4,63.1 140.7,502.7 344.7,338.8 566.9,63.8 488.6,61.6 624.8,33.1 294.3,451 388.4,340.8 251.1,480.9 222.9,483.9 169.1,491.1 230.6,479.9 210.7,481.3 367.6,154.8 351.6,109.9 552.9,61.2 561,77.7 425.6,68 491.7,50.4 384.3,84.5 294.2,482.5 404.3,51.7 477,49.4 661.7,77.1 582.9,71.8 155.2,483.4 482.2,69.5 169,495 472,55.5 601.5,62.3 515.9,67.1 185.3,504.2 358.8,383.6 228.5,504.1 494,64 522.4,45.9 537.4,60.1 320.4,461 458.2,72.6 235.9,473.9 647.5,49.7 652.3,82.1 134.5,504.1 438.7,51.4 526.6,39.6 248.9,494.1 136.1,476.3 118.4,506.7 520.3,78.9 124.2,502.6 337.5,477 572.5,56.5 147.2,479.1 520.2,80 363.1,231.1 339.4,279.9 393.2,28 317.9,417.5 608.6,80.6 499.3,59.5 338.3,451.2 185.8,469.3 404.8,63.4 686.9,44.1 625.6,68.6 155.9,497 320.3,127.6 385,81.4 348.4,485.6 181,481.5 223.4,473.8 422.2,65.4 528.4,65 525.7,65 500.4,52.6 501.4,60.6 122.1,482.6 241.6,474.4 309.2,478.9 263.3,491.1 338.6,380.5 344.9,48.8 310.9,488.9 123.1,487.1 610.5,62.8 662.8,48.4 468.3,54.3 272.8,501.7 374,329.5 637.4,54.3 459.2,44.8 514.6,52.8 516.4,59.9 676.5,71.2 490.7,47.3 178.9,473 405.5,71.2 643.1,60 191,482.4 146.3,489.5 145.9,483.3 157.1,492.5 210.5,495.7 556.8,44.6 459.1,79.7 534.5,51.6 434.6,71.4 319,480.5 565.7,67.3 214,485.9 322.4,495.2 354,472.9 505.1,76.4 551.2,72.1 440.4,155.5 463.9,51.8 277.4,497.6 455.5,36 598.1,63.9 367.7,202.5 545.8,81.1 406.9,71.7 409.6,86.7 463.9,73.4 197,507.1 240,492.3 217.3,498.3 422.3,40 498.8,60.2 520.7,56 236.1,513.2 307.5,412.5 200.4,469.6 490.1,72.7 357,85.5 272.8,495.7 245.5,470.8 658.4,75.4 391.9,103.2 682.4,78.5 300.4,467.6 240.2,478 525.4,71.1 637.3,45.7 210.6,486.3 608.7,69.5 452.2,53.1 632.8,44.1 656.8,44 360.6,138.4 653.9,43.5 220.1,488 370.3,106.9 370,138.3 257,489.4 393.2,95 546.4,73.9 179,494.3 391.5,81.9 416.9,71.3 229.3,501.3 483.3,61.5 261.3,504.5 442.7,60.8 443.2,59.4 544.2,49.7 650.3,46.8 645.3,40.4 403.5,78.4 267.1,504.5 255.3,478.6 565.7,54.3 550.7,64.5 570,49.3 592.5,35.6 439.4,54.8 629,64.2 491.9,56.6 477.2,70.1 594.5,35.3 489,73.7 555.1,71.4 647.4,46.8 342.7,91.4 545.5,73.8 287.4,476.1 394.6,45.7 615.3,78.6 672.4,51.3 657.6,47.1 549.2,36.8 601,53.3 621.6,50 465,57.8 256.1,477.3 127.3,467 551.2,50.4 550.8,66.4 534.1,59.9 448,35.4 492.4,74 526.9,66.2 420.4,67.4 492.7,43.2 245.1,497.4 421.8,67.7 475.7,59.7 441.5,52.3 263.9,480 189.5,501.5 490.4,72.7 181.4,504.9 570.1,45.3 221,490.8 557.4,56.9 320,189.9 631.2,76.8 245.9,507.5 207.1,501.3 502.2,35.7 558.4,63.7 316.5,150.7 386.4,76.3 494.6,27.9 285.5,486 339,212.8 440,65 289.9,480.8 200.4,475.8 635.3,63.3 187.1,479.9 680,55.6 598.8,56.5 372.1,211.1 608,54.5 153.9,474.6 438,59.2 318.8,331.1 288.7,441.2 627.5,50.9 139,480 608.8,76.5 162.1,474.8 503.5,78.2 280.1,451.9 417.7,55.8 644.8,64.9 571.9,67.3 173.7,485.8 291.2,477.6 395.5,79.8 526,46.4 120.4,506.1 609.9,61.2 597.3,64.9 662.5,40.6 232.7,506.2 238.8,476 592.1,53.6 410.7,96.2 257,504.8 126.9,496.3 240.7,500.5 502.1,56.7 535.1,52.5 319.2,469.8 640.5,68 407.8,55.4 412.3,62 342.2,383.8 347.2,118.9 321.9,114.2 587.5,63.2 368.2,59.6 249.1,486.4 365.4,129.7 645,84.1 481.6,47.3 177.1,478.9 356.2,469.7 383.3,66 125.1,488.6 665.5,60.7 639.6,64.3 175.1,472.7 432.1,37.6 295.4,485.8 238,495.4 273.6,441.1 147.7,477.2 509.7,51.5 326.3,417.3 516.2,55.6 582.1,56.8 443.8,64 313.1,436.5 197,489.7 488.7,54.3 502,59.2 562.7,62.4 195.7,467.5 143.5,488.3 618.5,51.7 463,48 170.9,499 521.5,61.2 149.3,498.1 477.7,61 433.6,81.1 525.1,48.6 170.8,487.7 635.3,73.6 653.5,53.4 678.7,70.8 554,76 294.9,329.3 675.2,58.4 467.5,67.6 526.9,50.5 494.3,53.6 235,485.6 603.7,46.9 486.1,55.4 243.2,472.7 332.7,404.7 199.1,483.7 364,232.3 681.5,63 336,378.7 342.7,70.8 575.1,60.5 164.4,492.9 185.5,509 542.5,51.8 191.5,465.3 465.8,39.2 583,61.6 438.3,69.5 162.9,494.2 234.9,481.3 425.4,69.8 661.3,49.7 490.1,55.6 514.6,73.5 456.7,72.6 303.1,477.5 463.7,48.9 122.7,487.5 353.4,121.3 580.2,59.6 233.8,491 486.9,59.4 528,52.4 206.4,514.7 606.4,57.3 256.3,485.8 666.2,68.9 313.7,496.3 466,44.4 658.1,64.5 584.8,62.5 394.2,59.2 228.1,502.2 467.8,30 452.4,67.7 153.7,495.2 335.3,200.4 642.2,66.3 417,70.4 220.4,493.1 484.4,72.1 376,401.9 638.3,45.1 396.7,160.7 132.1,480 209.3,481.4 217.2,480.7 659.6,67.4 322.1,446.2 316.1,493 673.8,73.4 234.8,463.6 471.9,63.8 657.6,58.4 636.1,71 208.6,490.9 385.8,74.7 260.9,484 516.4,73.6 257.5,478.9 218.1,497 272.3,503 191.7,477.1 525.7,55.2 276.6,475.7 345.3,177.4 274.2,477.6 334,437.3 291.3,492.5 318.8,476.7 521.5,55.8 216.3,502.1 508.8,44.4 315.3,507.6 170.6,497.4 185.5,483.6 630.7,60.2 141.1,478.5 274.7,480.8 609.6,87.2 162.5,472.2 237.5,493.5 270.5,464.4 593.8,68.1 183.2,500.7 656.4,51.6 185.6,482.2 439.7,56.2 558.2,66.8 435.7,40.5 406.6,60.4 366.7,149.7 261.3,486.5 683.2,55.5 347.5,316 481.9,46.6 449.3,45.9 665.7,57.6 256.4,484.9 205.6,501.4 629.9,61.3 407.4,125 482.8,68.8 473.7,59 563.3,58.1 594.9,67.4 517.2,79 120,490.8 594.6,59 141.4,484.1 606.3,69.5 117.8,503.2 558.8,80.8 481.4,59.3 132,494.8 547,52.2 447.7,76.7 186.2,472.3 617.2,61.4 454.3,61.7 381,133.1 656.3,50.9 233,478.5 217.7,509.7 626.1,65.9 208.7,482.7 583.5,52.4 236.9,485.2 581.3,69.7 349.9,327.8 469.3,61.4 463.5,59.2 342.3,193.1 412.9,61.6 487.5,53.8 195,470.8 639.5,47.4 586.7,73.9 235.9,500.5 245.6,511.5 342.2,264.8 557.2,61.3 411.9,66.9 296.8,458.1 555.4,73 228.7,480.9 521.2,69.7 547,48.6 175.4,484.9 442.2,60 455.9,52.7 671,62.1 287.6,488 379.5,46.3 650.9,39.5 191.6,481.4 628.7,42.7 325.7,499.4 313.1,476.7 684.6,59.3 339.8,229 258.2,480.7 235.4,465.3 513.9,53 479.8,46.1 253.5,471.2 399.5,45.8 280.6,485.5 594.7,66 321.2,442.1 468.3,48.8 638.2,64.2 253.4,468.6 660.2,68.5 394,83.6 482.3,59.5 272.3,502.1 513.2,60.6 529.9,59.5 454.9,65.6 609.1,58 386.1,76.6 125.8,514 638.1,49.3 441.1,48.2 467.9,49.2 458.5,64 140.7,482.2 281.2,463.7 168.4,473.7 487.8,72.5 604.6,55.4 493.9,64.2 581.1,50.5 306.9,464.3 135.1,508.2 350.8,200.8 213.4,498.9 291.3,451.2 253.4,477.5 220.2,496.9 509.4,53.8 458,70.6 586.4,64.6 678.5,56.9 252.7,472.7 652.1,53.3 555,51.2 438.2,68.3 671.8,60.4 409.4,54 133.3,485.6 188.4,485.6 295.6,416.6 514.3,39.5 440.1,43 506.8,42.2 127.9,482.9 258.6,493.4 433.5,72.3 490.3,57 363.5,101 241.6,509.9 293.9,427.9 551.1,32.8 526.4,58.4 258.2,485.5 659.3,59.3 142.3,485.5 250.9,502.2 367.1,60.4 575.9,49.3 439.5,56.1 502.4,55.1 659.7,58.1 326.5,465.8 220.7,499.8 350.7,430 438.5,64.7 193.9,487.5 139.2,480.2 531.2,67.2 681,56.5 648.3,59 331.7,128.3 376.2,186.5 589.9,51.3 678.8,49.9 320.3,489.8 660,60.3 515.6,63.9 201.2,495.5 374,141.7 118.9,499.8 349.5,108.1 415.5,252.4 572.3,60.1 305.8,483.6 487.6,58.2 495.4,41.3 416,48.6 466.9,62.6 379.5,139.7 465.4,77.6 379.9,73.4 637.2,67.6 181.6,483.7 609.8,65 542.1,67.8 123.6,495.9 527.2,75.3 324.1,170.6 406.4,70.1 412.4,71.1 536.4,55.8 394.5,58 479.7,39.5 242.2,477.1 157.6,508.5 498.3,66 680.9,41.4 161.4,485.8 636.5,54.5 336.4,474.3 489.7,74.8 268.9,480.2 511.4,60.6 365.8,83.1 570.5,54.6 275.1,467.8 307,489.8 473.8,73.7 177.3,489.1 673.3,69.3 463.5,86.8 671.7,64.6 218.8,483.4 521.5,70 232.1,488.2 164.6,489.4 369.8,445.4 386,64.2 435.5,63.1 383.2,70.4 228.8,489.5 506.2,53.3 268.9,492.3 282.7,469.6 562.7,53.5 506,66.9 531.8,34.7 642.9,62.1 603.4,36.4 242.4,485 673.8,55.7 413.7,55.5 435.7,54.5 276,486.1 338.2,486.2 435,72.2 136.4,498.9 527.9,49.5 316.1,501.5 511.8,39.6 534.6,48.5 469.9,62.8 159.8,468.1 438.3,37.7 319.3,416.3 524.7,87 522.7,82.3 403.8,79.5 534.3,73.1 199,483.5 582.6,64.2 669.9,55 630.8,63.2 580.2,59.5 348.2,391 649,60.1 437.8,69.8 239.9,473.4 426.5,67.7 602.4,54.5 503.9,53 592.2,61.5 137.2,498.1 670.3,58.2 643.3,61.4 403.9,51.1 643.7,70.6 220.9,502.1 325.4,437.3 213.6,485.9 499.2,46.3 640.4,44.4 648.4,81.3 162.8,485.8 555.4,58.3 435.9,59.2 243.2,478 627.5,37.7 418.7,62.8 141.2,490.3 331.5,379.9 506.3,51.4 602.4,61.5 230.7,478.8 454.7,44.5 166.6,495 637.1,45.6 122.7,497.9 670.9,45.4 439.6,70.9 546,70 498.8,76 405.6,106.6 367.1,62.7 235.8,490.6 280.6,479.9 170.9,492 270.1,493.2 490.2,64.9 431.8,59 440.8,67 418.8,58.8 656.5,73 602,75.9 267.7,463.4 434.7,69.8 669.7,59.5 269.8,499.8 517.1,77.9 486.6,76.4 499,71 434.5,45.8 539.6,68.9 331.3,69.7 651.5,65.2 440.6,59.7 310,439.1 481.5,48.3 508,58.4 641.4,66.1 479.9,51.5 415.2,86 318.5,365.9 359.9,67.8 280.6,455.2 470.9,66.6 608.3,39.8 455.2,47.1 233,499.2 138,483.5 617.9,47.6 285.6,450.2 510,43.5 656.3,78.5 653.2,44.7 433.6,47.3 637.9,41.3 346.8,57.3 653.6,57.3 504.3,78.8 163,468.8 580.3,52.9 208.8,479.3 685.8,67 145.4,514.9 548.9,54.8 204.2,499.4 425.2,62.8 329.4,437.7 616.3,75.4 273.4,482.5 527.8,69.2 653.4,67 153.8,480.4 524.4,77.4 165,495.8 561.3,63.2 605.9,48.7 196.6,490.2 621.4,52.7 367.1,142.9 293.1,501.1 667.8,62.3 336.3,176.2 236.8,483.2 305.2,422.2 633.2,67.8 678.4,44.9 376.7,89.2 398.8,125.3 458.3,83.4 596,38.1 122.4,487.4 570.9,60.3 671.8,56.3 348.4,326.5 366.9,426.4 663.4,61.2 349.2,349.8 332,416.6 607.2,65.9 387,88 486.1,49.1 280.5,493.6 505,62 327,157.7 564,37.7 398.1,92.3 641.5,68.3 429.4,44.5 606.2,71.3 368.4,50.3 498.9,59.3 269.5,500.7 451.5,65.7 495.3,62.7 226.1,476.8 427.3,47.3 642.8,80.8 232.3,494.9 395.6,57 594.7,54.6 360.2,250 134.3,481.6 416.8,54.8 380.8,369.3 646.2,65 495.8,86.4 560,54.8 327.1,106.3 628.3,79.7 589.6,59.9 169.1,497.9 494,61.3 633,84.3 488,54.4 671,61.2 266,487.1 452.4,79.5 421.4,70.8 285.6,477.9 562.7,53.2 363.1,348.9 487.6,74.6 563.2,54.7 531.9,66.4 174.4,479.6 148.7,497.5 585,58.6 488,56.5 201.7,495.7 191.3,483.2 400.9,80.5 218.7,474.3 647.9,65.5 244.9,494.3 655.4,62.7 525.4,64.8 434.2,69.5 499.9,58.5 511.8,67.8 279.9,492.7 395.5,243 155,491.8 144.5,498.6 655.3,51.5 602.2,38.2 547,67.6 176.5,479.4 472.9,68.8 525,63.8 362.7,94.8 332.7,405.8 531.4,69.4 123.1,490.6 385.5,65.7 263.5,464.4 370.3,117.5 432.3,53.6 357,453.5 617.2,80.8 620.1,80.2 550.3,50.6 570.3,74 402.7,81.2 271.8,518.1 582.3,72.9 183.7,492.1 456,47.7 478.4,37.1 179.4,496.3 233.7,472.4 500.5,60.4 606.3,63 340,97.4 420.1,64.9 521.1,77.7 449,61.6 381.1,74.9 481.1,56.3 522.1,29.1 574,75.2 437.2,41.2 494.1,73.1 228.6,492.7 209.3,477.1 579,54.3 244.7,475.2 366.4,94.1 621.8,63.4 200.9,495 504.2,52.9 258.9,483 474.1,40.6 582.8,84.7 585.1,48.3 560.6,54.4 412.5,68.5 427.2,69.4 215.2,497.9 183.7,497.8 543.7,41.5 147,488.5 649.1,63.1 223.1,488.1 527.8,53.6 372.5,114 466.6,60.2 548.7,62.3 286.1,496.6 587.8,60.5 547.9,61.6 448.1,67.1 444.6,63.7 336.2,82 669.9,50.9 338.2,97 254.6,474.7 435.6,58.6 642.4,46.6 645.2,60.1 446.9,43.3 340.8,108.3 543.3,63.5 436,73.7 586.4,58.4 592.4,58.3 517.7,72.4 672,62.4 487.1,66.8 673.1,56.8 489,74.7 241.7,488.9 475.1,37.9 555,48.7 358.5,138.8 212.9,471 317.8,480.3 562.9,50.3 235.6,484.8 123.7,493.6 618.5,54.2 671.3,32.6 612.7,69.7 574.1,70 533.3,40.3 431.7,67.3 488.9,61.2 542.8,65.1 304.6,482.7 234.2,483 512.9,71.4 461.3,72.8 682,62.7 353.6,372 353.3,143.7 186.8,488.9 125.7,478 196.6,472.8 454.8,54.5 666.8,50.1 181.8,490.9 208.5,507.1 506,50.8 289.5,500.9 143.2,482.1 623.4,69.3 202.2,502.2 366,392 547.5,74.5 562,58.9 662.2,62.1 455.1,62.4 201.6,471 163.1,479.2 483.9,62.6 422.5,77.1 259.3,484 211.3,492.4 316.9,208.3 281.4,496.3 319.4,457.2 317.6,470.7 546.3,53.3 380.4,114.1 600.7,68.2 403.5,65.3 282.8,503.1 644.3,71.7 488.7,85 597.9,60 250,488.4 672.2,68.4 479.3,67.4 330.9,57.3 260.4,483.8 173.6,482.5 135.9,498.9 229,497.7 293.9,350.7 419.8,211.3 344.1,242.7 143.1,492 199.5,508.7 127.7,484.3 140.3,486.1 286.8,480.6 481.3,51.7 204.6,467.5 621.1,64.4 680.2,57.5 467.9,44.1 144.8,492.9 220.7,475.2 408.6,78.7 650.3,65 677.1,72.3 537.4,61.4 624.9,35.7 172.6,467.3 406.4,58.8 389.9,56 240.7,475.1 438.9,72.2 438.2,119 671.2,61.9 155.4,510.3 287.8,489.2 214.8,495.8 244.4,491.7 298.7,489.2 327.6,471.4 663.2,54.8 304.5,405.3 393.1,196 211.8,481.8 243,490.7 240.8,468 441.6,79.9 288.7,488.8 275.6,487.9 415.8,53.5 126.6,490 609.6,53.8 146.5,486.7 351.8,51.4 680.9,64 213,499.3 142.9,494.6 394.3,64.7 476.8,43.5 335.2,470.4 242.7,503.4 511.2,43.6 453.5,65.1 315.1,496.8 468.3,65.5 596.2,70.5 410.7,76.7 338.3,209.5 468.3,69.4 405.2,87.5 173.5,518 632.2,53.9 188.1,497.1 540.7,40.5 364.3,133.3 564,54.3 415.4,41.7 585.2,53.6 385.2,68.1 258.1,490.9 556.5,57.8 589.1,43 403.8,59.8 647,52.9 520.7,73.1 649,59.4 228.7,474.2 655.2,63.4 555,65.8 654.8,64.6 316.8,84.8 434.3,54.2 627.2,55.4 500.7,68.6 282,505 282.1,449.3 656.8,65.2 500,50.2 147.4,482.8 264.7,490 434.8,73.1 225.3,478.1 382.8,103.2 497.9,87.5 165.2,470.6 261.9,498.6 619.4,58.1 140.5,476.5 180.8,464.5 584.8,72.1 502.9,62.3 386,50.2 607.1,60.4 236.1,498.3 120.4,477.9 580.4,80.2 480.8,48.8 309.3,488.5 447.6,60.3 163.6,497.2 295.6,478.9 441.4,48.1 598.8,57.4 297.7,435.5 151.9,482.3 167.5,493.6 291.9,489.1 474.3,59.8 519.4,65.6 513.4,44 616.1,73.9 506,40.3 499.6,68.5 456,71 497.3,60.7 533.7,75.5 673.8,40.9 219.6,469.2 483.9,43.6 188.1,468.5 234.7,474.3 645.6,81.8 348,473.7 440.6,69.1 237.9,478.9 408,79.9 131.1,494.3 448.4,72.5 661.3,53.6 509.1,47.5 496.7,73.1 433.6,56.2 299.9,482.3 558.5,61.6 338.8,490 309.1,109.9 429.4,45.9 673.1,51.7 535.8,52.1 501.9,51.4 190.2,495.9 578.1,61.1 358.3,467 475.6,71.1 437,52.3 565.1,38.2 135.5,465.2 172.9,491.7 277.6,472.8 232.7,498.4 505.8,52.3 183.8,489.9 169.9,475.5 419.3,111.8 155,487.2 570.1,67.3 305.2,482.7 289.6,487 457.8,81.9 673.9,50.7 278.6,471.3 246,487 327.2,425.3 561.5,71.3 649.5,59.9 205.1,479.9 134.2,469.5 291.6,465.4 300.1,412.9 543.4,46.5 505.3,62.7 543.3,63 341.2,61.9 361.6,304.3 654.3,74.4 144.8,487.7 129.4,489.6 126.8,494 583.1,40.7 412.5,80.1 513.5,60.6 489.9,57.9 580.8,57.8 419.4,44.9 304.6,512.8 181.1,492.9 351.6,364 228.5,505.3 645.4,67.2 552.4,55.5 279.5,488.6 408.8,37.8 384.9,104.1 461.9,56.7 657.2,56.7 274.4,484.4 467.5,52.7 404.8,63 661.5,54.2 241.6,491.5 486.6,65.8 169,499.4 427.2,65 664.5,51.6 527.4,65.5 135.1,480.2 678.3,62 425,59.8 447.8,44.9 656.3,73.2 450.7,60.8 243.1,478 362,254.1 544.4,55.2 343.3,261.9 213.3,493.4 339.1,472 176,467.8 174.2,501.6 186.5,481.8 407.7,52.7 300.5,484 219.7,483.1 538.5,68.9 466,57.7 584.7,60.5 208.9,483.5 470.9,57.3 267.3,465.1 399.6,74.7 371.6,56.1 449.8,48.8 442.5,57.1 640.9,50.4 473.3,43.7 317.7,489.2 570.2,76 209.2,504.1 559.3,50.2 446.2,62.8 265.5,490.9 546.3,57.6 182.3,478.5 137.5,492.1 272.2,496.9 405,64.6 476.9,50.6 296.4,376.3 447.3,52.1 676.4,47.3 686.6,62 528.3,68.4 289.5,487 389.1,104.9 577.9,70.9 623.1,56.8 659.7,74.1 338.3,169.5 310,485.6 308.8,463.4 564.9,71.8 663.1,58.2 438.4,51.2 369.9,117.5 497.1,55.4 357.6,139.5 442.3,70 224.4,505.5 173.8,487.5 348.5,437.1 270.2,491.5 203.9,479.9 667.4,94.3 514.3,49.4 338.6,260.8 682.7,60.5 178.2,493 316,376.7 621.3,49.4 669.3,31.6 569.3,69.1 223.4,523.4 440.2,56.4 157.8,489.4 153.4,490.4 609.4,62.3 118.6,513.6 172.5,485 177.5,496.8 523,56.5 475.6,65.4 240.3,498.9 351.1,399.1 659.8,43.9 237.3,489.5 155.9,484.5 486,42.1 178.8,482.8 434.5,57 262.6,515 135.8,475.4 492.7,49.7 545.9,72.7 296.4,500.5 207.5,484.2 674.1,61.8 256.8,471.9 257.7,470 325.8,266.6 254,480.4 257.4,483.4 644.4,74.1 164,505.1 593.1,65.2 422.1,35.3 137.3,497.9 203.3,493.9 491.2,49.9 436.6,56.7 255.2,472.7 283.3,490.5 646,67.6 537.6,50.4 494.7,62.5 644.2,60.1 249.3,500.4 305.2,495.1 595.2,68.9 368.3,182 371.9,265.5 578.6,63.6 687.1,63.9 623.3,47.6 556.9,39.6 371.8,75.4 519.9,42 245.8,483 261.9,514.4 233.7,484.5 506,76.4 657.8,47.3 548.1,65.9 269.3,470.1 493.8,43.6 317.1,493.8 587.1,71.1 394,125.2 259.6,496.3 282.9,486.6 165.9,477.3 323.2,487.3 310.7,468.5 378.4,43.9 492.2,55.8 646.7,51.7 583.4,66.4 444.3,90.6 323.3,370.6 214.5,488.3 454.3,53.5 153.6,488 147.7,495.5 483.4,66.6 210.9,487.6 601.1,70 499.1,75.5 416.3,57.1 651.1,60.1 192.4,482 294,477.8 406.8,96 667.7,70.3 162.1,493 460.5,50.3 641.6,40.1 199.8,491.7 518.7,54.6 511.1,68.1 322.7,400.3 422.6,66.2 650.6,62.4 384.1,71.6 377.4,156.8 439,58.1 135.4,475.5 578.8,65.9 146.4,483.8 675.3,53.1 670.7,48.3 584,52.2 627.8,48.3 468.2,58.8 291.5,486.3 461.5,72 504.3,64.7 198,499.5 559,68.3 290.4,393.4 409.5,60 269.2,493 278.1,483.5 617,37.6 556.4,70.8 152.9,494.6 556.9,72.8 644.7,46.8 518.6,49.6 512,74.7 267.8,482.6 515.8,75.4 333.4,424.3 643.5,59.3 518.9,58.8 301.2,184.7 621.1,57.3 558.6,57.4 231.9,473.2 239.7,486.7 124.6,488.7 556.3,67.4 166.2,482.1 274.2,478.7 537.1,50.9 291.5,391.7 280.2,277 155,504.1 145.9,487.2 443.3,42.8 196.2,473.9 666.8,67.1 132,464.6 297.3,464 222.1,478.4 629.9,70.5 545.3,51.5 180.7,477.2 148.9,462.8 164.6,492.9 538.9,62.3 543.3,45.5 478,46 396.1,75.3 381.2,67.4 456.8,66.4 179.1,484.9 570.3,53.7 560.6,48.7 505.4,67.3 251.5,505.8 239.6,474.7 676.2,60.1 658.1,60.7 543.8,48.1 565,75.4 378.4,85.4 617.3,63.1 510.9,53.8 366.8,124 505.8,51.4 162.6,502.5 342.2,295.2 598.4,69 390.8,47.9 434.4,47.5 436.9,58.1 655,51 231.7,488.5 505.8,66.3 373.3,136 251.5,488.8 144.8,472.2 465.3,31.6 221.9,501 449.4,52.3 362.4,300.1 348.5,85.5 623.6,85.3 168.5,480.7 437.2,68.9 353.6,215.1 203.5,482.6 342.6,60.1 611.5,58.7 230.1,484 504.8,62.2 270.3,504.6 413.3,67.1 431.4,64.6 158,491.4 578,57.1 333.1,480.4 236.8,475.4 235.7,465 679,70.7 655,57.1 384.8,71.4 271.6,488.7 521,51.1 147.3,513.3 607,51.2 120.4,490 145.4,509.1 307.8,484.3 377.3,88.6 120.2,488.8 280.1,463.7 678.2,33.5 558.5,55.4 150.6,491 617.2,50.8 382.8,43.5 681.4,38.1 300.3,481.8 293.7,496.7 504.5,41.1 395.5,98 274.8,489.5 416.4,59.4 480.5,52.9 295.4,460 587.2,56.8 544.2,48.1 546.7,58.1 493.7,68.2 248.4,475.6 519.8,56.6 216.8,498.5 198.1,495.5 404.5,41.1 215.5,489.3 189.9,481.1 454.9,64.1 673.5,60.3 148.9,487.8 370.5,466.3 168.7,478.5 424.4,67.9 444.9,49.1 396.9,63.1 139.5,494.6 516.8,81.6 406.8,46.1 444.1,62.4 498.2,72.5 633.9,71.8 365,475.6 637.8,61.8 217.4,478.6 376,189 218.1,476.5 329.5,229.5 632.4,91.5 673.3,42.9 386.6,110 274.9,469.9 301.2,462.6 631.4,67.5 367.3,82.6 230.4,496.6 593.4,54.3 408,243 360.8,392.3 632.3,79.8 542.7,43.8 125.3,482.9 668.4,73.9 376.4,89.3 219.8,473.6 636.2,53 356.5,343.5 507.6,64.8 545.3,92.5 228.2,479 678.1,67.8 438.2,35.5 149.7,492.1 423.3,52.3 127.7,496.2 675.6,75.5 497,64.7 333.5,378.4 572.9,58.4 570,81.6 516.6,46.6 251.3,473.5 170.3,496.9 605.4,57.4 623.8,58.7 314.2,235.1 337.6,374.6 347.1,210.3 275,442.4 652.3,47 420.3,69 521.7,50.9 462.3,49.8 168.3,480.9 158.4,470.6 201.4,487.5 400.6,121.6 475.2,49.8 685,52.7 630.8,84 538.6,58 335.9,91.7 313.7,355.4 514.8,57.7 314.3,468.8 553.8,54 532.6,66.8 185.6,494.3 575.6,56.4 170.5,482.9 298.4,432 673.2,70 488.6,65.6 605.6,47.5 645.7,63 268.1,482 570.9,77.9 329.5,500 154.2,479.6 178.1,499.5 189.2,478.7 477.3,64.5 483.1,55.2 600.5,44.9 285.5,484.2 552.1,68.1 269.3,474.2 296.1,481.9 491.2,60.6 341,100.6 686.3,70.4 297.7,481.7 252.6,502.4 618.6,74.5 615.1,51.2 210.1,473.5 309.7,481 408.1,109.9 155,489.2 328.7,435.6 556.4,59.3 555.4,45.4 202,497.4 290.3,483.5 270.3,481.1 507.6,60 192.4,491.8 679.4,53.3 183.4,502 418.7,76.5 518.3,55 657.9,48.9 467.4,47.3 605,56.9 420,45.7 243.2,472.8 357.3,146.8 463.3,36 420,42.1 563.5,62.4 424.9,75.2 335.8,87.2 411,63.1 413.5,55 122.9,484.6 304.4,457.7 443.9,55.1 523.5,44.9 361,110.8 542.7,51.3 404.2,63 327.9,145.4 255.4,468.3 572,58.5 643,67.8 533.1,48.5 242.9,468.4 519.8,76.5 405.2,40.2 644.5,70.4 120.6,477.7 558,58.1 383.1,66.8 605.2,70.1 462.7,71.2 121.5,502.3 511.7,63.4 421.3,52.2 253.6,490.7 186.7,465.3 344.3,142.3 437.1,67.2 390,87.5 126.9,468.6 201.5,496.3 505.4,59.2 428.4,49.6 540.8,64.9 353.6,153.1 263.7,487.6 572.4,61.4 241.6,489.4 151.7,490.8 327.4,146.1 374.5,129.7 236.4,500.3 662.1,64.7 249.2,505.7 186.8,499 494.4,73.4 198.8,489.5 276.8,507.5 353.1,483.8 273.4,484.8 490,47.5 197.1,506.8 484.5,78.8 183.3,506.6 448,72.8 675.3,70.3 565.9,52.9 656.8,69.3 428.6,63.1 207.6,490.2 328.3,425.3 559.9,76.3 192.4,498.3 495.9,60.5 301.1,362.4 640.4,67.9 317.1,492 301.1,475 272.4,475.7 425.1,60.3 660.4,39.1 425.4,74.2 540,51.3 414,38.1 164.4,493.9 451.7,33.7 456.1,51.5 457.2,56 287.4,470.4 269.4,484.6 304.9,517.3 134.8,485.4 209.1,490.3 280.9,504.7 409.3,66.1 637,65.9 516.9,69.8 411.5,35.4 525.9,46.2 370.6,42.8 144.2,467.6 508.7,74.4 519.4,37.9 490.9,71.4 603.3,71.4 563,55.4 589.9,63.4 143.4,468.3 687.4,63.5 452.7,51.9 455.3,59.6 466.9,68.1 271.2,491.1 290,483.1 617.2,57.4 459.5,61 664.9,49.5 236,490.5 451.1,56 459.4,40.4 138.3,482.4 474.2,27.1 336.4,485.4 362.4,426.4 223,480.9 456.2,45.7 501.2,50.2 625.9,59.5 597.2,61.4 676.2,63.7 673.7,59.1 516.7,76.7 277.3,501.1 425.2,81.6 164.8,471.5 440.1,56.4 291.5,204.2 423.1,62 544.9,55.4 151.8,497.5 616.8,81.7 138.8,490.9 396.6,72.8 241.8,495.1 139.5,504.1 390.8,52.8 266.6,469.6 162.8,481.8 587.3,46.8 257.2,497.5 652.2,52.4 464.3,60 319.7,370.9 151.7,487.8 605,70.3 179.2,491.9 559.9,59.5 418.6,81.1 377,317.8 163.2,476.8 356.9,292 126.6,468.2 552.4,51.6 520.5,52.4 194.7,469 407.8,65.3 218.7,503.4 523.2,48.4 225,490.8 215.7,476.1 279.4,475.5 671.2,67.3 583.9,60 347.1,171.9 570.2,58.7 323.3,329 224.2,478.7 628.8,37.5 138.1,484.8 569.5,62.4 664.5,57.8 165.2,488.9 607.2,64.4 562,56.4 141.4,500.9 370.5,338 265.5,485.1 336.3,156.4 334.9,462.5 342.2,475.6 122.8,475 271.9,483.7 282.6,468 487.5,53.3 514.1,59.3 545.1,73 480.4,44.5 627.1,47.8 434.4,44.2 295.9,490.5 140.1,500.3 531.7,43.4 437.9,59.6 210.4,516 408.9,53 655.7,73.8 462.5,43 293.5,473.3 577.2,81.9 342.3,419 125.7,488.1 162.7,480.9 665.5,73.2 170.6,504.4 563.9,48.8 134.7,510.7 358.9,98.7 278,482.4 313.4,345.8 169,484 346.4,71.7 550.2,45.3 416.5,85.2 192.6,489.6 576.5,67.7 614.1,56.9 377.4,185.6 322,437.4 127.3,489 157.4,501.7 331.2,269 181.8,488.9 670,68.1 484.5,54.9 295.6,499.4 450.8,50.9 213.1,490.6 640.3,66.4 402.8,66.7 516.2,64.7 221,488.5 387.4,198.1 524.3,53.9 338.1,135.9 154.3,489.2 384.7,86.5 587.1,49.2 380.7,163.4 675.9,44.2 436.3,57.1 620.6,29.4 135.8,494 477.2,82.7 408.2,85.6 321.3,493.7 631.6,59.7 169.7,508 394.4,277.8 292,473.6 664.7,80.2 562.9,58.7 231.7,478.1 190,474.6 130.8,485.5 219.6,499.7 647,71 614.9,42.8 573.4,41 345.5,479.6 392,468.3 445.2,50.9 579.2,63.5 119.6,476.1 220.6,498.6 448.7,52.6 197.8,481.2 652.2,61.2 142.6,494.8 672.4,41.4 239.5,497.2 227.7,498.5 359.2,188.2 480.9,62.1 675.8,61.6 388.8,70.3 629.3,46.4 625,57.9 678.6,52.6 322.4,365.8 387.8,80.7 129.5,469.8 336.1,59.5 318.9,426.3 188.1,474.6 591.9,50.6 276.4,480 191.8,483.1 183,482.2 131.1,492.4 547.9,38.5 420.6,33.5 415.8,67.5 353.1,388.2 666.8,31.3 332.8,462.4 388,54.4 510.7,53.2 647,57.5 606.8,62.5 619.9,49.3 221.7,504.4 655.8,46.1 587,40.9 305.3,483 576.5,62.9 660.6,35.4 541.1,60.4 538.4,64.9 595.4,47.4 618.3,71.2 562.7,82.7 161.5,487.1 236.2,493.2 186.1,496.3 382.9,171.8 154.6,494.4 431.2,62 644.3,85.1 676.9,49.3 138.6,491.1 506.4,62.9 198.8,490.9 608.8,48.9 135,483.7 176.1,461.3 301.7,454.7 120.2,477.6 494.8,47.2 234.5,521.2 527.7,52 658.7,60 385.4,89.1 385.3,63.3 685.4,54 296.1,486.3 622.4,67.2 523.9,47.4 122.4,487.5 286.9,472.2 528.3,27.4 142.9,503.4 606.2,69.3 637.4,67.1 550.3,60 579.7,39.1 457.9,54.3 578.2,45.9 383.8,39.8 350.1,440.8 518.1,63 382.5,84 294.3,480.4 268.2,498.9 366.5,76.2 335,185.9 547.2,67.9 564.3,71.2 572.4,74.4 599,59.5 323.8,383.4 327.9,389.2 595.1,64.6 219.9,482.3 517.5,56.5 416.4,46.5 497.3,50.4 514.6,65.3 498.6,44.4 251.2,488.4 130.6,498.4 660.4,48.7 629,73.8 405,106.3 494.3,77 169.1,505.4 378.6,58.4 452.5,70 516.3,39.5 242.1,470.6 170,483.8 665.3,67 601.1,59.5 219,491 586.3,46 580.4,81.6 220.7,489.7 576,58.3 335.1,460.8 307.8,245.8 208.7,492.5 454.5,52.3 466.8,73.2 408.8,46.1 174.1,483.6 571,60.7 297.8,473.2 268,496.2 482.8,79.2 222.6,482.2 636.3,58.3 486.8,63.3 567.3,67.3 311.5,216.8 361.5,162.9 260.6,498.7 260.4,504.4 353.9,181.9 566.1,72 404.1,44.8 592.4,42.7 180.9,494.8 282.1,460.6 138.1,491.1 638,60.3 153.1,489.3 426.3,63.2 501.2,49.5 233.6,483.9 676,67.4 676.4,63 253.1,505.2 196.8,500 487.7,57.3 410.7,59.7 461.8,66 469.7,56.6 662.4,68 555.4,59.7 295.5,486.5 543.4,47.7 373.4,48.9 673.5,71.1 389.4,65 123.4,508.7 640.1,35.9 275,510.6 585.7,60.2 465.9,77.6 541.6,58.8 538.5,56.9 633.6,52.3 592.4,66.7 485.2,51.2 303.5,443.5 398.8,71.4 276.2,495.2 309.2,494.3 379.8,45.2 358.5,287.7 282.3,451.1 290.9,510.9 294.8,487.7 226.4,480.7 449.6,80.8 170,476.8 258.8,500.8 214.5,488.4 520.2,56.6 276.9,486.9 174,488.5 585.5,54 366.8,89 575.9,41.5 300.1,462.2 314.8,485.6 436,83.2 156.9,501.2 674.3,65.1 193.3,480.7 637.9,45.5 493.2,63.9 553,67.3 236.9,486.4 625.9,57 422.8,58.8 352.9,58.3 227.1,490.6 214.9,517.2 609.2,64.3 670.1,94.3 355.7,70.2 529.8,27.8 515.6,44.9 398.8,64.8 391.1,34.5 432.6,72.1 314.9,464.2 542.4,53 355.5,136 404.9,66.9 220.9,479.9 673.6,56.3 161.5,494.8 526,60.8 494,51.5 313.7,486.7 674.1,67.9 138,483.5 272.8,423.1 309.8,478.6 483.3,73.3 453.7,59.9 523,63.6 607.9,76.3 128.2,469.9 436.9,58.9 345.9,209 510.3,49.1 417.7,47.7 315.8,424.6 121.1,496 294.4,484.7 371.5,83.9 309.4,364.8 333.5,231 488.5,45.3 308.5,471.8 602.4,50.1 323.3,186.2 365,167 364.3,26 632.3,60.5 462.1,45 667.3,59.8 119.7,483.5 662.1,48.7 228.4,487.2 628.9,59 142.3,473.1 605.5,46 477.9,30.1 508,55.5 340.3,229.6 338.5,432.3 206.5,481.6 197.3,499.6 473.2,76 312.2,472.8 133.6,507 213.8,507.1 214.1,485.8 227.4,473.1 376.2,50.7 636.4,72.6 449,50.1 539.4,71.1 177.4,484.3 512.1,95.4 610.5,74.2 684.4,54.9 523.4,61 463.4,54.5 665.8,105.1 190.8,471.5 569.4,48.9 527.4,34.4 531.3,65.7 319.5,202.6 162.6,480.7 197.9,490.2 503.2,53 295.2,483.4 658.4,51 186.7,489.9 581.6,58.1 389.4,68.5 285,484.9 262.5,484.9 318.7,444.6 327,247.2 246.1,476.9 242.1,496.4 671,68.1 357.5,399.6 472.5,43.7 517.9,36 306.5,477.3 650.4,51.4 284.8,496 226.7,486.1 142.6,470.9 267.2,483.7 152.2,504.5 475.1,55.4 445.3,59 130.1,477.3 658.9,39.3 532.7,58.3 431,53.1 656,47.1 419.3,71.2 217.7,490.1 561.8,78.5 661.9,55.8 151.4,479 404.5,59.9 246.3,481.9 632.7,67.7 171.8,497.4 577.2,43.5 234.8,479.6 482.9,63 511.8,51.6 550.9,67.7 147.4,499.2 392.7,173.2 188.8,488.5 189.4,483.9 209.5,459.3 201.6,480 650.4,56.6 436.8,41.9 261.9,495.7 394.1,161.5 148.5,493.1 240.4,488.4 474.8,31.6 513.3,81.7 468.3,43.6 678.7,74.4 675.8,77.6 592.8,60.5 382.8,121.2 549,62.3 259.3,500.7 610.4,50.8 256.2,502.7 682.2,51.3 125,453.8 571.2,74.2 402.7,84.4 582.7,57.2 414.4,86.6 592.5,58.4 521.2,46.9 481.7,47.4 659.7,50.4 184.4,494.2 645.4,59.9 414.7,71.7 520.6,44.5 498.3,67.3 340.6,273 417.6,96.9 671.9,38.2 395.6,81.2 639.9,47.9 122,478.1 444.7,65.5 510.1,55.9 342.6,449.6 163.5,482.6 568.9,52.8 546.6,67.5 334.6,372 172.8,486.8 595.9,51.5 559.7,50 592.9,45.5 584.1,59.6 267.2,476.7 473.4,47.7 382.8,90.6 339.8,77.2 351.2,404.8 501.1,66.1 686.4,59.4 386.7,101.6 326.2,459.6 475.3,50.2 476,34.1 349.4,457.2 485.6,65.5 491.7,43.6 543,54 212.4,493.1 489.3,42.3 355.5,473.9 618.7,47.4 469.8,51.2 579.7,46.3 579.3,61.6 238.6,490.4 161.4,493.8 550.3,47.3 148.8,481 657.9,46.3 510.8,61.9 358.6,228.6 499.4,58.1 192.5,486.5 481.1,60.7 641.9,40.9 117.3,484.4 652.2,89.1 294.4,488.2 343.5,93.4 653,56.1 571.5,57.2 336.7,468.6 675.8,39.8 135.8,496.2 493.8,50.7 407.7,47 623.3,46.2 127.9,460.4 300.6,496.8 390,170.3 159,481.9 485.3,51.4 600.6,50.9 634,65.7 199.4,490.9 406,58.6 678.9,49.6 158,478.4 519.2,47.5 280.3,459.7 635.3,59.3 464,53.8 628.3,76.4 146,490.4 462.5,53.8 356.8,54.5 178.7,494.9 350.5,499.5 540.1,67.6 449.1,82.6 455.9,70.4 276.6,483.9 407.4,54.9 371.7,46.4 636.1,55.8 617.8,66.9 366.6,105.8 404.2,62.6 284.1,473.7 440.5,45.9 191.5,506.4 667.9,61.2 353.5,83.6 122.4,472.3 286.5,488.1 658.3,94.6 294.1,418.6 337.6,404.6 673.1,59.8 564.8,48.4 322.8,440.3 211.3,479.9 340,153.2 330,93 627.4,53.5 424.8,62 644.6,72.3 679.5,73.1 613.1,55 349,117.8 339.9,95.3 429.4,72.5 504.6,50.3 601.2,83.6 583.4,88 295.7,479.2 536.9,61.1 331.7,437.4 560,62.3 124.8,504.9 601.2,55.5 515.3,55.1 200.8,483.4 260,482.5 294.7,461.8 410,64 633.7,54.2 670.7,59.4 461,79.4 179.5,502 675.1,69.8 664.9,62.8 167.4,502.2 496.9,42.4 497.3,60.3 494,70.8 530.7,67.9 120.1,487.4 293.3,487.3 309.7,476.9 487.5,74.2 171.4,488.4 274.8,467.4 217.2,520.9 144.2,492.8 387.1,61.2 233.6,498 392.2,71 234.8,486.2 568.8,79.8 180.9,485.3 557,73.7 492.1,50.2 207.5,488.3 333,464.7 335.2,258.8 376.5,62.3 502,40.4 125.7,491.4 211.6,500.4 515.5,63.9 170.2,485.8 598.6,64.1 328.5,400.2 137.9,475 555.3,69.6 257,505.6 686.6,70.4 643.3,78.8 622.1,69 621.2,63 159.2,508.9 132.4,488.3 345.9,103.9 357,104.8 350.3,481.3 457.5,80.3 564.2,53.6 566.7,64.1 647.6,55.3 503,44.4 617.5,53.1 169.2,489.8 132,486.2 374.7,88.2 620.6,61.5 337,117.6 180.4,496.7 189.2,491.2 247.7,480.2 609.7,57 308.9,415.2 607.2,74.8 654.5,67.2 558.9,62.3 643.8,57.9 262.7,481.7 228.2,485.1 255.1,370.3 127.4,500.7 648,74.7 234.7,503.5 476.5,51.7 279.4,471.8 425.1,71.5 365.7,113.6 528.3,65.7 231.8,487.6 281.8,493.7 196.2,492.9 302.4,453.7 592.6,57.3 666.7,66.8 125.8,505.3 599.2,63.2 535.8,49 162.4,509.9 208.7,472.5 610.7,59.5 227.9,472.3 635,69.1 425.1,70.8 678.6,77.1 405,59.1 192,488.7 462.8,64 371.2,290.9 157.6,485 584,70.7 629.9,50.7 666.9,79.8 484.6,66.9 449.8,57.5 228.4,493.2 667,59.6 536.2,79.7 498.4,65.1 513.2,62.1 597.1,78 312.9,483.6 180.9,504.7 682.5,71.3 135.2,505.5 272.1,488.1 397.7,71.3 140.1,483.5 294.1,439.9 613.5,65.8 473.8,55.4 450.1,48.9 127.6,509.7 360.8,491.7 186.7,469.9 338,185.4 338.8,446 359.3,94.5 297.4,511.7 562.7,51.4 381.4,232.1 635,60.3 313.4,440.6 199.1,497.2 319.7,370.9 614.2,59.7 321.9,389.2 585.1,64.7 512.4,58.3 264.6,488.9 226.3,488.3 181.5,490 373.4,105.1 513.3,71.5 284.9,512.6 661.5,57.5 125.3,478.7 565.1,59.4 214.2,513.5 686.3,65.5 173.3,480.6 642.4,55.5 346.2,354.7 280.6,480.1 140.5,502.2 242.3,486.6 335.8,382.1 650.8,72.7 669,67.7 162.6,491 437.7,38.2 135.8,477.4 176.4,489.3 468.4,60.1 417.6,79.3 630.6,60.3 632.5,49 208.2,494.1 478.7,54.4 577,44.6 557.7,64.2 440.7,78.5 409.3,149.3 442.9,65.7 352.8,66.3 439.5,61.8 625.7,61.9 315.6,475.2 368.5,275.4 367,192.9 611.3,62.4 256.8,491.4 367.8,146.1 545.6,58.7 340.9,381.5 605.1,47.6 423.9,66.1 173.6,481.3 326.3,211 200.7,482.3 367.7,174.7 324.9,472 310.7,493.6 590.2,56.1 628.9,61.7 548.1,39.7 554.1,63.1 626.3,67.3 640.5,37.3 216.6,497.1 628.9,51.2 209,496.1 272.2,480.5 568.2,41.8 198.8,472.9 667.2,64.9 648.5,53.6 117.2,474.9 480.1,58.7 645,38.3 425.4,44 423.6,86.7 451.8,59.6 432.6,55.3 448.9,74.3 505.2,70.2 662.5,53 164.2,497 250.7,488.1 120.5,501 155.3,496.7 232.2,502.7 631.6,56.2 296.9,493.3 460,58.6 295.6,460.7 680.5,63.9 227,488.3 342.4,451.7 328.1,474 239,469.2 159.3,470.9 340.1,50.6 232.2,482.2 130.6,507.4 622.3,53.9 312.9,487.4 123.8,504.1 468.6,60.6 389.9,59 510.5,52.7 322.6,479.6 197.1,479.2 481.9,50.6 344.4,485.7 617.1,72.5 303.5,480.7 244.1,476 223.2,488.2 263.3,496.7 253.2,494.3 414.8,86.3 329.4,239.1 670,72.4 233.5,469.6 653.4,57.5 308.7,477.5 392.8,71.7 664.3,53.4 562.3,49.7 657.1,71.6 424.5,82.8 298.5,453.4 502.2,74.9 507.9,76.3 140.9,486.3 178.3,475.4 656.8,47.9 528.3,69.4 586.5,59.4 224.4,497.1 672.9,59.7 288.8,493.7 197.1,459 322.1,410 317.6,479.3 150.4,490.1 599.9,43.4 613.4,67.9 229.8,491.4 431.3,66.6 613.7,59.4 332.8,402 407.5,74.8 256.4,503.1 384.1,73.8 295.3,452.6 587.2,76.1 208,503.1 136,498.5 630.9,53.9 215.4,485.5 430.4,64 521.5,55.4 303.6,181.6 647,61.1 309.9,290.3 229.5,479.1 154.5,488.9 630.3,62.3 240.4,492.8 629,58.1 377.4,169.1 649.2,74.3 166.7,495.6 604.9,73.9 675.7,94.3 522.6,75.2 193.4,458.3 686,80.8 574.1,61.1 237,479.7 670.6,61.9 166.4,489.9 191.2,500.7 125.7,497.2 455,68.4 347.5,83.2 166.1,490.4 398.4,85.4 619.6,49.1 169.7,468.3 481.5,52.8 213.4,449.8 408.5,73.3 312.6,407.4 274.5,505 124.2,485.2 447,49.6 370.1,50.4 511.4,59 222.5,472.3 678.1,58.7 128.5,492.7 228.9,490 483,58.3 193.6,480.7 265.8,460.4 403.3,71.9 548.5,45.4 610.2,63.6 297.8,452.3 492.3,51.6 130.4,484.3 625.1,44.9 500.3,61.1 631.7,51.4 237.2,477.6 400.4,164.7 541.3,70.5 131.6,488.3 596.8,41.2 520.8,50.6 566.6,42.9 209.9,469.5 560.3,66 440.5,59.4 202.7,470.5 192.5,481.4 606.3,69.4 344.4,108.4 272.3,482.9 327.2,137.5 507.6,63.6 195,476.8 209.5,479.3 487.7,72.1 627.2,69.9 500.3,62.7 656.1,58.9 278.6,486 319.1,420.5 329.7,417.4 321.8,209.8 270.4,497.6 569.3,58.9 278.8,472.7 354.6,140.8 386.6,76.6 685.3,57.1 305.1,460.3 511.2,40.3 304,487.8 573.7,28.2 338.3,99.7 129.4,477.5 415.5,75.1 309.7,498.3 268.2,495.7 284.1,522.6 118.3,494.2 533.9,60.5 429.5,72.1 480.1,64.9 442,54 334.5,301.3 378.8,54 388.8,68.8 640.4,37.2 315.9,365.5 204.1,504 165,479.6 309.5,481.1 443.6,77.2 449.4,36.1 532.3,64.6 493.2,52.5 164.7,455.9 339.4,149.3 328.4,464.5 181.6,482.5 452.8,87.7 558.9,46.3 141.7,498.4 419.4,42.3 185.4,473.3 559.9,72.6 435.7,83.7 154.8,473 411.3,74.1 254.6,487.6 235.4,482.3 497.7,48.8 347.9,251.5 646.5,68.8 639.8,49.1 603.8,53.5 351.2,399.8 633.1,71.6 158.3,469.2 559.6,52.8 321.9,450 610.9,51.7 134.1,489 445.2,81.3 156.9,495.7 285.2,479 439.2,63.6 196.4,485.2 513.1,68.3 409.6,71.8 244.7,493.1 423.9,78.6 371.4,224.6 136.4,484 521.8,67.4 524.7,66.3 636.2,66.6 654.1,62.8 328.4,473.3 483.9,60.2 463.8,64.9 147.1,472.1 530,67.9 272.6,499 359.5,289.2 471.1,39.6 404.9,62.3 276.8,501.1 615.1,50.3 170.7,500.7 460.9,62.2 222.6,491.4 644.6,73.5 651.2,49.7 524.2,55.4 621.4,61.3 554.2,56.1 490.2,73.5 543.5,63.1 636.6,55.6 240.9,479.8 533.1,81.6 219.5,482.7 380,74.4 311,433.3 478.6,49.9 481.6,46.4 631.8,71.9 596.1,49.8 154.3,487.5 216,478.5 142.7,465.6 522.3,44.7 314.6,471.9 673.2,73.2 239.4,496.7 662.6,63.3 548.6,66.8 551.8,55.1 463.7,52.2 621.7,37.3 250.8,474.2 612.7,74.7 619.5,29.6 463,60.5 494.3,64.4 247.7,509.3 397.4,59.9 451.9,32.6 297.5,479.6 141.3,481.3 658.7,54.1 576.8,46.6 325.4,481.3 420.6,68.9 454.3,51.4 663.5,47.5 435.7,67.1 529.8,54.3 575.2,47 174.5,483.4 449,64.1 647.5,33.6 587.1,41.4 642.9,51.3 209.8,489.3 560.7,74.3 276.3,492.9 616.6,58.6 564.4,70.7 331.1,474.3 447.6,90.6 384.9,223 654,63.9 433,68.6 161.4,491.2 422.5,53.4 128.1,475.2 194.8,500.1 397.1,52 380.4,210.4 156.5,504.1 311.4,481.5 280.9,469.9 280.7,490.5 369.8,76.3 136.9,487.6 135.8,469.9 251.2,513.6 525.7,57.5 651.4,57.3 547.9,79.5 161,493.5 587.6,63.4 584.6,52.6 598.6,63.3 531.9,66 266,485.6 399.5,50 368.1,280.9 137,487.6 425.4,63.2 268.2,488.6 660.3,48.3 497.3,66.8 579,77.6 135.7,490.9 523.2,75.1 575.1,39.7 380.4,121.3 261.1,500.9 394.8,91.1 430.9,79.6 364.6,325.3 298.7,462.6 498.5,36.6 625.7,53.7 270.3,485.3 620.4,45.9 148.5,493.1 509.5,51.2 313.6,494.7 416.5,71.8 319.4,411.3 163.1,522.4 211.9,480.8 680,68.6 354.4,247.3 659.1,68.8 413.6,76.8 629.8,75.9 370.9,237.7 682.5,68.5 389.5,80.8 264.7,525.2 217.5,510.5 158.2,479.6 179.9,503.9 506.2,75.8 324.1,468.1 615.4,61.7 230,486.9 649.8,63.4 225.7,465.8 271.2,502.6 311,496.2 267,488.7 353.9,426.5 575,41.6 157.8,488 256.4,478.1 147.5,483.4 559.3,23.2 185.5,496.4 407.8,44.5 612.4,59.9 297.4,484.9 183.2,479.9 269.1,472.9 653.1,67.8 171.4,490 609.9,71.1 186,521.3 210.4,462.3 557.5,57.6 481.9,60.3 300.1,497.3 517.6,62.6 201.6,483.8 619.7,44.7 445.5,56 656.8,57.9 457.1,72.8 443.3,67.3 606.4,59.5 449.6,82.8 166.7,494.7 466.1,59.2 284.6,458.3 481,80.9 686.4,76.3 465.1,50 592.7,89.6 319.2,453.6 123.9,485.8 143.9,477.3 127.6,481.1 241.4,508.9 271.6,480.8 300.5,498.5 490.3,62.3 544.3,59.6 555.6,57 546,50 604.7,59.1 528.4,45.8 379,429.7 352.8,378.9 163.7,482.9 124.8,493.6 605.9,49.7 202,493 610.1,63.8 345,377.5 151.4,510.5 589.9,54 524.6,65.7 686.1,51.1 426.2,52.2 647.6,71.1 405.9,366.4 266.3,468.3 345.9,228 493.5,50.3 624.6,30.2 582.6,82.9 647.9,62.3 423.5,37.5 380,81.3 416.8,61.3 649.4,72.3 326,275.3 151.6,479.2 340.7,410.8 487.7,44 592.1,52.6 654.9,72 509.3,83 581,56.6 580.5,41.9 578.4,54.7 459,53.2 656,38.4 625.6,65.8 121.6,490.6 186.4,476.8 683,64.8 497.2,68.7 197.1,493.6 636.7,51.6 168.1,497.8 423.9,64.1 338.2,58.5 281.7,494.6 253.6,495.2 166.7,486 332.3,75.8 174.3,497.9 473.1,66.6 300.5,460.3 554.5,65.4 651.8,60.1 623,61.4 538.9,67.8 562.3,51.2 169.7,492 671.6,80.9 445.8,40 426.9,63.7 501.6,58.1 224.1,484.3 385.2,94.3 186.7,501.9 641.1,71.3 402.2,67.3 192.7,480.5 670.2,63.9 448.4,54.4 547.8,88.3 575.2,72.1 514.1,58.7 370.2,206.6 277.1,479.8 146.6,491.4 473,63.6 180,501 327.8,488.4 624.5,78 632.7,49 586,56.4 227.4,492.5 654.1,73.2 197.1,483.6 640.9,70.3 544.2,47.8 670.8,51.9 678.4,68.7 416.6,63.7 295.2,446.9 640.9,52.6 296,475.7 306.9,465.3 441.7,51 198,504.5 377.3,107.2 195.7,477.3 375.6,96.6 634.6,54.8 642,64.6 663.7,63.4 530.7,57.1 542.9,54.8 360.8,72.6 627.4,54.5 193.7,501 212.2,506.3 184.6,483.5 350.1,263.4 151.3,508.7 518.5,76.3 221.4,479.9 510.3,52.2 438.6,23.3 511.7,63.7 517.8,64.2 565.5,61.6 390.3,92.4 442.5,48.2 260.2,499.8 403,70.3 168.3,486.6 661.6,66.3 647,54.2 159.2,480.1 123.4,479.5 342.5,457.9 417.6,71.9 390.5,320.1 309.6,496.7 472.1,78.4 345.6,221.3 348.7,343.2 135.6,505.7 455.5,48.4 164.5,489.8 606.6,64.4 389.4,71.4 319.4,449.7 494.2,77.3 622.1,54.8 213.4,494.6 346.1,74.6 672.4,85.3 609.8,71.9 340.2,158.7 323.8,475 582.5,49.9 165.2,484.1 184.9,492.1 442.9,40 441.3,67.6 441.9,59.6 553.5,64.1 619.8,52.1 345.3,94.6 303,488.7 601.7,52.6 256.8,485.3 616.2,67.9 520.4,48.7 600,65.9 480.5,67.5 177.7,480 524.8,65.7 400.2,424.1 222,457.8 175.4,478.1 267.1,494.7 188.7,494.9 194.6,476.7 598.2,55.4 659.3,70.7 684.5,51.8 436.2,78.9 440,44.2 151.2,473.2 184.8,468.7 556.5,75.1 442.8,52.8 440.4,35.9 546.8,54.3 580.9,61.6 522.2,43.6 123.4,505.2 427.4,60.7 593.7,54.3 584.6,64.9 658.3,58.7 413.4,50.3 415,49.6 131.3,488.9 409.6,74 438.8,77.8 640.6,70.4 621.8,65.8 152.8,497.3 198.1,454.7 335.3,324.9 562,61.1 212,480.7 558.6,75 455.3,67.2 617.6,52.4 312.4,481.1 346.7,68.4 151.5,495.8 412.6,93.7 558.9,42.2 409.9,51.7 414.6,58.5 639.1,57.8 554.4,50.7 296.4,423.6 655.9,72.3 530.5,47.6 288.9,468.4 237.7,484.8 502.5,62.1 406.3,73.5 458.7,66.8 190.9,492 553.9,56.2 608.2,49.4 356.6,310.8 290.9,466.3 673.1,74.6 673.1,57.9 188.3,474.3 425.5,67.7 366.3,233.4 277,478.9 413.1,65.2 498.2,50.8 326.2,353 292.6,475.1 609.5,84 492.3,58.6 291.4,496 206.3,474.8 336.6,426 652.7,35.3 590.9,31 237,464.5 462.8,47.9 120.2,496.8 634.5,62.8 654.4,47.8 240.7,483.6 312.6,267.1 288.9,489.9 223.3,497.7 506.9,54.8 332.1,428.4 120.1,473 242.4,479.6 494.1,63.6 517.3,43.1 126.6,515.3 430.8,76.4 481.4,66.5 480.4,53.4 488.7,37 562.1,50 308.4,422.3 602.5,59.5 369,386.3 151.7,495.2 488.7,46.7 312.6,275 479.4,66.4 330,474.3 401.1,85.3 433.9,82.2 521,62.1 286.2,285.7 499.1,74.1 250.1,484.7 568.3,63.2 249.1,486.3 158.2,488 139.1,486.2 458.5,62.3 301.4,394.5 444.8,60.9 294.4,487.8 367.8,88.6 613.4,59 643.8,67.7 141.8,478.8 657.9,60 405.1,62.3 539,34.2 647.3,50.1 224.6,503.3 335.1,102.4 623.1,53.6 413.4,79.2 629,65.2 595.1,57.1 686.6,65.5 494,69.8 155.4,489.1 631.9,64.2 222.7,494.6 206.6,482.4 327.6,410.8 235.2,491.1 196.7,473.8 481.1,49.5 636.1,59.4 267.5,485.2 330.5,187.5 482.9,57 288.3,502.8 398.5,74.4 637.7,46.6 183.9,499.7 422.1,47.1 238.7,479.9 558.2,59.9 235.9,493.9 579.5,58.1 347,367.4 648,54.1 324.2,406.3 398.3,60.4 178,495.8 275.3,481.5 354.2,100.8 626.3,60.5 451.6,70.6 578.9,68.4 603.9,52.7 168.6,498.5 296.8,462.4 591.8,50.5 548.1,80.6 438.8,73.1 347.5,361.4 401.7,80.9 125.7,489.9 190.5,477.5 320.1,230 197.1,500.9 248.5,479.2 577.1,47.6 555.2,67.8 534,51.9 440.2,67 642.8,75 248.2,473.9 471,45.9 357.2,170.8 654.4,90.4 313.1,473.6 253.1,495.3 555.2,55.1 579.2,75 527.1,53.6 563.9,46.7 226.7,486.5 462.2,50.3 423.5,56.1 635.9,48 343.8,488.6 257.3,493.7 292.5,503 409.2,65.2 677.9,63.1 515.2,73.1 527.8,47.6 383.4,65.1 343.4,397.8 648.4,52.5 374.1,71.8 188.8,488.4 562,50.9 232.3,474.9 339.7,99.3 466.2,64.9 591.6,47.7 121.1,488.8 489,48.3 194.9,489.7 477.2,60 462.1,55.5 411.7,72.6 360.3,147.2 425.6,54.9 663,80.9 318,442.5 386,66.8 201.2,476.2 338.8,327.9 146.7,488.4 635.9,68.1 314.1,462.6 651.9,63 194.2,476.7 494.4,62.7 460.8,60 494.2,52.3 570.6,54 159.7,506.5 538.8,57.1 132.1,488.8 289.1,504.4 600.4,73.8 442.4,48.4 648.1,55.4 608.8,65 358.6,63.8 277.7,498 233.4,471.9 141.3,494.9 525.7,41.8 576.8,64.2 144.4,494.2 397.6,140.5 590.9,62.5 481.9,47.3 354.8,454.3 658.6,63.4 358.3,105.2 295.3,468.5 400.7,40.1 315,430.4 340.8,407.2 400.6,60.4 161.4,497.9 461.3,78.7 449.4,56.7 523,53.7 255.7,485.1 140.6,473 520.9,50.8 327.6,465.5 458,52.6 271.6,498.8 315.9,466.5 267.2,500.5 398.1,64.8 486.6,74.6 251.4,475.1 297.4,469.9 380.9,172.9 514.3,70 327.7,461.3 152.7,510.7 413.1,65.9 376.2,240.9 685.7,76.3 448,86.9 143.5,506.3 484.4,57.1 164.4,507 329.6,360.7 137.2,486.3 459.8,52 215.7,489.9 655.7,57.6 227.5,471.6 669.3,67.2 638.3,60 412.6,45.5 381.9,105.5 339.1,474.3 544.3,90.9 224.4,508 319.4,499.8 150.7,491.3 360.9,472.8 226.3,516.2 641.6,38.3 374.1,50.9 244.3,473.8 273.2,490 218.8,483 168,496.9 147.6,495.3 525.8,68.9 177,484.8 597.1,66 669,65.3 638.6,38.7 217.9,492.4 569.4,52.6 457.9,55.5 656.5,65 284.4,493.4 462.4,46.6 468.6,65.9 225.4,480.4 459.5,64.7 530.7,64 577.3,42.1 605.2,80.1 132.4,496.7 549.8,66.8 302.2,368.7 553.7,67.8 203.5,487.1 331.7,64.4 348.8,62.9 513.8,48.3 468.4,76.2 581.2,39.3 120.6,488.5 279.4,499.8 536.9,57 253.8,500.1 598.3,64.4 294.3,486.4 497.6,65.6 148.7,517.9 639.7,44.8 181.3,487.9 351.7,410 339.2,138.5 290.2,488.5 422.9,44.2 416.4,44.5 570.1,64.2 671.5,50.3 573.8,64.1 529.7,65.7 230,483.4 238.2,487.4 124.3,490.1 170.2,512.7 563.6,70 149.6,487.6 270.9,479.7 335.8,315.2 206.8,495.3 310.9,346 261,502.2 350.5,245 219,466.8 131.8,491.5 635.4,72.1 540.7,47.6 556.4,61.5 262.5,488.5 653,53.6 592.4,63.9 350.1,435.4 282.2,496.4 569.4,69 129.1,485.3 443.6,55.2 612.1,57.4 637.5,52.1 644.4,60.6 361.7,363.5 126.2,483.2 316.6,493.6 271.4,488.6 447,48.7 530.6,53.4 676,46.5 299.2,467.8 324.1,308.5 166.5,494.3 592.2,65.8 401.6,62.2 250.2,475.5 403.9,185.7 393.6,42.7 583.3,54.3 248.1,510.7 406.2,82.1 370.9,69.5 174.4,487.4 195.9,497.1 254.5,494.7 365.1,455.7 434,47.7 542.2,63.8 636.2,68.5 169.4,492.8 672.4,67 352.5,101 562.4,46.1 306.6,400.9 533.6,54.2 508.1,60.3 128.2,491.4 614.2,50.2 142.2,497.1 398.1,74.8 241.1,489.1 454.6,68 221,494.3 464.6,49.9 556.2,74.7 455.7,44.7 594.9,43.3 334.7,441.2 498.4,51.6 372.4,217.4 639.2,62.4 171.4,493.2 613.1,68.8 124.9,476.5 605,54.7 165.9,476.4 514.7,77.2 175.1,489 562.2,64 244.1,505.6 157.3,474.9 613.4,57.8 446,54.8 600.4,40.9 568.8,65 171,468.7 172.1,509 524.8,42.2 599.5,49.1 220,501.1 623,73.6 132.2,457.1 555.5,65.6 475.1,44.3 336.8,410 335.2,397.4 292.6,472.2 388.4,88.2 402.5,72.7 211.3,496.8 124.9,476.3 417.7,179.4 225.8,499.9 173.3,482.3 261.1,425.9 199.6,493.2 610.6,70.4 282.9,500.4 486.6,68 122.8,501.4 494.3,65 661.4,70.3 547.8,77.2 552.8,43.2 355.5,440.8 389.4,362.6 631.3,64.4 252.2,495 405.5,74.5 533,70.7 309.7,490.7 386.3,317.1 137.4,476.3 506.2,57.7 212.5,488.7 264.8,488.8 245.5,457.2 526.7,59.9 344.9,401.2 684,67.4 573,39.1 643.9,67.6 509,72.3 248.4,495.8 301.8,477.6 324.6,434.8 232.7,483.9 383.3,38.3 568.3,71.9 414.8,76.8 212,494.2 535.1,44.2 667.6,70.8 387.8,66.7 198,502.4 533.7,57.5 424.6,70.7 578.1,24.1 462.6,50.4 614.4,65.9 125.4,478.5 488.1,60.5 460.3,67.2 561.3,53.7 241.9,506 451,45.6 269.5,473.4 547.6,73.1 162.6,490.2 207.1,511.1 656.2,53.2 537.9,56.1 261,485.4 295.3,469.3 364.7,333.2 250.3,495.3 197.2,491.3 670.3,67.9 238,496.3 543.7,68 526.8,90.2 536.7,69.4 290,476.6 244,471.4 468.8,66.7 684.8,59.3 338.9,58.4 241.8,507.8 407,61.1 225.5,508.9 315.1,435.1 536.5,62.5 255.5,486.3 372.8,62.9 484.2,36.9 208,520.3 199.6,505.7 667.4,57.3 612.1,57 621.7,68.8 443.6,55.8 404.8,61.2 179.2,487.4 254.1,475 181.3,499.1 420.7,57.8 365.7,60.2 215.6,495.2 173.6,473.8 444.7,70.2 197.7,508.5 124.5,501.8 245.8,487.7 575.1,47.8 492.2,64.6 412.1,63.1 245.7,488.7 383.8,283.7 122.9,500.6 302.7,373.8 390.6,124.5 169.5,483.3 448,50.1 369.6,159.8 148.1,486.2 201.1,491.2 395.7,203.9 628.7,68.9 149.6,488.5 437.8,74.9 279.4,478.8 338.7,55 643.2,57 476.3,41.5 279.3,469.8 374.8,66.3 676.8,58.9 611.8,58 360,77.5 419.3,68.1 378.6,54 203.1,498.9 669.1,52.1 247.9,489 242.2,509.2 180.2,493.4 654.3,54.1 638.9,61.9 480.5,57 418.7,33.1 448.5,76 328.4,277 624.7,69.1 435,60 605.3,65.7 513.3,62.6 504.4,69.9 499.9,69 559.7,37 581,29.7 506.8,61.9 300.1,348.3 267.3,508.7 228.9,493.5 605.3,50.9 394.2,55.3 117.4,491.2 458.8,38.1 609.7,24.3 641.1,62.1 652.4,72.3 612.6,52.4 218,478 411.3,133.4 521.2,60.5 484,46.7 321.7,473.7 138.4,498.8 626.6,49 560.9,69.7 611,41.2 337,486.5 258.7,511.1 598.6,70.2 490.5,50.2 497.7,37.9 136.8,484.1 178.3,492 555.9,32 621.1,75.6 318.8,452.7 614.6,78.2 219.4,509.5 447.9,72.8 316.4,478 421.6,61 229.4,490.8 335.6,442.8 380.5,242.6 447.6,41.4 234.1,486.9 462.5,53.3 238,504.2 673.9,60.6 254.8,502.9 179.7,480.3 271.8,508 441.1,50.9 371.7,447 493.2,52.9 179.8,473.2 352.5,96 434.3,69.6 673,65.5 622.7,65.4 443.2,61.2 288.5,486 182.7,491.3 477.8,39 438.4,61.9 387.6,139.9 527.9,41.9 382.6,88.5 561.5,60.6 281.7,481.1 303.9,400.9 637.5,75 447.4,76.3 661.8,74.4 152.3,498.6 644.6,45.8 149.9,489.7 543.6,55.8 447.4,70.1 186.4,495 289.9,456.6 390.8,58.5 435.5,78 395.3,51 132.7,495.7 684.4,66.5 318,493.1 529.3,67.1 646.9,50.2 672.8,77.6 221.9,483.5 626,82.2 409.6,87 490.8,60 257.5,485.1 199.4,489.6 447.5,84.5 632.2,46 355.9,119.7 660.7,70.1 519.6,44.3 127.9,496 649.8,59.5 181.3,498 243.8,500.9 438.2,80.8 653,63.4 194.1,480.8 286.9,490.1 143.2,481.4 167.3,478.5 362.8,43.5 445.5,47.7 408.6,59.8 144.3,485.5 361.8,112 370.4,122.6 650.5,74.2 303.9,459 478.5,70.4 395.4,61.4 561,42.3 461.7,73.9 683,66.4 480.5,55.1 312.1,174.6 356.9,75.8 605.4,70.3 327.1,432.6 645.7,50.5 368.4,78.3 655,66.4 202.9,487.5 564.3,49 370.7,74.9 246.5,489.8 453.9,86.6 151.2,480.2 231.2,480.3 600.3,76.4 415.9,61.5 310.1,494.6 199.5,485.6 208.7,483.3 248.3,489.5 379.9,58.6 128.6,462.5 234.2,466.5 361.3,57.7 620.5,59 610.8,35.4 650.4,67.2 245.6,504.6 188,490.7 601.4,70.8 515.6,87.2 257.8,501.2 364.3,106.9 644.5,65.1 583,55.4 651.1,52.5 398.8,54.4 227,501.7 424.6,54.2 181.9,469.5 183.9,491.4 169.1,491.2 260.9,480.6 210.7,481.3 264.2,487.9 513.6,54.9 500.6,71 131.9,509.7 607,67 584.8,64.7 655.7,60.9 241.5,495.1 533.6,71.1 434.8,57.6 520.1,54.2 632.3,63.2 163.5,493.4 596.9,59.2 606.9,66.5 485,54.4 346.2,438 425.8,84.3 197.3,467.2 542,55.3 431.5,49.4 445.2,62.2 521.6,61.6 174.9,487.7 144.2,487 185.1,490.2 162.8,498.6 574.3,52.7 192.7,487.8 332.1,38.5 491.7,69.2 264.3,490.7 637.1,60.4 638.4,82.5 340,388 451.7,83.2 565.2,67.5 677,58.1 512.3,58.3 373.7,48.4 141.9,485.8 483.2,47.8 493.1,53.4 512.6,85.8 315.7,213.6 608.5,77.8 455.1,52 334,228.4 255.9,472.2 134.6,484.4 523.2,59.4 297.3,503.8 604.2,50.9 300.8,483.4 291.6,406.7 564.1,75.2 333.9,496.8 679.4,65.4 439.7,50 651.8,60 186.6,498.8 143.7,479.2 124.8,475.8 616.8,56.8 389.1,90.4 535.5,56.5 416.7,62.4 668.9,53.1 579.1,72.6 390.6,45.3 220.3,487.9 336.3,430.5 339.9,295.1 322.4,495.4 524.7,77.5 594.4,59.3 590.5,55 229.4,495.4 213.3,486.3 499.6,57.3 535.3,69.1 564.1,60.2 632.5,73.5 308.9,492.5 155.9,495.4 328.2,372.4 302,491.5 180,484.7 504.7,60.3 408.8,120.1 472.9,84.9 612.9,61.2 445.6,59 623.2,53.4 581.4,56.9 418.2,32.4 470.3,68.8 385.4,82.3 338.2,477 534.2,69.8 460,58.2 328.1,471.2 489.5,35.4 422.7,72 180.7,469.7 542,54.6 400.4,64.2 646.6,58.5 629.9,72 182.1,488.1 268.9,486.7 514.4,64.1 231.4,503.3 587.2,66.2 501.3,62.7 659.3,61.9 317.5,502.6 509.6,58.1 460.6,46.4 505.9,61.7 657.9,42.8 318.2,477 249.2,493.8 576.1,71.8 203.4,502.9 431.6,69.1 645.3,62.1 600.1,72.5 511.5,63.1 125.2,468 676,82.8 375.3,61.7 283.2,486.5 155.5,484.2 199.5,484.7 143.2,488.7 436.5,68.5 334.3,128.5 285.1,498.2 583.8,68.1 162.8,487.5 357.8,102.7 575.2,57.8 590.5,68.3 521.6,73.9 416,34.9 207.9,482.6 342.6,213.4 532.9,56.8 562.4,50.9 465.2,47.7 629.7,43.4 439.2,60.4 600.5,53.3 633.1,49.5 213,506.5 200.3,488.2 680.5,55.2 286,498.6 372.9,68.4 358.8,270.3 600.9,54.4 124.3,488.9 397,87.8 380.5,88 173.3,448.7 371.7,150.2 615.8,71.2 146.6,507.6 259.9,470.8 463.8,53.7 427,70.7 550.5,43 312.3,428.4 187.4,497.1 328.2,488.3 590.7,54.5 365.6,78.7 343.4,276.4 563,46.6 451,66.3 195.2,484.8 334.2,476.6 635.7,51.9 133.9,475.5 551.9,92.1 293,501.4 544,55.4 211,507.2 491.4,59.1 607.6,52.6 154.9,486.8 663.1,51.3 177.9,489.3 124.8,475.5 586.3,63 409.6,65.8 137.2,499.3 490.9,80.5 407.2,61.5 684.5,59.2 673.8,62 618.3,71.1 415.5,65.8 584,48.1 537.2,57.3 272.6,473.7 543.6,54.5 285.9,449.3 356.8,42 162.7,499.1 195.2,507.8 403.1,76.1 595,56.8 570.1,50.3 206.6,485.2 426.6,67.7 292.1,454.6 234,483.5 325.9,465 504.9,65.1 644.8,39.2 172.7,473.1 284.3,493 543.8,45 401.1,57.2 338.4,403.1 574.3,45.4 127.5,495.3 656.9,57.9 272.4,473.1 600.1,56.7 593.3,75.3 595,66.8 470.2,56.3 487.2,67.5 144.6,487.6 360.8,79.9 473.8,65.7 272.9,501.7 505.7,55 432.2,45.6 497.8,60.6 605.5,53.8 307.8,481 473.4,55 145.2,502.2 572,53.4 582,52.3 509.6,68 511.4,53.8 436.9,68.2 302.7,491 571.7,69 192.3,474.6 448.9,48.2 178.7,485.7 542.3,39.4 403.4,203.3 478.4,48.9 214.4,492.9 354.5,104.3 493.7,49.2 368.7,99.4 529.8,75.8 165.6,492.2 321.5,439.8 178.8,492 538.5,49.9 342.3,110.9 543.8,33.3 548.5,60.7 138.7,496.5 471.4,65.4 575.9,67 639.3,78.2 167.7,501.3 169.7,485.8 370.2,69.1 545.1,73.4 180.8,483.4 685.7,64.1 523.3,33 125.4,480.5 541.4,50.2 362.4,90.2 217.3,482.1 495.2,61.7 525,68.4 471.5,39.8 261.6,471 221,475 151.3,500.2 212.8,488 322.6,438.5 309.7,353.7 157,508.7 598.8,59.5 223.8,503.7 163,501.1 236.3,481.5 369.2,183.5 473.2,45.8 163.6,500.3 203.4,493.8 132.3,490.1 344.3,361 687.1,62.4 562.7,68.4 603.5,57.8 638.4,72.2 243.2,488.3 486.3,59.3 354.9,98.2 324.3,155.4 549.7,61.3 437.7,66.8 472.1,33.9 271.5,471 653.2,52.4 491.3,63.1 476.3,41.2 550.3,55.3 638.2,60.9 217.4,489.6 267.8,476.9 671.7,55.7 501.5,66.3 623.8,84.5 306.2,349 679.8,58.4 363.2,101.7 576,56.4 636.9,47.5 412,53.1 354.8,72.7 401.1,62.2 190.7,510.3 158,506.1 656.2,34.9 489.1,69.5 165.2,496.1 453.5,44.5 259.1,481.8 596.2,82.8 321.9,413.4 127.2,508.4 496.7,64.4 684.3,49.6 537.5,54.3 665.4,65.8 175.4,478.4 283.5,490.3 559.6,63.8 380.8,54.1 218.8,455.6 312.7,448.7 279.9,495.7 518.4,56.9 557.8,56.4 536.7,50.3 498.1,52.6 543.6,39.9 643.6,36.5 267.7,238.5 276,492.7 677.1,62.1 619.3,56.9 496.2,61.6 569.7,44.7 483.9,51 293,277 439.6,59 256.4,476.3 173.4,496.6 310.5,492.5 578.3,64.2 196.4,499.8 143.2,493.9 251.5,516.8 564.5,59.9 620.5,67.2 273.3,478.7 664.9,47.5 389.7,52.1 508.8,77.8 498,56.8 370.7,342.5 596.9,72.2 628.9,53.4 386,69.2 288.7,461.4 651.4,54.1 516.2,65.1 324.6,435.1 210.6,485.4 342.2,298.7 370.3,154.9 581.3,59 517.4,60.9 408.2,72.2 635,68.5 450.8,40.8 609.7,68.6 154,468.4 162.7,497.3 607.4,49.5 536.5,59.1 265,442.7 185.9,486.4 158.1,487.2 299.6,437.9 622.2,56.2 226.6,480.5 259.2,474.7 591.4,61.3 222.7,488.2 253.6,488.9 542.9,83.5 605.6,56.5 654.5,73.4 142.8,487.5 305.2,413.1 465.5,65.1 306.4,486.7 539.9,74 245.7,487.6 462,40.6 209.6,469 203,466.5 572.1,45.2 475.1,53.9 440.9,36.1 331.6,222.6 501.2,48 660.4,51.9 331,240.6 144.2,497.5 264.2,483.5 562.5,36.5 286.9,483.1 547.4,62.4 233.4,484.8 457.3,65 325.7,290.4 421.1,69 330.8,329.8 455.6,64.2 538.7,60.6 516.8,59.4 362.6,80.1 138.3,470.3 588.9,38.4 178,495.2 333.5,316.7 567,57.8 675.8,63.8 531.5,55.2 182.2,482.2 667.4,65.1 144.2,482.6 138.1,502.7 536.7,49.8 641.1,66.2 482.3,76.3 616.5,59.3 486.6,73.8 165.5,476.6 470.3,40.7 554.1,72.4 398.9,74.7 522.4,72.9 384.1,75.6 175.8,498.4 608.8,60.3 235,504.9 233.9,478.6 191,461.4 314.7,405.1 346.5,145.6 230.4,494.4 210.1,518 374.5,247.1 124.1,466.8 397.7,63.7 178.2,468.9 193.4,486.9 185.6,477.5 600,45.9 582.3,64.9 678.7,42.4 576.7,43.2 405.7,62.2 341.6,429.5 450.7,72.8 476.5,39.8 680.9,70 308.3,438.1 632.4,65.4 659.4,63.9 661.5,47.7 474,56.6 467.9,45.2 685.4,58.8 353.3,453.7 559.7,71.4 162.9,496.3 253.2,528.2 404.5,45.1 537,46.7 219.2,503.5 584.4,70.4 445,60.2 194.6,500 139.3,472.2 344.2,358.9 585.9,55.9 674.2,55.3 550.4,61.7 245.5,503.3 628.8,77.2 206.2,496.5 343.6,79.2 498.5,45 310,495.1 304.8,482.5 364.1,463.7 632.9,36.7 384.2,47.3 167,476.4 320.1,491.8 451.4,64.4 425.6,59.4 662.3,58.9 407.2,49.7 567.9,46.8 545,52.5 383.1,118.6 356.2,258.5 379.5,199.2 185.3,474.7 166.5,483.1 182.3,472.5 191.7,485.8 164,500.2 343.1,422.6 201.9,499.5 674.8,76.2 349,169 119.8,476.7 493.9,63.2 525.1,72 657.8,66.6 256.7,488.4 298.5,164.4 543.9,62.9 474,66.1 473.5,50.1 650.1,63.9 685.4,37.9 122.1,498.5 338.3,255.9 655.2,69.8 127.5,481.6 310.4,374.3 553.1,51.3 160,478.8 452.3,38.3 641.9,65.5 421.8,45.8 119.7,485.4 181.9,490.2 350.5,382.3 124.2,470.1 494.1,77.4 270.7,475.9 312.6,475 564.1,73.6 535.9,67.6 573.5,61.6 225.5,489.7 313.1,458.1 480.1,44.8 403.5,84.7 577.1,90.9 352.8,300.1 636.4,54.5 242.8,483.5 490.2,42.4 573.4,43.4 681,44.8 332.9,128.8 621.4,42.3 460.7,69.5 482.8,38.8 263.7,475.3 618.3,51.7 155.4,478.2 682.2,51.4 440.4,60.5 449.1,74.9 216.9,476.6 502.5,51.5 205.8,480 593.4,61.7 543.4,46.9 213.4,494.4 566.9,74.1 478.2,45.5 286.3,446.1 495.5,66.1 513.8,63.8 402.2,60.1 512.7,54.4 568.4,63.9 625.7,70.5 590.9,68.7 178.6,488.9 608.3,76.2 658.8,62.8 392.6,170.4 633.7,73.2 245,490.2 140.2,498.3 371.8,73.7 185.5,469.2 191.9,466.1 370.3,95.7 672.6,60.5 413.8,53.1 680.5,63.1 407.4,199.6 381.3,77.5 129.1,499.1 164.7,501.1 615.7,57.1 509.2,59.8 438.8,69.4 625.3,40.5 488.1,62 278.1,464.5 611,63.2 532.8,56.5 163,492.4 591.4,62.2 325.2,301.6 599.2,74.6 588.2,70.8 634.8,50.9 182,478.5 536.7,49.4 295.7,502.5 606.3,42.1 182.7,483.1 616.8,70.9 671.9,62.6 411.8,62.2 430.1,57.2 465.6,83.3 629,77.4 167.4,480.9 603.2,53.3 316.1,494.3 348.8,409.3 615,48.8 186.7,487.7 199.1,491.8 505.5,79.9 533.3,72.7 245.8,478.8 512.6,59.1 320.7,129.3 132.9,501.1 266.7,508.3 209.1,495.9 374.6,170.3 375.6,66.2 336.7,336.9 635.9,44 336.8,482.4 226.3,486.7 657.5,56 482.4,61.7 660,46.7 374.6,87 462.3,50.2 304.6,478 666.4,63 274.6,505.2 648.2,56 311.9,500.3 555,73.8 486.2,61.4 560.8,62.4 233.6,488.9 686.9,68.7 400.5,88.8 159.9,468.5 506.4,60 161.6,499.5 486.8,69.6 526.1,67.3 233.2,471.3 183.2,482.6 194,471.5 491.8,55 543.2,40 641.6,81 302.5,507.3 173,486.1 476.3,53.9 594.2,73.4 531.2,64.4 396.8,66.9 270.4,480.8 533,69.9 605.5,72.6 242.2,495.6 522.3,69.9 557,58.6 685.6,60.8 331.3,472.8 341.2,480.2 142.5,493.3 208.4,498.8 541.7,35.1 272.5,496.7 637,52.6 299,142.3 571.3,71.8 322.7,59.2 548.5,54.7 367.2,181.6 237.6,506.6 234.4,492.9 280.5,487.8 185.1,500.6 611.7,70.4 643,54.4 571.3,69.1 119.9,501.4 620.4,58.4 570.3,44 597.4,72.3 477.2,73.8 235.7,472.8 287,506.7 339.1,492.1 222.5,473.4 133.1,490.1 660.9,67.2 339.2,77.9 464,52.1 178.4,497.2 606.1,60.4 545.8,65.9 140.2,483.4 231.9,485.3 541.6,67.9 149.6,489.8 130.6,486.4 184.8,474 198.3,489 558.5,69.3 563.3,58.7 443.3,36.3 291.3,472.8 564.2,43.3 478.9,76.2 152.1,465.1 224.8,482.4 513.8,55.9 440.1,64.1 342,453.9 419.6,84.1 255.7,475.8 451.4,75.8 196,468.3 680.1,55.9 586.8,67.3 400.7,446 674.9,62.5 503.7,41.5 447.1,59.8 486,58.3 517.5,69.2 681.8,41.2 564.3,62.9 252.6,496.1 150.9,484.2 642,66.9 538,62.4 449.5,79.5 396.3,80.8 658.6,53.4 141.2,498 205.7,482.3 298.1,467.8 686.1,51.5 513.5,52 459.8,47 312.7,450.1 207.2,492.5 126.7,475.9 198.1,501.8 216.3,499.5 408.6,75 325.9,457 674.9,45.1 642.5,43.7 433.9,65.2 211.9,505.6 298.2,491.5 132.4,486.2 494.6,41.2 336.8,488 645.6,48.5 297.7,477.7 602.7,76.7 341.9,154.2 489.8,44.2 319.8,479.6 578.5,60.6 245.1,473.9 208.5,481.5 146.7,486.1 334.6,109.4 535.7,42.1 381,94.4 598,61.8 451.6,67.9 421.6,56.9 401.6,62 140.1,492.6 454,56.8 226.2,489.6 164.3,473.1 175.4,475.1 211.4,488.6 471,58.2 280.4,491.8 285.4,492.3 352.8,94.1 662.7,47.8 264.2,510.2 288.8,497 260.3,474.8 296.7,396.5 287,495.1 590.9,72.7 675.6,76.4 341.6,244.6 612,57.6 177.6,489.7 392.1,98.9 586.2,50.9 168.7,493.6 686.7,43.3 344.9,398.4 401.9,63.8 656.5,53.3 641.7,57.9 236.3,491.8 377.2,263.8 536.4,44.5 379.6,83.9 653.1,39.7 231.4,503.3 673.5,52.7 471.6,51.2 467.2,59.4 506.9,71.2 268.3,499 370.4,140.9 241.9,497.1 576.8,59.3 306,102.1 198.9,495.8 624.5,72 313.4,484.2 659.1,64.2 371.2,133.1 488.4,60.8 565.3,62.7 411.4,39.5 655.6,43.1 578.8,49.3 625.7,54.3 420.4,53 191,476.4 215.8,484.7 200.6,476.7 421.9,56.7 659.3,47.5 432.5,76.3 362.3,170.7 181.4,470.6 331.1,460.2 222.2,497.8 377.5,120.4 378.8,47 650,62.1 342.9,296.4 620.9,43.4 141.1,481.4 314.5,478.7 528.9,44 372,100.2 162.3,495.4 320.7,412.1 432.8,50.7 662.2,40.6 252.5,497.7 168.3,464.6 549.2,74.3 468.1,52.4 316.5,484 340.3,493.3 304.2,419.2 495.4,95.4 610.9,50 288.1,488.2 636,67 355.9,288.8 397.4,75.6 263.4,501 166.7,500.6 232,488.5 260.2,505.9 366.8,76.8 398.9,91.3 598.9,35.6 322.2,416.1 553.8,90.6 262,480.6 389.8,217.7 160.9,485.1 625.9,53.8 318.2,481.8 482.5,37.1 437.6,34.1 395.6,158 253.5,511.5 587.2,60.6 386.6,92.1 192.3,505.4 174.2,476.3 404.4,62.3 439.5,64 274.7,481.9 251.1,476.6 590.6,69.5 507.2,41.7 199.1,498.4 577.9,51.4 149.9,491.5 597.9,61.3 594.3,63.2 187.8,476 682.3,49.1 630.6,59.2 219.2,474.2 489.8,75.5 382.2,81.5 199.7,504.2 235,521 234.8,507.5 500.4,49.7 443.4,61 670.7,58.2 291.8,497.6 391.3,95.7 329.3,456.1 335.1,440.1 450,57.4 565.3,59.7 507.1,60.3 182.9,490.9 274.6,478.7 474.5,51.6 551.6,69.5 612,53.5 323.1,73.7 378.8,473.2 144.7,497.4 413.1,64.1 290.7,500.2 417.2,65.4 459.6,66.8 214.9,469.1 160.3,484.7 523.9,41.3 529,61.4 680.4,59.5 404.4,62.7 155.7,490.8 161.2,456.6 670.7,44.6 536.4,57.5 211.5,512.8 358.5,71.4 228.8,476.8 560.1,55.6 534.4,62.8 645.9,49.6 492.1,56 348.1,235 637,57 335.8,291.9 536.8,50.4 242.4,490.1 275,493.1 462.2,60.2 284.8,424.4 607.6,55.8 411.7,78.5 646.7,63.5 460.2,59.9 445.9,61.5 406.2,56.6 228,501 317.1,472.3 628.2,62.6 503.6,42.6 556.3,42.1 354.2,160.5 232.6,485 570.6,52.5 355.3,67.5 561.1,52.3 155.7,498.2 318,360.8 488,56.1 648,61.8 231.7,517.6 677.2,49.8 502.1,76.2 231.2,471.1 125.7,475.5 646.7,75 502.4,76.9 529.2,54.3 352.9,76.7 167.3,485.2 390.1,57.6 484.2,57.3 275.4,467.6 664.3,52.9 558.5,73.8 127.8,471.6 285.2,475.5 630.7,59.4 543.3,61.1 574.7,41.8 224.6,480.5 619.4,61.7 492.7,44.5 347.8,299.1 506.7,61.4 256.6,497.7 629.1,63.5 162.1,455.9 269.9,507 526.8,74.9 355.7,92 620.9,68.3" fill="none" stroke="none" marker-start="url(#mx)" marker-mid="url(#mx)" marker-end="url(#mx)"/>
<path d="M117.2 488.1L118.6 488.1L120.1 488.1L121.5 488.1L122.9 488.1L124.3 488.1L125.8 488.1L127.2 488.1L128.6 488.1L130.1 488.1L131.5 488.1L132.9 488.1L134.4 488.1L135.8 488.1L137.2 488.1L138.6 488.1L140.1 488.1L141.5 488.1L142.9 488.1L144.4 488.1L145.8 488.1L147.2 488.1L148.6 488.1L150.1 488.1L151.5 488.1L152.9 488.1L154.4 488.1L155.8 488.1L157.2 488.1L158.6 488.1L160.1 488.1L161.5 488.1L162.9 488.1L164.4 488.1L165.8 488.1L167.2 488.1L168.7 488.1L170.1 488.1L171.5 488.1L172.9 488.1L174.4 488.1L175.8 488.1L177.2 488.1L178.7 488.1L180.1 488.1L181.5 488.1L182.9 488.1L184.4 488.1L185.8 488.1L187.2 488.1L188.7 488.1L190.1 488.1L191.5 488.1L192.9 488.1L194.4 488.1L195.8 488.1L197.2 488.1L198.7 488.1L200.1 488.1L201.5 488.1L203 488.1L204.4 488.1L205.8 488.1L207.2 488.1L208.7 488.1L210.1 488.1L211.5 488.1L213 488.1L214.4 488.1L215.8 488.1L217.2 488.1L218.7 488.1L220.1 488.1L221.5 488.1L223 488.1L224.4 488.1L225.8 488L227.2 488L228.7 488L230.1 488L231.5 488L233 488L234.4 488L235.8 488L237.3 488L238.7 488L240.1 488L241.5 488L243 488L244.4 488L245.8 488L247.3 488L248.7 488L250.1 488L251.5 487.9L253 487.9L254.4 487.9L255.8 487.9L257.3 487.9L258.7 487.8L260.1 487.8L261.5 487.8L263 487.7L264.4 487.7L265.8 487.6L267.3 487.6L268.7 487.5L270.1 487.5L271.6 487.4L273 487.3L274.4 487.2L275.8 487.1L277.3 487L278.7 486.8L280.1 486.7L281.6 486.5L283 486.3L284.4 486L285.8 485.8L287.3 485.5L288.7 485.2L290.1 484.8L291.6 484.4L293 483.9L294.4 483.3L295.8 482.7L297.3 482.1L298.7 481.3L300.1 480.4L301.6 479.4L303 478.4L304.4 477.1L305.9 475.7L307.3 474.2L308.7 472.5L310.1 470.5L311.6 468.3L313 465.9L314.4 463.2L315.9 460.2L317.3 456.8L318.7 453.1L320.1 448.9L321.6 444.4L323 439.3L324.4 433.8L325.9 427.7L327.3 421.1L328.7 413.9L330.2 406.1L331.6 397.7L333 388.6L334.4 379L335.9 368.8L337.3 358L338.7 346.6L340.2 334.8L341.6 322.6L343 310L344.4 297.1L345.9 284.1L347.3 271L348.7 258L350.2 245L351.6 232.2L353 219.8L354.4 207.7L355.9 196.1L357.3 185L358.7 174.4L360.2 164.4L361.6 155L363 146.2L364.5 138L365.9 130.5L367.3 123.5L368.7 117.1L370.2 111.3L371.6 106L373 101.1L374.5 96.7L375.9 92.8L377.3 89.2L378.7 86L380.2 83.1L381.6 80.5L383 78.1L384.5 76.1L385.9 74.2L387.3 72.5L388.7 71.1L390.2 69.7L391.6 68.6L393 67.5L394.5 66.6L395.9 65.8L397.3 65L398.8 64.4L400.2 63.8L401.6 63.3L403 62.8L404.5 62.4L405.9 62.1L407.3 61.8L408.8 61.5L410.2 61.2L411.6 61L413 60.8L414.5 60.6L415.9 60.5L417.3 60.4L418.8 60.2L420.2 60.1L421.6 60L423 60L424.5 59.9L425.9 59.8L427.3 59.8L428.8 59.7L430.2 59.7L431.6 59.6L433.1 59.6L434.5 59.6L435.9 59.5L437.3 59.5L438.8 59.5L440.2 59.5L441.6 59.4L443.1 59.4L444.5 59.4L445.9 59.4L447.3 59.4L448.8 59.4L450.2 59.4L451.6 59.4L453.1 59.4L454.5 59.4L455.9 59.4L457.3 59.3L458.8 59.3L460.2 59.3L461.6 59.3L463.1 59.3L464.5 59.3L465.9 59.3L467.4 59.3L468.8 59.3L470.2 59.3L471.6 59.3L473.1 59.3L474.5 59.3L475.9 59.3L477.4 59.3L478.8 59.3L480.2 59.3L481.6 59.3L483.1 59.3L484.5 59.3L485.9 59.3L487.4 59.3L488.8 59.3L490.2 59.3L491.6 59.3L493.1 59.3L494.5 59.3L495.9 59.3L497.4 59.3L498.8 59.3L500.2 59.3L501.7 59.3L503.1 59.3L504.5 59.3L505.9 59.3L507.4 59.3L508.8 59.3L510.2 59.3L511.7 59.3L513.1 59.3L514.5 59.3L515.9 59.3L517.4 59.3L518.8 59.3L520.2 59.3L521.7 59.3L523.1 59.3L524.5 59.3L526 59.3L527.4 59.3L528.8 59.3L530.2 59.3L531.7 59.3L533.1 59.3L534.5 59.3L536 59.3L537.4 59.3L538.8 59.3L540.2 59.3L541.7 59.3L543.1 59.3L544.5 59.3L546 59.3L547.4 59.3L548.8 59.3L550.2 59.3L551.7 59.3L553.1 59.3L554.5 59.3L556 59.3L557.4 59.3L558.8 59.3L560.3 59.3L561.7 59.3L563.1 59.3L564.5 59.3L566 59.3L567.4 59.3L568.8 59.3L570.3 59.3L571.7 59.3L573.1 59.3L574.5 59.3L576 59.3L577.4 59.3L578.8 59.3L580.3 59.3L581.7 59.3L583.1 59.3L584.5 59.3L586 59.3L587.4 59.3L588.8 59.3L590.3 59.3L591.7 59.3L593.1 59.3L594.6 59.3L596 59.3L597.4 59.3L598.8 59.3L600.3 59.3L601.7 59.3L603.1 59.3L604.6 59.3L606 59.3L607.4 59.3L608.8 59.3L610.3 59.3L611.7 59.3L613.1 59.3L614.6 59.3L616 59.3L617.4 59.3L618.8 59.3L620.3 59.3L621.7 59.3L623.1 59.3L624.6 59.3L626 59.3L627.4 59.3L628.9 59.3L630.3 59.3L631.7 59.3L633.1 59.3L634.6 59.3L636 59.3L637.4 59.3L638.9 59.3L640.3 59.3L641.7 59.3L643.1 59.3L644.6 59.3L646 59.3L647.4 59.3L648.9 59.3L650.3 59.3L651.7 59.3L653.1 59.3L654.6 59.3L656 59.3L657.4 59.3L658.9 59.3L660.3 59.3L661.7 59.3L663.2 59.3L664.6 59.3L666 59.3L667.4 59.3L668.9 59.3L670.3 59.3L671.7 59.3L673.2 59.3L674.6 59.3L676 59.3L677.4 59.3L678.9 59.3L680.3 59.3L681.7 59.3L683.2 59.3L684.6 59.3L686 59.3L687.5 59.3" stroke="#000" stroke-width="2.3" fill="none"/>
<text x="117.2" y="605.5" text-anchor="middle" class="t">0</text>
<text x="231.2" y="605.5" text-anchor="middle" class="t">0.2</text>
<text x="345.3" y="605.5" text-anchor="middle" class="t">0.4</text>
<text x="459.3" y="605.5" text-anchor="middle" class="t">0.6</text>
<text x="573.4" y="605.5" text-anchor="middle" class="t">0.8</text>
<text x="687.5" y="605.5" text-anchor="middle" class="t">1</text>
<text x="801.5" y="605.5" text-anchor="middle" class="t">1.2</text>
<text x="82.6" y="37.1" text-anchor="end" class="t">10</text><text x="82.8" y="21.9" class="e">-2</text>
<text x="82.6" y="152.6" text-anchor="end" class="t">10</text><text x="82.8" y="137.4" class="e">-3</text>
<text x="82.6" y="268" text-anchor="end" class="t">10</text><text x="82.8" y="252.8" class="e">-4</text>
<text x="82.6" y="383.5" text-anchor="end" class="t">10</text><text x="82.8" y="368.3" class="e">-5</text>
<text x="82.6" y="499" text-anchor="end" class="t">10</text><text x="82.8" y="483.8" class="e">-6</text>
<g transform="translate(27.8 291.7) rotate(-90)" class="yl"><text x="-55.5" y="0" font-style="italic" class="ns">y</text><text x="-40.3" y="3.5" class="par">(</text><text x="-29.6" y="0" textLength="30.5" lengthAdjust="spacingAndGlyphs" class="er">V</text><text x="-3" y="6.3" class="sub ns" font-style="italic" textLength="52" lengthAdjust="spacingAndGlyphs">p−p</text><text x="43.5" y="3.5" class="par">)</text></g>
<text x="752.5" y="67.4" text-anchor="middle" class="t pl">a</text>
<path d="M481.5 257.2l12.6 12.6m-12.6 0l12.6 -12.6" stroke="#808080" stroke-width="1.1" fill="none"/>
<path d="M459.4 299.5H516.4" stroke="#262626" stroke-width="1.45" fill="none"/>
<path d="M487.8 325.3l9 11.7l-9 11.7l-9 -11.7z" stroke="#f0f" stroke-width="1.2" fill="none"/>
<path d="M487.8 363.6l10.2 17h-20.4z" stroke="#00f" stroke-width="1.2" fill="none"/>
<path d="M459.4 410.4H514.2" stroke="#00f" stroke-width="1.3" stroke-dasharray="12.2 9" fill="none"/>
<circle cx="487.8" cy="447.8" r="8.8" stroke="#f00" stroke-width="1.2" fill="none"/>
<path d="M459.4 481.7H514.2" stroke="#f00" stroke-width="1.3" stroke-dasharray="12.2 9" fill="none"/>
<text x="529" y="274.2" class="lg">Reference data</text>
<text x="529" y="310.5" class="lg">Reference IO curve</text>
<text x="529" y="347.3" class="lg">Baseline sample</text>
<text x="529" y="384" class="lg">Uniform sample</text>
<text x="529" y="420.3" class="lg">Uniform sampling</text>
<text x="529" y="456.6" class="lg">Optimal sample</text>
<text x="529" y="493" class="lg">Optimal sampling</text>
<g class="cg">
<path d="M123.4 1163.8H801.5M123.4 1149.3H801.5M123.4 1138.1H801.5M123.4 1129H801.5M123.4 1121.3H801.5M123.4 1114.6H801.5M123.4 1108.7H801.5M123.4 1068.6H801.5M123.4 1048.3H801.5M123.4 1033.8H801.5M123.4 1022.6H801.5M123.4 1013.5H801.5M123.4 1005.8H801.5M123.4 999.1H801.5M123.4 993.2H801.5M123.4 953.1H801.5M123.4 932.8H801.5M123.4 918.3H801.5M123.4 907.2H801.5M123.4 898H801.5M123.4 890.3H801.5M123.4 883.6H801.5M123.4 877.7H801.5M123.4 837.6H801.5M123.4 817.3H801.5M123.4 802.9H801.5M123.4 791.7H801.5M123.4 782.5H801.5M123.4 774.8H801.5M123.4 768.1H801.5M123.4 762.2H801.5M123.4 722.1H801.5M123.4 701.8H801.5M123.4 687.4H801.5M123.4 676.2H801.5M123.4 667H801.5M123.4 659.3H801.5M123.4 652.6H801.5M123.4 646.7H801.5" stroke="#b4b4b4" stroke-width="1.25" stroke-dasharray="1.5 3.785" fill="none"/>
<path d="M231.2 641.4V1184.1M345.3 641.4V1184.1M459.3 641.4V1184.1M573.4 641.4V1184.1M687.5 641.4V1184.1M117.2 756.9H801.5M117.2 872.4H801.5M117.2 987.9H801.5M117.2 1103.4H801.5" stroke="#dfdfdf" stroke-width="1.1" fill="none"/>
<path d="M231.2 1184.1v-7M231.2 641.4v7M345.3 1184.1v-7M345.3 641.4v7M459.3 1184.1v-7M459.3 641.4v7M573.4 1184.1v-7M573.4 641.4v7M687.5 1184.1v-7M687.5 641.4v7M117.2 1163.8h3.6M801.5 1163.8h-3.6M117.2 1149.3h3.6M801.5 1149.3h-3.6M117.2 1138.1h3.6M801.5 1138.1h-3.6M117.2 1129h3.6M801.5 1129h-3.6M117.2 1121.3h3.6M801.5 1121.3h-3.6M117.2 1114.6h3.6M801.5 1114.6h-3.6M117.2 1108.7h3.6M801.5 1108.7h-3.6M117.2 1103.4h7M801.5 1103.4h-7M117.2 1068.6h3.6M801.5 1068.6h-3.6M117.2 1048.3h3.6M801.5 1048.3h-3.6M117.2 1033.8h3.6M801.5 1033.8h-3.6M117.2 1022.6h3.6M801.5 1022.6h-3.6M117.2 1013.5h3.6M801.5 1013.5h-3.6M117.2 1005.8h3.6M801.5 1005.8h-3.6M117.2 999.1h3.6M801.5 999.1h-3.6M117.2 993.2h3.6M801.5 993.2h-3.6M117.2 987.9h7M801.5 987.9h-7M117.2 953.1h3.6M801.5 953.1h-3.6M117.2 932.8h3.6M801.5 932.8h-3.6M117.2 918.3h3.6M801.5 918.3h-3.6M117.2 907.2h3.6M801.5 907.2h-3.6M117.2 898h3.6M801.5 898h-3.6M117.2 890.3h3.6M801.5 890.3h-3.6M117.2 883.6h3.6M801.5 883.6h-3.6M117.2 877.7h3.6M801.5 877.7h-3.6M117.2 872.4h7M801.5 872.4h-7M117.2 837.6h3.6M801.5 837.6h-3.6M117.2 817.3h3.6M801.5 817.3h-3.6M117.2 802.9h3.6M801.5 802.9h-3.6M117.2 791.7h3.6M801.5 791.7h-3.6M117.2 782.5h3.6M801.5 782.5h-3.6M117.2 774.8h3.6M801.5 774.8h-3.6M117.2 768.1h3.6M801.5 768.1h-3.6M117.2 762.2h3.6M801.5 762.2h-3.6M117.2 756.9h7M801.5 756.9h-7M117.2 722.1h3.6M801.5 722.1h-3.6M117.2 701.8h3.6M801.5 701.8h-3.6M117.2 687.4h3.6M801.5 687.4h-3.6M117.2 676.2h3.6M801.5 676.2h-3.6M117.2 667h3.6M801.5 667h-3.6M117.2 659.3h3.6M801.5 659.3h-3.6M117.2 652.6h3.6M801.5 652.6h-3.6M117.2 646.7h3.6M801.5 646.7h-3.6" stroke="#262626" stroke-width="1.25" fill="none"/>
<rect x="117.2" y="641.4" width="684.3" height="542.7" fill="none" stroke="#262626" stroke-width="1.35"/>
<path d="M117.2 1066.9l9 11.7l-9 11.7l-9 -11.7zM117.2 1071.3l9 11.7l-9 11.7l-9 -11.7zM117.2 1071.3l9 11.7l-9 11.7l-9 -11.7zM117.2 1071.3l9 11.7l-9 11.7l-9 -11.7zM117.2 1071.3l9 11.7l-9 11.7l-9 -11.7zM117.2 1071.3l9 11.7l-9 11.7l-9 -11.7zM117.2 1072.8l9 11.7l-9 11.7l-9 -11.7zM117.2 1073l9 11.7l-9 11.7l-9 -11.7zM117.2 1073.6l9 11.7l-9 11.7l-9 -11.7zM117.2 1074l9 11.7l-9 11.7l-9 -11.7zM117.2 1076.3l9 11.7l-9 11.7l-9 -11.7zM117.2 1078.4l9 11.7l-9 11.7l-9 -11.7zM117.2 1079.1l9 11.7l-9 11.7l-9 -11.7zM117.2 1079.8l9 11.7l-9 11.7l-9 -11.7zM117.2 1081.3l9 11.7l-9 11.7l-9 -11.7zM117.2 1081.3l9 11.7l-9 11.7l-9 -11.7zM117.2 1081.7l9 11.7l-9 11.7l-9 -11.7zM117.2 1082.6l9 11.7l-9 11.7l-9 -11.7zM117.2 1082.8l9 11.7l-9 11.7l-9 -11.7zM117.2 1082.8l9 11.7l-9 11.7l-9 -11.7zM117.2 1083.3l9 11.7l-9 11.7l-9 -11.7zM117.2 1083.4l9 11.7l-9 11.7l-9 -11.7zM117.2 1083.8l9 11.7l-9 11.7l-9 -11.7zM117.2 1084.9l9 11.7l-9 11.7l-9 -11.7zM117.2 1084.9l9 11.7l-9 11.7l-9 -11.7zM117.2 1084.9l9 11.7l-9 11.7l-9 -11.7zM117.2 1085l9 11.7l-9 11.7l-9 -11.7zM117.2 1085.1l9 11.7l-9 11.7l-9 -11.7zM117.2 1087l9 11.7l-9 11.7l-9 -11.7zM117.2 1087.4l9 11.7l-9 11.7l-9 -11.7zM117.2 1087.4l9 11.7l-9 11.7l-9 -11.7zM117.2 1087.5l9 11.7l-9 11.7l-9 -11.7zM117.2 1088.7l9 11.7l-9 11.7l-9 -11.7zM117.2 1088.8l9 11.7l-9 11.7l-9 -11.7zM117.2 1089.5l9 11.7l-9 11.7l-9 -11.7zM117.2 1090.5l9 11.7l-9 11.7l-9 -11.7zM117.2 1090.9l9 11.7l-9 11.7l-9 -11.7zM117.2 1091.1l9 11.7l-9 11.7l-9 -11.7zM117.2 1091.2l9 11.7l-9 11.7l-9 -11.7zM117.2 1091.5l9 11.7l-9 11.7l-9 -11.7zM117.2 1091.8l9 11.7l-9 11.7l-9 -11.7zM117.2 1092.1l9 11.7l-9 11.7l-9 -11.7zM117.2 1092.1l9 11.7l-9 11.7l-9 -11.7zM117.2 1092.5l9 11.7l-9 11.7l-9 -11.7zM117.2 1092.6l9 11.7l-9 11.7l-9 -11.7zM117.2 1092.7l9 11.7l-9 11.7l-9 -11.7zM117.2 1092.9l9 11.7l-9 11.7l-9 -11.7zM117.2 1093.9l9 11.7l-9 11.7l-9 -11.7zM117.2 1094.6l9 11.7l-9 11.7l-9 -11.7zM117.2 1095l9 11.7l-9 11.7l-9 -11.7zM117.2 1095.2l9 11.7l-9 11.7l-9 -11.7zM117.2 1095.6l9 11.7l-9 11.7l-9 -11.7zM117.2 1095.9l9 11.7l-9 11.7l-9 -11.7zM117.2 1096.1l9 11.7l-9 11.7l-9 -11.7zM117.2 1096.5l9 11.7l-9 11.7l-9 -11.7zM117.2 1097l9 11.7l-9 11.7l-9 -11.7zM117.2 1097.3l9 11.7l-9 11.7l-9 -11.7zM117.2 1097.8l9 11.7l-9 11.7l-9 -11.7zM117.2 1098.1l9 11.7l-9 11.7l-9 -11.7zM117.2 1098.2l9 11.7l-9 11.7l-9 -11.7zM117.2 1098.2l9 11.7l-9 11.7l-9 -11.7zM117.2 1098.3l9 11.7l-9 11.7l-9 -11.7zM117.2 1098.9l9 11.7l-9 11.7l-9 -11.7zM117.2 1099.1l9 11.7l-9 11.7l-9 -11.7zM117.2 1099.6l9 11.7l-9 11.7l-9 -11.7zM117.2 1099.8l9 11.7l-9 11.7l-9 -11.7zM117.2 1099.9l9 11.7l-9 11.7l-9 -11.7zM117.2 1101.7l9 11.7l-9 11.7l-9 -11.7zM117.2 1102.2l9 11.7l-9 11.7l-9 -11.7zM117.2 1102.3l9 11.7l-9 11.7l-9 -11.7zM117.2 1102.4l9 11.7l-9 11.7l-9 -11.7zM117.2 1102.4l9 11.7l-9 11.7l-9 -11.7zM117.2 1102.8l9 11.7l-9 11.7l-9 -11.7zM117.2 1102.8l9 11.7l-9 11.7l-9 -11.7zM117.2 1102.9l9 11.7l-9 11.7l-9 -11.7zM117.2 1102.9l9 11.7l-9 11.7l-9 -11.7zM117.2 1103.6l9 11.7l-9 11.7l-9 -11.7zM117.2 1104l9 11.7l-9 11.7l-9 -11.7zM117.2 1104.3l9 11.7l-9 11.7l-9 -11.7zM117.2 1104.4l9 11.7l-9 11.7l-9 -11.7zM117.2 1104.5l9 11.7l-9 11.7l-9 -11.7zM117.2 1104.9l9 11.7l-9 11.7l-9 -11.7zM117.2 1105l9 11.7l-9 11.7l-9 -11.7zM117.2 1105.1l9 11.7l-9 11.7l-9 -11.7zM117.2 1105.1l9 11.7l-9 11.7l-9 -11.7zM117.2 1105.1l9 11.7l-9 11.7l-9 -11.7zM117.2 1105.1l9 11.7l-9 11.7l-9 -11.7zM117.2 1105.3l9 11.7l-9 11.7l-9 -11.7zM117.2 1105.9l9 11.7l-9 11.7l-9 -11.7zM117.2 1106.8l9 11.7l-9 11.7l-9 -11.7zM117.2 1108.3l9 11.7l-9 11.7l-9 -11.7zM117.2 1108.6l9 11.7l-9 11.7l-9 -11.7zM117.2 1109.2l9 11.7l-9 11.7l-9 -11.7zM117.2 1109.8l9 11.7l-9 11.7l-9 -11.7zM117.2 1110.1l9 11.7l-9 11.7l-9 -11.7zM117.2 1110.3l9 11.7l-9 11.7l-9 -11.7zM117.2 1110.6l9 11.7l-9 11.7l-9 -11.7zM117.2 1111.1l9 11.7l-9 11.7l-9 -11.7zM117.2 1113.1l9 11.7l-9 11.7l-9 -11.7zM117.2 1113.1l9 11.7l-9 11.7l-9 -11.7zM117.2 1113.6l9 11.7l-9 11.7l-9 -11.7zM117.2 1113.6l9 11.7l-9 11.7l-9 -11.7zM117.2 1114.8l9 11.7l-9 11.7l-9 -11.7zM117.2 1114.8l9 11.7l-9 11.7l-9 -11.7zM117.2 1116l9 11.7l-9 11.7l-9 -11.7zM117.2 1117.2l9 11.7l-9 11.7l-9 -11.7zM117.2 1118.2l9 11.7l-9 11.7l-9 -11.7zM117.2 1119.3l9 11.7l-9 11.7l-9 -11.7zM117.2 1119.3l9 11.7l-9 11.7l-9 -11.7zM117.2 1123.7l9 11.7l-9 11.7l-9 -11.7z" stroke="#f0f" stroke-width="1.3" fill="none"/>
<path d="M117.2 1109.1L118.6 1109.1L120.1 1109.1L121.5 1109.1L122.9 1109.1L124.3 1109.1L125.8 1109.1L127.2 1109.1L128.6 1109.1L130.1 1109.1L131.5 1109.1L132.9 1109.1L134.4 1109.1L135.8 1109.1L137.2 1109.1L138.6 1109.1L140.1 1109.1L141.5 1109.1L142.9 1109.1L144.4 1109.1L145.8 1109.1L147.2 1109.1L148.6 1109.1L150.1 1109.1L151.5 1109.1L152.9 1109.1L154.4 1109.1L155.8 1109.1L157.2 1109.1L158.6 1109.1L160.1 1109.1L161.5 1109.1L162.9 1109.1L164.4 1109.1L165.8 1109.1L167.2 1109.1L168.7 1109.1L170.1 1109.1L171.5 1109.1L172.9 1109.1L174.4 1109.1L175.8 1109.1L177.2 1109.1L178.7 1109.1L180.1 1109.1L181.5 1109.1L182.9 1109.1L184.4 1109.1L185.8 1109.1L187.2 1109.1L188.7 1109.1L190.1 1109.1L191.5 1109.1L192.9 1109.1L194.4 1109.1L195.8 1109.1L197.2 1109.1L198.7 1109.1L200.1 1109.1L201.5 1109.1L203 1109.1L204.4 1109.1L205.8 1109.1L207.2 1109.1L208.7 1109.1L210.1 1109.1L211.5 1109.1L213 1109.1L214.4 1109.1L215.8 1109.1L217.2 1109.1L218.7 1109.1L220.1 1109.1L221.5 1109.1L223 1109.1L224.4 1109.1L225.8 1109.1L227.2 1109.1L228.7 1109.1L230.1 1109.1L231.5 1109.1L233 1109.1L234.4 1109.1L235.8 1109.1L237.3 1109.1L238.7 1109.1L240.1 1109.1L241.5 1109.1L243 1109.1L244.4 1109.1L245.8 1109.1L247.3 1109.1L248.7 1109.1L250.1 1109L251.5 1109L253 1109L254.4 1109L255.8 1109L257.3 1108.9L258.7 1108.9L260.1 1108.9L261.5 1108.9L263 1108.8L264.4 1108.8L265.8 1108.7L267.3 1108.7L268.7 1108.6L270.1 1108.6L271.6 1108.5L273 1108.4L274.4 1108.3L275.8 1108.2L277.3 1108.1L278.7 1107.9L280.1 1107.7L281.6 1107.6L283 1107.4L284.4 1107.1L285.8 1106.9L287.3 1106.6L288.7 1106.2L290.1 1105.9L291.6 1105.4L293 1105L294.4 1104.4L295.8 1103.8L297.3 1103.1L298.7 1102.4L300.1 1101.5L301.6 1100.5L303 1099.4L304.4 1098.2L305.9 1096.8L307.3 1095.3L308.7 1093.5L310.1 1091.6L311.6 1089.4L313 1087L314.4 1084.3L315.9 1081.2L317.3 1077.9L318.7 1074.1L320.1 1070L321.6 1065.4L323 1060.4L324.4 1054.9L325.9 1048.8L327.3 1042.2L328.7 1035L330.2 1027.2L331.6 1018.7L333 1009.7L334.4 1000.1L335.9 989.8L337.3 979L338.7 967.7L340.2 955.9L341.6 943.6L343 931L344.4 918.2L345.9 905.2L347.3 892.1L348.7 879L350.2 866L351.6 853.3L353 840.8L354.4 828.8L355.9 817.1L357.3 806L358.7 795.4L360.2 785.4L361.6 776L363 767.2L364.5 759.1L365.9 751.5L367.3 744.5L368.7 738.2L370.2 732.3L371.6 727L373 722.1L374.5 717.7L375.9 713.8L377.3 710.2L378.7 707L380.2 704.1L381.6 701.5L383 699.1L384.5 697.1L385.9 695.2L387.3 693.5L388.7 692.1L390.2 690.7L391.6 689.6L393 688.5L394.5 687.6L395.9 686.8L397.3 686L398.8 685.4L400.2 684.8L401.6 684.3L403 683.8L404.5 683.4L405.9 683.1L407.3 682.8L408.8 682.5L410.2 682.2L411.6 682L413 681.8L414.5 681.7L415.9 681.5L417.3 681.4L418.8 681.2L420.2 681.1L421.6 681L423 681L424.5 680.9L425.9 680.8L427.3 680.8L428.8 680.7L430.2 680.7L431.6 680.6L433.1 680.6L434.5 680.6L435.9 680.5L437.3 680.5L438.8 680.5L440.2 680.5L441.6 680.5L443.1 680.4L444.5 680.4L445.9 680.4L447.3 680.4L448.8 680.4L450.2 680.4L451.6 680.4L453.1 680.4L454.5 680.4L455.9 680.4L457.3 680.4L458.8 680.4L460.2 680.3L461.6 680.3L463.1 680.3L464.5 680.3L465.9 680.3L467.4 680.3L468.8 680.3L470.2 680.3L471.6 680.3L473.1 680.3L474.5 680.3L475.9 680.3L477.4 680.3L478.8 680.3L480.2 680.3L481.6 680.3L483.1 680.3L484.5 680.3L485.9 680.3L487.4 680.3L488.8 680.3L490.2 680.3L491.6 680.3L493.1 680.3L494.5 680.3L495.9 680.3L497.4 680.3L498.8 680.3L500.2 680.3L501.7 680.3L503.1 680.3L504.5 680.3L505.9 680.3L507.4 680.3L508.8 680.3L510.2 680.3L511.7 680.3L513.1 680.3L514.5 680.3L515.9 680.3L517.4 680.3L518.8 680.3L520.2 680.3L521.7 680.3L523.1 680.3L524.5 680.3L526 680.3L527.4 680.3L528.8 680.3L530.2 680.3L531.7 680.3L533.1 680.3L534.5 680.3L536 680.3L537.4 680.3L538.8 680.3L540.2 680.3L541.7 680.3L543.1 680.3L544.5 680.3L546 680.3L547.4 680.3L548.8 680.3L550.2 680.3L551.7 680.3L553.1 680.3L554.5 680.3L556 680.3L557.4 680.3L558.8 680.3L560.3 680.3L561.7 680.3L563.1 680.3L564.5 680.3L566 680.3L567.4 680.3L568.8 680.3L570.3 680.3L571.7 680.3L573.1 680.3L574.5 680.3L576 680.3L577.4 680.3L578.8 680.3L580.3 680.3L581.7 680.3L583.1 680.3L584.5 680.3L586 680.3L587.4 680.3L588.8 680.3L590.3 680.3L591.7 680.3L593.1 680.3L594.6 680.3L596 680.3L597.4 680.3L598.8 680.3L600.3 680.3L601.7 680.3L603.1 680.3L604.6 680.3L606 680.3L607.4 680.3L608.8 680.3L610.3 680.3L611.7 680.3L613.1 680.3L614.6 680.3L616 680.3L617.4 680.3L618.8 680.3L620.3 680.3L621.7 680.3L623.1 680.3L624.6 680.3L626 680.3L627.4 680.3L628.9 680.3L630.3 680.3L631.7 680.3L633.1 680.3L634.6 680.3L636 680.3L637.4 680.3L638.9 680.3L640.3 680.3L641.7 680.3L643.1 680.3L644.6 680.3L646 680.3L647.4 680.3L648.9 680.3L650.3 680.3L651.7 680.3L653.1 680.3L654.6 680.3L656 680.3L657.4 680.3L658.9 680.3L660.3 680.3L661.7 680.3L663.2 680.3L664.6 680.3L666 680.3L667.4 680.3L668.9 680.3L670.3 680.3L671.7 680.3L673.2 680.3L674.6 680.3L676 680.3L677.4 680.3L678.9 680.3L680.3 680.3L681.7 680.3L683.2 680.3L684.6 680.3L686 680.3L687.5 680.3" stroke="#000" stroke-width="1.2" fill="none"/>
<circle cx="128.8" cy="1111.8" r="8.3"/>
<circle cx="184.8" cy="1123.9" r="8.3"/>
<circle cx="212.1" cy="1119.4" r="8.3"/>
<circle cx="271.2" cy="1060.3" r="8.3"/>
<circle cx="283.3" cy="1108.2" r="8.3"/>
<circle cx="445.9" cy="676.5" r="8.3"/>
<circle cx="584" cy="689" r="8.3"/>
<circle cx="687.5" cy="654.7" r="8.3"/>
<circle cx="687.5" cy="660.3" r="8.3"/>
<circle cx="687.5" cy="666" r="8.3"/>
<circle cx="687.5" cy="669.7" r="8.3"/>
<circle cx="687.5" cy="672.9" r="8.3"/>
<circle cx="687.5" cy="676.5" r="8.3"/>
<circle cx="687.5" cy="680.8" r="8.3"/>
<circle cx="687.5" cy="685.6" r="8.3"/>
<circle cx="687.5" cy="689" r="8.3"/>
<circle cx="687.5" cy="694" r="8.3"/>
<circle cx="687.5" cy="700.9" r="8.3"/>
<circle cx="347.9" cy="673.2" r="8.3"/>
<circle cx="358.1" cy="667.2" r="8.3"/>
<circle cx="360" cy="678.6" r="8.3"/>
<circle cx="355.2" cy="685.8" r="8.3"/>
<circle cx="362.4" cy="683.4" r="8.3"/>
<circle cx="364.1" cy="694.8" r="8.3"/>
<circle cx="364.1" cy="730.2" r="8.3"/>
<circle cx="362.4" cy="747.7" r="8.3"/>
<circle cx="352.2" cy="754.5" r="8.3"/>
<circle cx="333.3" cy="765.8" r="8.3"/>
<circle cx="329.7" cy="770.7" r="8.3"/>
<circle cx="334.5" cy="805.8" r="8.3"/>
<circle cx="360" cy="796.2" r="8.3"/>
<circle cx="359.3" cy="804.6" r="8.3"/>
<circle cx="333.8" cy="819.9" r="8.3"/>
<circle cx="346.7" cy="824.8" r="8.3"/>
<circle cx="355.9" cy="820.9" r="8.3"/>
<circle cx="357.6" cy="825.2" r="8.3"/>
<circle cx="332.1" cy="851.4" r="8.3"/>
<circle cx="353.9" cy="847.3" r="8.3"/>
<circle cx="361.2" cy="852.1" r="8.3"/>
<circle cx="349.6" cy="856.2" r="8.3"/>
<circle cx="335.3" cy="866.7" r="8.3"/>
<circle cx="355.9" cy="865.5" r="8.3"/>
<circle cx="364.1" cy="867.4" r="8.3"/>
<circle cx="348.6" cy="889.7" r="8.3"/>
<circle cx="345" cy="900.1" r="8.3"/>
<circle cx="324.8" cy="919.5" r="8.3"/>
<circle cx="362.9" cy="937.7" r="8.3"/>
<circle cx="360.5" cy="977.5" r="8.3"/>
<circle cx="326.1" cy="983" r="8.3"/>
<circle cx="333.8" cy="986.7" r="8.3"/>
<circle cx="334.5" cy="998.8" r="8.3"/>
<circle cx="330.2" cy="1026.7" r="8.3"/>
<circle cx="335" cy="1025.5" r="8.3"/>
<circle cx="360" cy="1031.5" r="8.3"/>
<circle cx="359.5" cy="1038.1" r="8.3"/>
<circle cx="330.2" cy="1050.9" r="8.3"/>
<circle cx="334.5" cy="1049.7" r="8.3"/>
<circle cx="352" cy="1052.8" r="8.3"/>
<circle cx="364.1" cy="1051.6" r="8.3"/>
<circle cx="330.2" cy="1072" r="8.3"/>
<circle cx="334.5" cy="1072.7" r="8.3"/>
<circle cx="358.8" cy="1076.8" r="8.3"/>
<circle cx="364.8" cy="1080.5" r="8.3"/>
<circle cx="317.1" cy="1082.4" r="8.3"/>
<circle cx="333.8" cy="1082.4" r="8.3"/>
<circle cx="335.8" cy="1086.1" r="8.3"/>
<circle cx="335.8" cy="1097" r="8.3"/>
<circle cx="327.8" cy="1112.2" r="8.3"/>
<circle cx="335" cy="1113.9" r="8.3"/>
<circle cx="323.2" cy="1120" r="8.3"/>
<path d="M117.2 1110.3L118.6 1110.3L120.1 1110.3L121.5 1110.3L122.9 1110.3L124.3 1110.3L125.8 1110.3L127.2 1110.3L128.6 1110.3L130.1 1110.3L131.5 1110.3L132.9 1110.3L134.4 1110.3L135.8 1110.3L137.2 1110.3L138.6 1110.3L140.1 1110.3L141.5 1110.3L142.9 1110.3L144.4 1110.3L145.8 1110.3L147.2 1110.3L148.6 1110.3L150.1 1110.3L151.5 1110.3L152.9 1110.3L154.4 1110.3L155.8 1110.3L157.2 1110.3L158.6 1110.3L160.1 1110.3L161.5 1110.3L162.9 1110.3L164.4 1110.3L165.8 1110.3L167.2 1110.3L168.7 1110.3L170.1 1110.3L171.5 1110.3L172.9 1110.3L174.4 1110.3L175.8 1110.3L177.2 1110.3L178.7 1110.3L180.1 1110.3L181.5 1110.3L182.9 1110.3L184.4 1110.3L185.8 1110.3L187.2 1110.3L188.7 1110.3L190.1 1110.3L191.5 1110.3L192.9 1110.3L194.4 1110.3L195.8 1110.3L197.2 1110.3L198.7 1110.3L200.1 1110.3L201.5 1110.3L203 1110.3L204.4 1110.3L205.8 1110.3L207.2 1110.3L208.7 1110.3L210.1 1110.3L211.5 1110.3L213 1110.3L214.4 1110.3L215.8 1110.3L217.2 1110.3L218.7 1110.3L220.1 1110.3L221.5 1110.3L223 1110.3L224.4 1110.3L225.8 1110.3L227.2 1110.3L228.7 1110.3L230.1 1110.3L231.5 1110.3L233 1110.3L234.4 1110.3L235.8 1110.3L237.3 1110.3L238.7 1110.3L240.1 1110.3L241.5 1110.3L243 1110.2L244.4 1110.2L245.8 1110.2L247.3 1110.2L248.7 1110.2L250.1 1110.2L251.5 1110.2L253 1110.2L254.4 1110.2L255.8 1110.1L257.3 1110.1L258.7 1110.1L260.1 1110.1L261.5 1110L263 1110L264.4 1109.9L265.8 1109.9L267.3 1109.8L268.7 1109.8L270.1 1109.7L271.6 1109.6L273 1109.6L274.4 1109.5L275.8 1109.4L277.3 1109.2L278.7 1109.1L280.1 1108.9L281.6 1108.8L283 1108.6L284.4 1108.3L285.8 1108.1L287.3 1107.8L288.7 1107.5L290.1 1107.1L291.6 1106.7L293 1106.2L294.4 1105.7L295.8 1105.1L297.3 1104.4L298.7 1103.7L300.1 1102.8L301.6 1101.9L303 1100.8L304.4 1099.6L305.9 1098.2L307.3 1096.7L308.7 1095L310.1 1093.1L311.6 1090.9L313 1088.5L314.4 1085.9L315.9 1082.9L317.3 1079.6L318.7 1075.9L320.1 1071.8L321.6 1067.3L323 1062.4L324.4 1056.9L325.9 1050.9L327.3 1044.4L328.7 1037.3L330.2 1029.6L331.6 1021.2L333 1012.3L334.4 1002.7L335.9 992.5L337.3 981.8L338.7 970.5L340.2 958.7L341.6 946.5L343 933.9L344.4 921.1L345.9 908L347.3 894.9L348.7 881.7L350.2 868.7L351.6 855.8L353 843.2L354.4 831L355.9 819.2L357.3 807.9L358.7 797.2L360.2 787L361.6 777.5L363 768.5L364.5 760.2L365.9 752.5L367.3 745.4L368.7 738.8L370.2 732.9L371.6 727.4L373 722.4L374.5 717.9L375.9 713.9L377.3 710.2L378.7 706.9L380.2 703.9L381.6 701.3L383 698.9L384.5 696.7L385.9 694.8L387.3 693.1L388.7 691.6L390.2 690.2L391.6 689L393 688L394.5 687L395.9 686.2L397.3 685.4L398.8 684.7L400.2 684.1L401.6 683.6L403 683.1L404.5 682.7L405.9 682.4L407.3 682L408.8 681.7L410.2 681.5L411.6 681.3L413 681.1L414.5 680.9L415.9 680.7L417.3 680.6L418.8 680.5L420.2 680.4L421.6 680.3L423 680.2L424.5 680.1L425.9 680L427.3 680L428.8 679.9L430.2 679.9L431.6 679.8L433.1 679.8L434.5 679.8L435.9 679.7L437.3 679.7L438.8 679.7L440.2 679.7L441.6 679.6L443.1 679.6L444.5 679.6L445.9 679.6L447.3 679.6L448.8 679.6L450.2 679.6L451.6 679.6L453.1 679.6L454.5 679.6L455.9 679.6L457.3 679.5L458.8 679.5L460.2 679.5L461.6 679.5L463.1 679.5L464.5 679.5L465.9 679.5L467.4 679.5L468.8 679.5L470.2 679.5L471.6 679.5L473.1 679.5L474.5 679.5L475.9 679.5L477.4 679.5L478.8 679.5L480.2 679.5L481.6 679.5L483.1 679.5L484.5 679.5L485.9 679.5L487.4 679.5L488.8 679.5L490.2 679.5L491.6 679.5L493.1 679.5L494.5 679.5L495.9 679.5L497.4 679.5L498.8 679.5L500.2 679.5L501.7 679.5L503.1 679.5L504.5 679.5L505.9 679.5L507.4 679.5L508.8 679.5L510.2 679.5L511.7 679.5L513.1 679.5L514.5 679.5L515.9 679.5L517.4 679.5L518.8 679.5L520.2 679.5L521.7 679.5L523.1 679.5L524.5 679.5L526 679.5L527.4 679.5L528.8 679.5L530.2 679.5L531.7 679.5L533.1 679.5L534.5 679.5L536 679.5L537.4 679.5L538.8 679.5L540.2 679.5L541.7 679.5L543.1 679.5L544.5 679.5L546 679.5L547.4 679.5L548.8 679.5L550.2 679.5L551.7 679.5L553.1 679.5L554.5 679.5L556 679.5L557.4 679.5L558.8 679.5L560.3 679.5L561.7 679.5L563.1 679.5L564.5 679.5L566 679.5L567.4 679.5L568.8 679.5L570.3 679.5L571.7 679.5L573.1 679.5L574.5 679.5L576 679.5L577.4 679.5L578.8 679.5L580.3 679.5L581.7 679.5L583.1 679.5L584.5 679.5L586 679.5L587.4 679.5L588.8 679.5L590.3 679.5L591.7 679.5L593.1 679.5L594.6 679.5L596 679.5L597.4 679.5L598.8 679.5L600.3 679.5L601.7 679.5L603.1 679.5L604.6 679.5L606 679.5L607.4 679.5L608.8 679.5L610.3 679.5L611.7 679.5L613.1 679.5L614.6 679.5L616 679.5L617.4 679.5L618.8 679.5L620.3 679.5L621.7 679.5L623.1 679.5L624.6 679.5L626 679.5L627.4 679.5L628.9 679.5L630.3 679.5L631.7 679.5L633.1 679.5L634.6 679.5L636 679.5L637.4 679.5L638.9 679.5L640.3 679.5L641.7 679.5L643.1 679.5L644.6 679.5L646 679.5L647.4 679.5L648.9 679.5L650.3 679.5L651.7 679.5L653.1 679.5L654.6 679.5L656 679.5L657.4 679.5L658.9 679.5L660.3 679.5L661.7 679.5L663.2 679.5L664.6 679.5L666 679.5L667.4 679.5L668.9 679.5L670.3 679.5L671.7 679.5L673.2 679.5L674.6 679.5L676 679.5L677.4 679.5L678.9 679.5L680.3 679.5L681.7 679.5L683.2 679.5L684.6 679.5L686 679.5L687.5 679.5" stroke="#f00" stroke-width="2.2" stroke-dasharray="12.3 8.8" fill="none"/>
<path d="M121.8 1107.3l7.6 12.6h-15.2zM129.7 1117.9l7.6 12.6h-15.2zM137 1096.1l7.6 12.6h-15.2zM143.9 1103.4l7.6 12.6h-15.2zM150 1111.3l7.6 12.6h-15.2zM157 1100.4l7.6 12.6h-15.2zM164.2 1113.4l7.6 12.6h-15.2zM171.8 1092.2l7.6 12.6h-15.2zM179.4 1098.3l7.6 12.6h-15.2zM186.4 1090.1l7.6 12.6h-15.2zM193 1082.2l7.6 12.6h-15.2zM199.4 1105.8l7.6 12.6h-15.2zM206.1 1096.7l7.6 12.6h-15.2zM213.6 1069.5l7.6 12.6h-15.2zM220.3 1097.3l7.6 12.6h-15.2zM227.3 1074.9l7.6 12.6h-15.2zM234.2 1100.4l7.6 12.6h-15.2zM241.5 1093.7l7.6 12.6h-15.2zM248.5 1090.7l7.6 12.6h-15.2zM255.5 1120.4l7.6 12.6h-15.2zM262.1 1095.2l7.6 12.6h-15.2zM268.2 1100.4l7.6 12.6h-15.2zM275.8 1093.7l7.6 12.6h-15.2zM282.7 1089.2l7.6 12.6h-15.2zM290 1089.2l7.6 12.6h-15.2zM297 1102.2l7.6 12.6h-15.2zM304.5 1089.2l7.6 12.6h-15.2zM317.6 1089.2l7.6 12.6h-15.2zM344.8 1098.3l7.6 12.6h-15.2zM401.3 676.8l7.6 12.6h-15.2zM408.5 723.4l7.6 12.6h-15.2zM415.5 678.1l7.6 12.6h-15.2zM422.7 691.4l7.6 12.6h-15.2zM429.3 668.8l7.6 12.6h-15.2zM436.5 676.8l7.6 12.6h-15.2zM443.2 654.9l7.6 12.6h-15.2zM450.1 690.6l7.6 12.6h-15.2zM457.3 690.6l7.6 12.6h-15.2zM464 666.1l7.6 12.6h-15.2zM471.2 662.6l7.6 12.6h-15.2zM477.9 668.8l7.6 12.6h-15.2zM485.3 680l7.6 12.6h-15.2zM492 675.4l7.6 12.6h-15.2zM499.2 676.8l7.6 12.6h-15.2zM506.1 684l7.6 12.6h-15.2zM513.3 672.8l7.6 12.6h-15.2zM520 676.8l7.6 12.6h-15.2zM527.2 690.1l7.6 12.6h-15.2zM534.1 700.8l7.6 12.6h-15.2zM540.8 650.1l7.6 12.6h-15.2zM548 690.1l7.6 12.6h-15.2zM554.7 656.8l7.6 12.6h-15.2zM561.9 699.4l7.6 12.6h-15.2zM568.5 676.8l7.6 12.6h-15.2zM575.5 666.6l7.6 12.6h-15.2zM582.7 667.4l7.6 12.6h-15.2zM589.9 663.4l7.6 12.6h-15.2zM596.8 664l7.6 12.6h-15.2zM604 676.8l7.6 12.6h-15.2zM610.7 675.4l7.6 12.6h-15.2zM617.3 660.8l7.6 12.6h-15.2zM625.3 659.4l7.6 12.6h-15.2zM631.5 676.8l7.6 12.6h-15.2zM637.3 680l7.6 12.6h-15.2zM645.3 664l7.6 12.6h-15.2zM652 666.1l7.6 12.6h-15.2zM658.7 669.3l7.6 12.6h-15.2zM665.9 683.4l7.6 12.6h-15.2zM672.5 675.4l7.6 12.6h-15.2zM679.5 690.1l7.6 12.6h-15.2zM687.2 694.1l7.6 12.6h-15.2zM338.9 789.3l7.6 12.6h-15.2zM360 787.6l7.6 12.6h-15.2zM372.1 685.5l7.6 12.6h-15.2zM379.4 686.2l7.6 12.6h-15.2zM387.9 697.6l7.6 12.6h-15.2zM393.9 672.2l7.6 12.6h-15.2zM366.8 875l7.6 12.6h-15.2zM310.8 907l7.6 12.6h-15.2zM331.6 974.9l7.6 12.6h-15.2zM352.7 979.3l7.6 12.6h-15.2zM324.8 989.5l7.6 12.6h-15.2z" stroke="#00f" stroke-width="1.4" fill="none" stroke-linejoin="miter"/>
<path d="M117.2 1106.8L118.6 1106.8L120.1 1106.8L121.5 1106.8L122.9 1106.8L124.3 1106.8L125.8 1106.8L127.2 1106.8L128.6 1106.8L130.1 1106.8L131.5 1106.8L132.9 1106.8L134.4 1106.8L135.8 1106.8L137.2 1106.8L138.6 1106.8L140.1 1106.8L141.5 1106.8L142.9 1106.8L144.4 1106.8L145.8 1106.8L147.2 1106.8L148.6 1106.8L150.1 1106.8L151.5 1106.8L152.9 1106.8L154.4 1106.8L155.8 1106.8L157.2 1106.8L158.6 1106.8L160.1 1106.8L161.5 1106.8L162.9 1106.8L164.4 1106.8L165.8 1106.8L167.2 1106.8L168.7 1106.8L170.1 1106.8L171.5 1106.8L172.9 1106.8L174.4 1106.8L175.8 1106.8L177.2 1106.8L178.7 1106.8L180.1 1106.8L181.5 1106.8L182.9 1106.8L184.4 1106.8L185.8 1106.8L187.2 1106.8L188.7 1106.8L190.1 1106.8L191.5 1106.8L192.9 1106.8L194.4 1106.8L195.8 1106.8L197.2 1106.8L198.7 1106.8L200.1 1106.8L201.5 1106.8L203 1106.8L204.4 1106.8L205.8 1106.8L207.2 1106.8L208.7 1106.8L210.1 1106.8L211.5 1106.8L213 1106.8L214.4 1106.8L215.8 1106.8L217.2 1106.8L218.7 1106.8L220.1 1106.8L221.5 1106.8L223 1106.8L224.4 1106.8L225.8 1106.8L227.2 1106.8L228.7 1106.7L230.1 1106.7L231.5 1106.7L233 1106.7L234.4 1106.7L235.8 1106.7L237.3 1106.7L238.7 1106.6L240.1 1106.6L241.5 1106.6L243 1106.6L244.4 1106.5L245.8 1106.5L247.3 1106.5L248.7 1106.4L250.1 1106.4L251.5 1106.3L253 1106.3L254.4 1106.2L255.8 1106.2L257.3 1106.1L258.7 1106L260.1 1105.9L261.5 1105.8L263 1105.7L264.4 1105.6L265.8 1105.4L267.3 1105.3L268.7 1105.1L270.1 1104.9L271.6 1104.7L273 1104.5L274.4 1104.3L275.8 1104L277.3 1103.7L278.7 1103.3L280.1 1102.9L281.6 1102.5L283 1102.1L284.4 1101.5L285.8 1101L287.3 1100.3L288.7 1099.7L290.1 1098.9L291.6 1098L293 1097.1L294.4 1096.1L295.8 1094.9L297.3 1093.7L298.7 1092.3L300.1 1090.7L301.6 1089.1L303 1087.2L304.4 1085.2L305.9 1082.9L307.3 1080.5L308.7 1077.8L310.1 1074.9L311.6 1071.7L313 1068.2L314.4 1064.4L315.9 1060.3L317.3 1055.8L318.7 1051L320.1 1045.8L321.6 1040.2L323 1034.1L324.4 1027.7L325.9 1020.8L327.3 1013.5L328.7 1005.7L330.2 997.5L331.6 988.9L333 979.9L334.4 970.5L335.9 960.8L337.3 950.7L338.7 940.4L340.2 929.8L341.6 919L343 908.2L344.4 897.2L345.9 886.2L347.3 875.3L348.7 864.5L350.2 853.9L351.6 843.4L353 833.2L354.4 823.3L355.9 813.8L357.3 804.6L358.7 795.9L360.2 787.5L361.6 779.6L363 772.1L364.5 765L365.9 758.4L367.3 752.2L368.7 746.4L370.2 741.1L371.6 736.1L373 731.5L374.5 727.2L375.9 723.3L377.3 719.7L378.7 716.4L380.2 713.3L381.6 710.5L383 708L384.5 705.7L385.9 703.6L387.3 701.7L388.7 699.9L390.2 698.3L391.6 696.9L393 695.6L394.5 694.4L395.9 693.3L397.3 692.3L398.8 691.4L400.2 690.6L401.6 689.9L403 689.3L404.5 688.7L405.9 688.1L407.3 687.6L408.8 687.2L410.2 686.8L411.6 686.5L413 686.1L414.5 685.8L415.9 685.6L417.3 685.3L418.8 685.1L420.2 684.9L421.6 684.8L423 684.6L424.5 684.5L425.9 684.3L427.3 684.2L428.8 684.1L430.2 684L431.6 683.9L433.1 683.9L434.5 683.8L435.9 683.7L437.3 683.7L438.8 683.6L440.2 683.6L441.6 683.5L443.1 683.5L444.5 683.5L445.9 683.4L447.3 683.4L448.8 683.4L450.2 683.4L451.6 683.3L453.1 683.3L454.5 683.3L455.9 683.3L457.3 683.3L458.8 683.3L460.2 683.3L461.6 683.2L463.1 683.2L464.5 683.2L465.9 683.2L467.4 683.2L468.8 683.2L470.2 683.2L471.6 683.2L473.1 683.2L474.5 683.2L475.9 683.2L477.4 683.2L478.8 683.2L480.2 683.2L481.6 683.2L483.1 683.2L484.5 683.2L485.9 683.2L487.4 683.2L488.8 683.2L490.2 683.2L491.6 683.2L493.1 683.2L494.5 683.2L495.9 683.2L497.4 683.2L498.8 683.2L500.2 683.2L501.7 683.2L503.1 683.2L504.5 683.2L505.9 683.2L507.4 683.2L508.8 683.2L510.2 683.2L511.7 683.2L513.1 683.2L514.5 683.2L515.9 683.2L517.4 683.2L518.8 683.2L520.2 683.2L521.7 683.2L523.1 683.2L524.5 683.2L526 683.2L527.4 683.2L528.8 683.2L530.2 683.2L531.7 683.2L533.1 683.2L534.5 683.2L536 683.2L537.4 683.2L538.8 683.2L540.2 683.2L541.7 683.2L543.1 683.2L544.5 683.2L546 683.2L547.4 683.2L548.8 683.2L550.2 683.2L551.7 683.2L553.1 683.2L554.5 683.2L556 683.2L557.4 683.2L558.8 683.2L560.3 683.2L561.7 683.2L563.1 683.2L564.5 683.2L566 683.2L567.4 683.2L568.8 683.2L570.3 683.2L571.7 683.2L573.1 683.2L574.5 683.2L576 683.2L577.4 683.2L578.8 683.2L580.3 683.2L581.7 683.2L583.1 683.2L584.5 683.2L586 683.2L587.4 683.2L588.8 683.2L590.3 683.2L591.7 683.2L593.1 683.2L594.6 683.2L596 683.2L597.4 683.2L598.8 683.2L600.3 683.2L601.7 683.2L603.1 683.2L604.6 683.2L606 683.2L607.4 683.2L608.8 683.2L610.3 683.2L611.7 683.2L613.1 683.2L614.6 683.2L616 683.2L617.4 683.2L618.8 683.2L620.3 683.2L621.7 683.2L623.1 683.2L624.6 683.2L626 683.2L627.4 683.2L628.9 683.2L630.3 683.2L631.7 683.2L633.1 683.2L634.6 683.2L636 683.2L637.4 683.2L638.9 683.2L640.3 683.2L641.7 683.2L643.1 683.2L644.6 683.2L646 683.2L647.4 683.2L648.9 683.2L650.3 683.2L651.7 683.2L653.1 683.2L654.6 683.2L656 683.2L657.4 683.2L658.9 683.2L660.3 683.2L661.7 683.2L663.2 683.2L664.6 683.2L666 683.2L667.4 683.2L668.9 683.2L670.3 683.2L671.7 683.2L673.2 683.2L674.6 683.2L676 683.2L677.4 683.2L678.9 683.2L680.3 683.2L681.7 683.2L683.2 683.2L684.6 683.2L686 683.2L687.5 683.2" stroke="#00f" stroke-width="2.3" stroke-dasharray="12.3 8.8" fill="none"/>
<text x="117.2" y="1226.6" text-anchor="middle" class="t">0</text>
<text x="231.2" y="1226.6" text-anchor="middle" class="t">0.2</text>
<text x="345.3" y="1226.6" text-anchor="middle" class="t">0.4</text>
<text x="459.3" y="1226.6" text-anchor="middle" class="t">0.6</text>
<text x="573.4" y="1226.6" text-anchor="middle" class="t">0.8</text>
<text x="687.5" y="1226.6" text-anchor="middle" class="t">1</text>
<text x="801.5" y="1226.6" text-anchor="middle" class="t">1.2</text>
<text x="82.6" y="658.1" text-anchor="end" class="t">10</text><text x="82.8" y="642.9" class="e">-2</text>
<text x="82.6" y="773.6" text-anchor="end" class="t">10</text><text x="82.8" y="758.4" class="e">-3</text>
<text x="82.6" y="889.1" text-anchor="end" class="t">10</text><text x="82.8" y="873.9" class="e">-4</text>
<text x="82.6" y="1004.6" text-anchor="end" class="t">10</text><text x="82.8" y="989.4" class="e">-5</text>
<text x="82.6" y="1120.1" text-anchor="end" class="t">10</text><text x="82.8" y="1104.9" class="e">-6</text>
<g transform="translate(27.8 912.8) rotate(-90)" class="yl"><text x="-55.5" y="0" font-style="italic" class="ns">y</text><text x="-40.3" y="3.5" class="par">(</text><text x="-29.6" y="0" textLength="30.5" lengthAdjust="spacingAndGlyphs" class="er">V</text><text x="-3" y="6.3" class="sub ns" font-style="italic" textLength="52" lengthAdjust="spacingAndGlyphs">p−p</text><text x="43.5" y="3.5" class="par">)</text></g>
<text x="752.5" y="688.4" text-anchor="middle" class="t pl">b</text>
<path d="M123.4 1762H801.5M123.4 1748.2H801.5M123.4 1737.5H801.5M123.4 1728.7H801.5M123.4 1721.3H801.5M123.4 1714.9H801.5M123.4 1709.3H801.5M123.4 1671H801.5M123.4 1651.5H801.5M123.4 1637.7H801.5M123.4 1627H801.5M123.4 1618.3H801.5M123.4 1610.9H801.5M123.4 1604.5H801.5M123.4 1598.8H801.5M123.4 1593.8H801.5M123.4 1560.5H801.5M123.4 1541.1H801.5M123.4 1527.3H801.5M123.4 1516.6H801.5M123.4 1507.9H801.5M123.4 1500.5H801.5M123.4 1494.1H801.5M123.4 1488.4H801.5M123.4 1450.1H801.5M123.4 1430.7H801.5M123.4 1416.9H801.5M123.4 1406.2H801.5M123.4 1397.4H801.5M123.4 1390H801.5M123.4 1383.6H801.5M123.4 1378H801.5M123.4 1372.9H801.5M123.4 1339.7H801.5M123.4 1320.2H801.5M123.4 1306.4H801.5M123.4 1295.7H801.5M123.4 1287H801.5M123.4 1279.6H801.5M123.4 1273.2H801.5M123.4 1267.6H801.5" stroke="#b4b4b4" stroke-width="1.25" stroke-dasharray="1.5 3.785" fill="none"/>
<path d="M231.2 1262.5V1781.4M345.3 1262.5V1781.4M459.3 1262.5V1781.4M573.4 1262.5V1781.4M687.5 1262.5V1781.4M117.2 1483.4H801.5M117.2 1704.2H801.5" stroke="#dfdfdf" stroke-width="1.1" fill="none"/>
<path d="M231.2 1781.4v-7M231.2 1262.5v7M345.3 1781.4v-7M345.3 1262.5v7M459.3 1781.4v-7M459.3 1262.5v7M573.4 1781.4v-7M573.4 1262.5v7M687.5 1781.4v-7M687.5 1262.5v7M117.2 1762h3.6M801.5 1762h-3.6M117.2 1748.2h3.6M801.5 1748.2h-3.6M117.2 1737.5h3.6M801.5 1737.5h-3.6M117.2 1728.7h3.6M801.5 1728.7h-3.6M117.2 1721.3h3.6M801.5 1721.3h-3.6M117.2 1714.9h3.6M801.5 1714.9h-3.6M117.2 1709.3h3.6M801.5 1709.3h-3.6M117.2 1704.2h7M801.5 1704.2h-7M117.2 1671h3.6M801.5 1671h-3.6M117.2 1651.5h3.6M801.5 1651.5h-3.6M117.2 1637.7h3.6M801.5 1637.7h-3.6M117.2 1627h3.6M801.5 1627h-3.6M117.2 1618.3h3.6M801.5 1618.3h-3.6M117.2 1610.9h3.6M801.5 1610.9h-3.6M117.2 1604.5h3.6M801.5 1604.5h-3.6M117.2 1598.8h3.6M801.5 1598.8h-3.6M117.2 1593.8h3.6M801.5 1593.8h-3.6M117.2 1560.5h3.6M801.5 1560.5h-3.6M117.2 1541.1h3.6M801.5 1541.1h-3.6M117.2 1527.3h3.6M801.5 1527.3h-3.6M117.2 1516.6h3.6M801.5 1516.6h-3.6M117.2 1507.9h3.6M801.5 1507.9h-3.6M117.2 1500.5h3.6M801.5 1500.5h-3.6M117.2 1494.1h3.6M801.5 1494.1h-3.6M117.2 1488.4h3.6M801.5 1488.4h-3.6M117.2 1483.4h7M801.5 1483.4h-7M117.2 1450.1h3.6M801.5 1450.1h-3.6M117.2 1430.7h3.6M801.5 1430.7h-3.6M117.2 1416.9h3.6M801.5 1416.9h-3.6M117.2 1406.2h3.6M801.5 1406.2h-3.6M117.2 1397.4h3.6M801.5 1397.4h-3.6M117.2 1390h3.6M801.5 1390h-3.6M117.2 1383.6h3.6M801.5 1383.6h-3.6M117.2 1378h3.6M801.5 1378h-3.6M117.2 1372.9h3.6M801.5 1372.9h-3.6M117.2 1339.7h3.6M801.5 1339.7h-3.6M117.2 1320.2h3.6M801.5 1320.2h-3.6M117.2 1306.4h3.6M801.5 1306.4h-3.6M117.2 1295.7h3.6M801.5 1295.7h-3.6M117.2 1287h3.6M801.5 1287h-3.6M117.2 1279.6h3.6M801.5 1279.6h-3.6M117.2 1273.2h3.6M801.5 1273.2h-3.6M117.2 1267.6h3.6M801.5 1267.6h-3.6" stroke="#262626" stroke-width="1.25" fill="none"/>
<rect x="117.2" y="1262.5" width="684.3" height="518.9" fill="none" stroke="#262626" stroke-width="1.35"/>
<path d="M117.2 1671l9 11.7l-9 11.7l-9 -11.7zM117.2 1675.3l9 11.7l-9 11.7l-9 -11.7zM117.2 1675.3l9 11.7l-9 11.7l-9 -11.7zM117.2 1675.3l9 11.7l-9 11.7l-9 -11.7zM117.2 1677.3l9 11.7l-9 11.7l-9 -11.7zM117.2 1677.4l9 11.7l-9 11.7l-9 -11.7zM117.2 1678.6l9 11.7l-9 11.7l-9 -11.7zM117.2 1681l9 11.7l-9 11.7l-9 -11.7zM117.2 1681.3l9 11.7l-9 11.7l-9 -11.7zM117.2 1682l9 11.7l-9 11.7l-9 -11.7zM117.2 1682.3l9 11.7l-9 11.7l-9 -11.7zM117.2 1682.5l9 11.7l-9 11.7l-9 -11.7zM117.2 1682.6l9 11.7l-9 11.7l-9 -11.7zM117.2 1683.6l9 11.7l-9 11.7l-9 -11.7zM117.2 1685.5l9 11.7l-9 11.7l-9 -11.7zM117.2 1685.8l9 11.7l-9 11.7l-9 -11.7zM117.2 1685.9l9 11.7l-9 11.7l-9 -11.7zM117.2 1686.8l9 11.7l-9 11.7l-9 -11.7zM117.2 1687.1l9 11.7l-9 11.7l-9 -11.7zM117.2 1687.2l9 11.7l-9 11.7l-9 -11.7zM117.2 1687.8l9 11.7l-9 11.7l-9 -11.7zM117.2 1687.8l9 11.7l-9 11.7l-9 -11.7zM117.2 1688l9 11.7l-9 11.7l-9 -11.7zM117.2 1688.3l9 11.7l-9 11.7l-9 -11.7zM117.2 1688.7l9 11.7l-9 11.7l-9 -11.7zM117.2 1688.9l9 11.7l-9 11.7l-9 -11.7zM117.2 1689.5l9 11.7l-9 11.7l-9 -11.7zM117.2 1689.5l9 11.7l-9 11.7l-9 -11.7zM117.2 1690.1l9 11.7l-9 11.7l-9 -11.7zM117.2 1690.5l9 11.7l-9 11.7l-9 -11.7zM117.2 1691.1l9 11.7l-9 11.7l-9 -11.7zM117.2 1691.3l9 11.7l-9 11.7l-9 -11.7zM117.2 1691.6l9 11.7l-9 11.7l-9 -11.7zM117.2 1691.8l9 11.7l-9 11.7l-9 -11.7zM117.2 1692.1l9 11.7l-9 11.7l-9 -11.7zM117.2 1692.1l9 11.7l-9 11.7l-9 -11.7zM117.2 1692.6l9 11.7l-9 11.7l-9 -11.7zM117.2 1692.9l9 11.7l-9 11.7l-9 -11.7zM117.2 1693.6l9 11.7l-9 11.7l-9 -11.7zM117.2 1693.6l9 11.7l-9 11.7l-9 -11.7zM117.2 1693.7l9 11.7l-9 11.7l-9 -11.7zM117.2 1693.8l9 11.7l-9 11.7l-9 -11.7zM117.2 1693.8l9 11.7l-9 11.7l-9 -11.7zM117.2 1694.2l9 11.7l-9 11.7l-9 -11.7zM117.2 1694.6l9 11.7l-9 11.7l-9 -11.7zM117.2 1695.4l9 11.7l-9 11.7l-9 -11.7zM117.2 1695.8l9 11.7l-9 11.7l-9 -11.7zM117.2 1695.8l9 11.7l-9 11.7l-9 -11.7zM117.2 1695.8l9 11.7l-9 11.7l-9 -11.7zM117.2 1695.9l9 11.7l-9 11.7l-9 -11.7zM117.2 1696.1l9 11.7l-9 11.7l-9 -11.7zM117.2 1696.8l9 11.7l-9 11.7l-9 -11.7zM117.2 1697.9l9 11.7l-9 11.7l-9 -11.7zM117.2 1698.1l9 11.7l-9 11.7l-9 -11.7zM117.2 1698.1l9 11.7l-9 11.7l-9 -11.7zM117.2 1698.3l9 11.7l-9 11.7l-9 -11.7zM117.2 1698.4l9 11.7l-9 11.7l-9 -11.7zM117.2 1698.5l9 11.7l-9 11.7l-9 -11.7zM117.2 1698.6l9 11.7l-9 11.7l-9 -11.7zM117.2 1698.6l9 11.7l-9 11.7l-9 -11.7zM117.2 1698.8l9 11.7l-9 11.7l-9 -11.7zM117.2 1699.5l9 11.7l-9 11.7l-9 -11.7zM117.2 1699.6l9 11.7l-9 11.7l-9 -11.7zM117.2 1699.6l9 11.7l-9 11.7l-9 -11.7zM117.2 1699.8l9 11.7l-9 11.7l-9 -11.7zM117.2 1700.3l9 11.7l-9 11.7l-9 -11.7zM117.2 1700.4l9 11.7l-9 11.7l-9 -11.7zM117.2 1700.4l9 11.7l-9 11.7l-9 -11.7zM117.2 1700.4l9 11.7l-9 11.7l-9 -11.7zM117.2 1700.5l9 11.7l-9 11.7l-9 -11.7zM117.2 1700.7l9 11.7l-9 11.7l-9 -11.7zM117.2 1701.1l9 11.7l-9 11.7l-9 -11.7zM117.2 1701.8l9 11.7l-9 11.7l-9 -11.7zM117.2 1701.9l9 11.7l-9 11.7l-9 -11.7zM117.2 1702.3l9 11.7l-9 11.7l-9 -11.7zM117.2 1702.7l9 11.7l-9 11.7l-9 -11.7zM117.2 1702.8l9 11.7l-9 11.7l-9 -11.7zM117.2 1703.1l9 11.7l-9 11.7l-9 -11.7zM117.2 1703.2l9 11.7l-9 11.7l-9 -11.7zM117.2 1703.5l9 11.7l-9 11.7l-9 -11.7zM117.2 1703.6l9 11.7l-9 11.7l-9 -11.7zM117.2 1703.8l9 11.7l-9 11.7l-9 -11.7zM117.2 1703.9l9 11.7l-9 11.7l-9 -11.7zM117.2 1704.7l9 11.7l-9 11.7l-9 -11.7zM117.2 1704.9l9 11.7l-9 11.7l-9 -11.7zM117.2 1705.2l9 11.7l-9 11.7l-9 -11.7zM117.2 1705.9l9 11.7l-9 11.7l-9 -11.7zM117.2 1706.4l9 11.7l-9 11.7l-9 -11.7zM117.2 1707l9 11.7l-9 11.7l-9 -11.7zM117.2 1707.5l9 11.7l-9 11.7l-9 -11.7zM117.2 1707.6l9 11.7l-9 11.7l-9 -11.7zM117.2 1708.1l9 11.7l-9 11.7l-9 -11.7zM117.2 1708.5l9 11.7l-9 11.7l-9 -11.7zM117.2 1708.9l9 11.7l-9 11.7l-9 -11.7zM117.2 1710.4l9 11.7l-9 11.7l-9 -11.7zM117.2 1710.9l9 11.7l-9 11.7l-9 -11.7zM117.2 1711.4l9 11.7l-9 11.7l-9 -11.7zM117.2 1711.6l9 11.7l-9 11.7l-9 -11.7zM117.2 1711.6l9 11.7l-9 11.7l-9 -11.7zM117.2 1711.8l9 11.7l-9 11.7l-9 -11.7zM117.2 1712.3l9 11.7l-9 11.7l-9 -11.7zM117.2 1714.6l9 11.7l-9 11.7l-9 -11.7zM117.2 1714.8l9 11.7l-9 11.7l-9 -11.7zM117.2 1715.9l9 11.7l-9 11.7l-9 -11.7zM117.2 1717l9 11.7l-9 11.7l-9 -11.7zM117.2 1717.3l9 11.7l-9 11.7l-9 -11.7zM117.2 1717.3l9 11.7l-9 11.7l-9 -11.7zM117.2 1717.3l9 11.7l-9 11.7l-9 -11.7zM117.2 1717.3l9 11.7l-9 11.7l-9 -11.7zM117.2 1722.1l9 11.7l-9 11.7l-9 -11.7z" stroke="#f0f" stroke-width="1.3" fill="none"/>
<path d="M117.2 1709.7L118.6 1709.7L120.1 1709.7L121.5 1709.7L122.9 1709.7L124.3 1709.7L125.8 1709.7L127.2 1709.7L128.6 1709.7L130.1 1709.7L131.5 1709.7L132.9 1709.7L134.4 1709.7L135.8 1709.7L137.2 1709.7L138.6 1709.7L140.1 1709.7L141.5 1709.7L142.9 1709.7L144.4 1709.7L145.8 1709.7L147.2 1709.7L148.6 1709.7L150.1 1709.7L151.5 1709.7L152.9 1709.7L154.4 1709.7L155.8 1709.7L157.2 1709.7L158.6 1709.7L160.1 1709.7L161.5 1709.7L162.9 1709.7L164.4 1709.7L165.8 1709.7L167.2 1709.7L168.7 1709.7L170.1 1709.7L171.5 1709.7L172.9 1709.7L174.4 1709.7L175.8 1709.7L177.2 1709.7L178.7 1709.7L180.1 1709.7L181.5 1709.7L182.9 1709.7L184.4 1709.7L185.8 1709.7L187.2 1709.7L188.7 1709.7L190.1 1709.7L191.5 1709.7L192.9 1709.7L194.4 1709.7L195.8 1709.7L197.2 1709.7L198.7 1709.7L200.1 1709.7L201.5 1709.7L203 1709.7L204.4 1709.7L205.8 1709.7L207.2 1709.7L208.7 1709.7L210.1 1709.7L211.5 1709.7L213 1709.7L214.4 1709.7L215.8 1709.7L217.2 1709.7L218.7 1709.7L220.1 1709.7L221.5 1709.7L223 1709.7L224.4 1709.7L225.8 1709.7L227.2 1709.7L228.7 1709.7L230.1 1709.7L231.5 1709.7L233 1709.7L234.4 1709.7L235.8 1709.7L237.3 1709.7L238.7 1709.7L240.1 1709.7L241.5 1709.7L243 1709.7L244.4 1709.7L245.8 1709.7L247.3 1709.7L248.7 1709.6L250.1 1709.6L251.5 1709.6L253 1709.6L254.4 1709.6L255.8 1709.6L257.3 1709.5L258.7 1709.5L260.1 1709.5L261.5 1709.5L263 1709.4L264.4 1709.4L265.8 1709.3L267.3 1709.3L268.7 1709.2L270.1 1709.2L271.6 1709.1L273 1709L274.4 1708.9L275.8 1708.8L277.3 1708.7L278.7 1708.6L280.1 1708.4L281.6 1708.2L283 1708L284.4 1707.8L285.8 1707.6L287.3 1707.3L288.7 1707L290.1 1706.6L291.6 1706.2L293 1705.7L294.4 1705.2L295.8 1704.6L297.3 1704L298.7 1703.3L300.1 1702.4L301.6 1701.5L303 1700.5L304.4 1699.3L305.9 1698L307.3 1696.5L308.7 1694.8L310.1 1692.9L311.6 1690.9L313 1688.5L314.4 1685.9L315.9 1683.1L317.3 1679.8L318.7 1676.3L320.1 1672.3L321.6 1667.9L323 1663.1L324.4 1657.8L325.9 1652L327.3 1645.7L328.7 1638.8L330.2 1631.3L331.6 1623.3L333 1614.7L334.4 1605.4L335.9 1595.7L337.3 1585.3L338.7 1574.5L340.2 1563.2L341.6 1551.5L343 1539.4L344.4 1527.2L345.9 1514.7L347.3 1502.2L348.7 1489.7L350.2 1477.3L351.6 1465.1L353 1453.2L354.4 1441.6L355.9 1430.5L357.3 1419.9L358.7 1409.8L360.2 1400.2L361.6 1391.2L363 1382.8L364.5 1375L365.9 1367.8L367.3 1361.1L368.7 1355L370.2 1349.4L371.6 1344.3L373 1339.7L374.5 1335.5L375.9 1331.7L377.3 1328.3L378.7 1325.2L380.2 1322.4L381.6 1319.9L383 1317.7L384.5 1315.7L385.9 1313.9L387.3 1312.4L388.7 1310.9L390.2 1309.7L391.6 1308.6L393 1307.6L394.5 1306.7L395.9 1305.9L397.3 1305.2L398.8 1304.6L400.2 1304L401.6 1303.5L403 1303.1L404.5 1302.7L405.9 1302.4L407.3 1302.1L408.8 1301.8L410.2 1301.6L411.6 1301.3L413 1301.2L414.5 1301L415.9 1300.8L417.3 1300.7L418.8 1300.6L420.2 1300.5L421.6 1300.4L423 1300.3L424.5 1300.3L425.9 1300.2L427.3 1300.1L428.8 1300.1L430.2 1300L431.6 1300L433.1 1300L434.5 1299.9L435.9 1299.9L437.3 1299.9L438.8 1299.9L440.2 1299.9L441.6 1299.8L443.1 1299.8L444.5 1299.8L445.9 1299.8L447.3 1299.8L448.8 1299.8L450.2 1299.8L451.6 1299.8L453.1 1299.8L454.5 1299.8L455.9 1299.8L457.3 1299.7L458.8 1299.7L460.2 1299.7L461.6 1299.7L463.1 1299.7L464.5 1299.7L465.9 1299.7L467.4 1299.7L468.8 1299.7L470.2 1299.7L471.6 1299.7L473.1 1299.7L474.5 1299.7L475.9 1299.7L477.4 1299.7L478.8 1299.7L480.2 1299.7L481.6 1299.7L483.1 1299.7L484.5 1299.7L485.9 1299.7L487.4 1299.7L488.8 1299.7L490.2 1299.7L491.6 1299.7L493.1 1299.7L494.5 1299.7L495.9 1299.7L497.4 1299.7L498.8 1299.7L500.2 1299.7L501.7 1299.7L503.1 1299.7L504.5 1299.7L505.9 1299.7L507.4 1299.7L508.8 1299.7L510.2 1299.7L511.7 1299.7L513.1 1299.7L514.5 1299.7L515.9 1299.7L517.4 1299.7L518.8 1299.7L520.2 1299.7L521.7 1299.7L523.1 1299.7L524.5 1299.7L526 1299.7L527.4 1299.7L528.8 1299.7L530.2 1299.7L531.7 1299.7L533.1 1299.7L534.5 1299.7L536 1299.7L537.4 1299.7L538.8 1299.7L540.2 1299.7L541.7 1299.7L543.1 1299.7L544.5 1299.7L546 1299.7L547.4 1299.7L548.8 1299.7L550.2 1299.7L551.7 1299.7L553.1 1299.7L554.5 1299.7L556 1299.7L557.4 1299.7L558.8 1299.7L560.3 1299.7L561.7 1299.7L563.1 1299.7L564.5 1299.7L566 1299.7L567.4 1299.7L568.8 1299.7L570.3 1299.7L571.7 1299.7L573.1 1299.7L574.5 1299.7L576 1299.7L577.4 1299.7L578.8 1299.7L580.3 1299.7L581.7 1299.7L583.1 1299.7L584.5 1299.7L586 1299.7L587.4 1299.7L588.8 1299.7L590.3 1299.7L591.7 1299.7L593.1 1299.7L594.6 1299.7L596 1299.7L597.4 1299.7L598.8 1299.7L600.3 1299.7L601.7 1299.7L603.1 1299.7L604.6 1299.7L606 1299.7L607.4 1299.7L608.8 1299.7L610.3 1299.7L611.7 1299.7L613.1 1299.7L614.6 1299.7L616 1299.7L617.4 1299.7L618.8 1299.7L620.3 1299.7L621.7 1299.7L623.1 1299.7L624.6 1299.7L626 1299.7L627.4 1299.7L628.9 1299.7L630.3 1299.7L631.7 1299.7L633.1 1299.7L634.6 1299.7L636 1299.7L637.4 1299.7L638.9 1299.7L640.3 1299.7L641.7 1299.7L643.1 1299.7L644.6 1299.7L646 1299.7L647.4 1299.7L648.9 1299.7L650.3 1299.7L651.7 1299.7L653.1 1299.7L654.6 1299.7L656 1299.7L657.4 1299.7L658.9 1299.7L660.3 1299.7L661.7 1299.7L663.2 1299.7L664.6 1299.7L666 1299.7L667.4 1299.7L668.9 1299.7L670.3 1299.7L671.7 1299.7L673.2 1299.7L674.6 1299.7L676 1299.7L677.4 1299.7L678.9 1299.7L680.3 1299.7L681.7 1299.7L683.2 1299.7L684.6 1299.7L686 1299.7L687.5 1299.7" stroke="#000" stroke-width="1.2" fill="none"/>
<circle cx="338.5" cy="1335.6" r="8.3"/>
<circle cx="334.5" cy="1347.8" r="8.3"/>
<circle cx="333.9" cy="1351.4" r="8.3"/>
<circle cx="331.5" cy="1381.7" r="8.3"/>
<circle cx="330" cy="1386.2" r="8.3"/>
<circle cx="338.5" cy="1410.5" r="8.3"/>
<circle cx="334.5" cy="1419.6" r="8.3"/>
<circle cx="333.9" cy="1431.7" r="8.3"/>
<circle cx="347.3" cy="1437.8" r="8.3"/>
<circle cx="333" cy="1460.5" r="8.3"/>
<circle cx="333.9" cy="1463.5" r="8.3"/>
<circle cx="334.5" cy="1477.2" r="8.3"/>
<circle cx="333.9" cy="1481.7" r="8.3"/>
<circle cx="348.2" cy="1501.4" r="8.3"/>
<circle cx="357.3" cy="1287.8" r="8.3"/>
<circle cx="352.7" cy="1292.3" r="8.3"/>
<circle cx="361.8" cy="1295.3" r="8.3"/>
<circle cx="364.8" cy="1299.9" r="8.3"/>
<circle cx="355.2" cy="1304.4" r="8.3"/>
<circle cx="363.3" cy="1307.5" r="8.3"/>
<circle cx="364.8" cy="1313.5" r="8.3"/>
<circle cx="361.8" cy="1330.2" r="8.3"/>
<circle cx="362.4" cy="1334.7" r="8.3"/>
<circle cx="363.3" cy="1346.8" r="8.3"/>
<circle cx="361.2" cy="1362" r="8.3"/>
<circle cx="352.7" cy="1369.6" r="8.3"/>
<circle cx="361.8" cy="1366.5" r="8.3"/>
<circle cx="367.9" cy="1375.6" r="8.3"/>
<circle cx="364.8" cy="1392.9" r="8.3"/>
<circle cx="360.3" cy="1410.5" r="8.3"/>
<circle cx="359.4" cy="1419.6" r="8.3"/>
<circle cx="361.8" cy="1422.6" r="8.3"/>
<circle cx="354.2" cy="1436.2" r="8.3"/>
<circle cx="357.3" cy="1440.8" r="8.3"/>
<circle cx="358.8" cy="1459" r="8.3"/>
<circle cx="361.8" cy="1462" r="8.3"/>
<circle cx="362.4" cy="1471.1" r="8.3"/>
<circle cx="355.2" cy="1474.1" r="8.3"/>
<circle cx="364.8" cy="1477.8" r="8.3"/>
<circle cx="446.1" cy="1293.2" r="8.3"/>
<circle cx="361.8" cy="1480" r="8.3"/>
<circle cx="344.2" cy="1510.3" r="8.3"/>
<circle cx="324.8" cy="1528.5" r="8.3"/>
<circle cx="334.5" cy="1536.1" r="8.3"/>
<circle cx="335.2" cy="1542.1" r="8.3"/>
<circle cx="363.3" cy="1542.1" r="8.3"/>
<circle cx="362.4" cy="1548.2" r="8.3"/>
<circle cx="363.3" cy="1552.7" r="8.3"/>
<circle cx="361.8" cy="1558.2" r="8.3"/>
<circle cx="361.2" cy="1583" r="8.3"/>
<circle cx="325.5" cy="1588.5" r="8.3"/>
<circle cx="333.9" cy="1592.1" r="8.3"/>
<circle cx="334.5" cy="1602.7" r="8.3"/>
<circle cx="364.8" cy="1603.3" r="8.3"/>
<circle cx="337.6" cy="1617.9" r="8.3"/>
<circle cx="333.9" cy="1623.9" r="8.3"/>
<circle cx="332.1" cy="1628.5" r="8.3"/>
<circle cx="360.3" cy="1636.1" r="8.3"/>
<circle cx="359.4" cy="1643.6" r="8.3"/>
<circle cx="330" cy="1652.7" r="8.3"/>
<circle cx="333.9" cy="1655.8" r="8.3"/>
<circle cx="337.6" cy="1660.3" r="8.3"/>
<circle cx="351.2" cy="1655.8" r="8.3"/>
<circle cx="364.2" cy="1655.2" r="8.3"/>
<circle cx="336.1" cy="1670.9" r="8.3"/>
<circle cx="358.8" cy="1678.5" r="8.3"/>
<circle cx="365.5" cy="1682.4" r="8.3"/>
<circle cx="317.9" cy="1683.6" r="8.3"/>
<circle cx="330" cy="1686.1" r="8.3"/>
<circle cx="336.1" cy="1687.6" r="8.3"/>
<circle cx="334.5" cy="1692.1" r="8.3"/>
<circle cx="335.2" cy="1698.2" r="8.3"/>
<circle cx="333.9" cy="1704.2" r="8.3"/>
<circle cx="335.2" cy="1708.8" r="8.3"/>
<circle cx="334.5" cy="1714.8" r="8.3"/>
<circle cx="364.2" cy="1713.3" r="8.3"/>
<circle cx="323.9" cy="1719.4" r="8.3"/>
<circle cx="284.5" cy="1708.8" r="8.3"/>
<circle cx="129.1" cy="1713.8" r="8.3"/>
<circle cx="184.4" cy="1723.6" r="8.3"/>
<circle cx="212" cy="1719.3" r="8.3"/>
<circle cx="270.2" cy="1663.6" r="8.3"/>
<circle cx="687.2" cy="1276.5" r="8.3"/>
<circle cx="687.5" cy="1276.7" r="8.3"/>
<circle cx="687.2" cy="1279.1" r="8.3"/>
<circle cx="687.1" cy="1278.8" r="8.3"/>
<circle cx="687.8" cy="1280.6" r="8.3"/>
<circle cx="687.3" cy="1281.4" r="8.3"/>
<circle cx="687.6" cy="1282" r="8.3"/>
<circle cx="687.2" cy="1283.8" r="8.3"/>
<circle cx="687.6" cy="1284.3" r="8.3"/>
<circle cx="687.7" cy="1285.4" r="8.3"/>
<circle cx="687.8" cy="1285.8" r="8.3"/>
<circle cx="687.5" cy="1287.2" r="8.3"/>
<circle cx="687.3" cy="1288.4" r="8.3"/>
<circle cx="687.2" cy="1289.7" r="8.3"/>
<circle cx="687.7" cy="1289.6" r="8.3"/>
<circle cx="687.4" cy="1290.8" r="8.3"/>
<circle cx="687.1" cy="1292.7" r="8.3"/>
<circle cx="687.4" cy="1292.5" r="8.3"/>
<circle cx="687.6" cy="1293.6" r="8.3"/>
<circle cx="687.8" cy="1294.6" r="8.3"/>
<circle cx="687.1" cy="1295.5" r="8.3"/>
<circle cx="687.3" cy="1296.9" r="8.3"/>
<circle cx="687.8" cy="1298.3" r="8.3"/>
<circle cx="687.3" cy="1298.2" r="8.3"/>
<circle cx="687.2" cy="1300.7" r="8.3"/>
<circle cx="687.4" cy="1301.2" r="8.3"/>
<circle cx="687.1" cy="1301.1" r="8.3"/>
<circle cx="687.7" cy="1303" r="8.3"/>
<circle cx="687.3" cy="1303.5" r="8.3"/>
<circle cx="687.1" cy="1304.3" r="8.3"/>
<circle cx="687.1" cy="1306.3" r="8.3"/>
<circle cx="687.4" cy="1306.1" r="8.3"/>
<circle cx="687.6" cy="1307.2" r="8.3"/>
<circle cx="687.1" cy="1308.9" r="8.3"/>
<circle cx="687.8" cy="1308.9" r="8.3"/>
<circle cx="687.7" cy="1310.2" r="8.3"/>
<circle cx="687.1" cy="1310.9" r="8.3"/>
<circle cx="687.3" cy="1313" r="8.3"/>
<circle cx="687.4" cy="1314.1" r="8.3"/>
<circle cx="687.2" cy="1314.3" r="8.3"/>
<circle cx="687.3" cy="1316.3" r="8.3"/>
<circle cx="687.8" cy="1316.2" r="8.3"/>
<circle cx="582.8" cy="1306" r="8.3"/>
<path d="M117.2 1710.3L118.6 1710.3L120.1 1710.3L121.5 1710.3L122.9 1710.3L124.3 1710.3L125.8 1710.3L127.2 1710.3L128.6 1710.3L130.1 1710.3L131.5 1710.3L132.9 1710.3L134.4 1710.3L135.8 1710.3L137.2 1710.3L138.6 1710.3L140.1 1710.3L141.5 1710.3L142.9 1710.3L144.4 1710.3L145.8 1710.3L147.2 1710.3L148.6 1710.3L150.1 1710.3L151.5 1710.3L152.9 1710.3L154.4 1710.3L155.8 1710.3L157.2 1710.3L158.6 1710.3L160.1 1710.3L161.5 1710.3L162.9 1710.3L164.4 1710.3L165.8 1710.3L167.2 1710.3L168.7 1710.3L170.1 1710.3L171.5 1710.3L172.9 1710.3L174.4 1710.3L175.8 1710.3L177.2 1710.3L178.7 1710.3L180.1 1710.3L181.5 1710.3L182.9 1710.3L184.4 1710.3L185.8 1710.3L187.2 1710.3L188.7 1710.3L190.1 1710.3L191.5 1710.3L192.9 1710.3L194.4 1710.3L195.8 1710.3L197.2 1710.3L198.7 1710.3L200.1 1710.3L201.5 1710.3L203 1710.3L204.4 1710.3L205.8 1710.3L207.2 1710.3L208.7 1710.3L210.1 1710.3L211.5 1710.3L213 1710.3L214.4 1710.3L215.8 1710.3L217.2 1710.3L218.7 1710.3L220.1 1710.3L221.5 1710.3L223 1710.3L224.4 1710.3L225.8 1710.3L227.2 1710.3L228.7 1710.3L230.1 1710.3L231.5 1710.3L233 1710.3L234.4 1710.3L235.8 1710.3L237.3 1710.3L238.7 1710.3L240.1 1710.3L241.5 1710.3L243 1710.3L244.4 1710.3L245.8 1710.3L247.3 1710.3L248.7 1710.2L250.1 1710.2L251.5 1710.2L253 1710.2L254.4 1710.2L255.8 1710.2L257.3 1710.2L258.7 1710.2L260.1 1710.2L261.5 1710.2L263 1710.1L264.4 1710.1L265.8 1710.1L267.3 1710.1L268.7 1710L270.1 1710L271.6 1709.9L273 1709.9L274.4 1709.8L275.8 1709.8L277.3 1709.7L278.7 1709.6L280.1 1709.5L281.6 1709.4L283 1709.3L284.4 1709.1L285.8 1709L287.3 1708.8L288.7 1708.6L290.1 1708.3L291.6 1708L293 1707.7L294.4 1707.3L295.8 1706.9L297.3 1706.4L298.7 1705.9L300.1 1705.2L301.6 1704.5L303 1703.7L304.4 1702.8L305.9 1701.7L307.3 1700.5L308.7 1699.1L310.1 1697.5L311.6 1695.7L313 1693.7L314.4 1691.4L315.9 1688.8L317.3 1685.9L318.7 1682.6L320.1 1678.9L321.6 1674.7L323 1670L324.4 1664.8L325.9 1659.1L327.3 1652.7L328.7 1645.6L330.2 1637.9L331.6 1629.5L333 1620.3L334.4 1610.4L335.9 1599.8L337.3 1588.6L338.7 1576.6L340.2 1564.1L341.6 1551.1L343 1537.7L344.4 1524L345.9 1510.2L347.3 1496.2L348.7 1482.4L350.2 1468.7L351.6 1455.4L353 1442.5L354.4 1430.1L355.9 1418.3L357.3 1407.2L358.7 1396.7L360.2 1387L361.6 1378L363 1369.7L364.5 1362.1L365.9 1355.2L367.3 1348.9L368.7 1343.3L370.2 1338.2L371.6 1333.6L373 1329.6L374.5 1325.9L375.9 1322.7L377.3 1319.9L378.7 1317.3L380.2 1315.1L381.6 1313.1L383 1311.4L384.5 1309.8L385.9 1308.5L387.3 1307.3L388.7 1306.3L390.2 1305.4L391.6 1304.6L393 1303.8L394.5 1303.2L395.9 1302.7L397.3 1302.2L398.8 1301.8L400.2 1301.4L401.6 1301.1L403 1300.9L404.5 1300.6L405.9 1300.4L407.3 1300.2L408.8 1300.1L410.2 1299.9L411.6 1299.8L413 1299.7L414.5 1299.6L415.9 1299.5L417.3 1299.4L418.8 1299.4L420.2 1299.3L421.6 1299.3L423 1299.2L424.5 1299.2L425.9 1299.2L427.3 1299.1L428.8 1299.1L430.2 1299.1L431.6 1299.1L433.1 1299.1L434.5 1299L435.9 1299L437.3 1299L438.8 1299L440.2 1299L441.6 1299L443.1 1299L444.5 1299L445.9 1299L447.3 1299L448.8 1299L450.2 1299L451.6 1299L453.1 1299L454.5 1299L455.9 1299L457.3 1299L458.8 1299L460.2 1298.9L461.6 1298.9L463.1 1298.9L464.5 1298.9L465.9 1298.9L467.4 1298.9L468.8 1298.9L470.2 1298.9L471.6 1298.9L473.1 1298.9L474.5 1298.9L475.9 1298.9L477.4 1298.9L478.8 1298.9L480.2 1298.9L481.6 1298.9L483.1 1298.9L484.5 1298.9L485.9 1298.9L487.4 1298.9L488.8 1298.9L490.2 1298.9L491.6 1298.9L493.1 1298.9L494.5 1298.9L495.9 1298.9L497.4 1298.9L498.8 1298.9L500.2 1298.9L501.7 1298.9L503.1 1298.9L504.5 1298.9L505.9 1298.9L507.4 1298.9L508.8 1298.9L510.2 1298.9L511.7 1298.9L513.1 1298.9L514.5 1298.9L515.9 1298.9L517.4 1298.9L518.8 1298.9L520.2 1298.9L521.7 1298.9L523.1 1298.9L524.5 1298.9L526 1298.9L527.4 1298.9L528.8 1298.9L530.2 1298.9L531.7 1298.9L533.1 1298.9L534.5 1298.9L536 1298.9L537.4 1298.9L538.8 1298.9L540.2 1298.9L541.7 1298.9L543.1 1298.9L544.5 1298.9L546 1298.9L547.4 1298.9L548.8 1298.9L550.2 1298.9L551.7 1298.9L553.1 1298.9L554.5 1298.9L556 1298.9L557.4 1298.9L558.8 1298.9L560.3 1298.9L561.7 1298.9L563.1 1298.9L564.5 1298.9L566 1298.9L567.4 1298.9L568.8 1298.9L570.3 1298.9L571.7 1298.9L573.1 1298.9L574.5 1298.9L576 1298.9L577.4 1298.9L578.8 1298.9L580.3 1298.9L581.7 1298.9L583.1 1298.9L584.5 1298.9L586 1298.9L587.4 1298.9L588.8 1298.9L590.3 1298.9L591.7 1298.9L593.1 1298.9L594.6 1298.9L596 1298.9L597.4 1298.9L598.8 1298.9L600.3 1298.9L601.7 1298.9L603.1 1298.9L604.6 1298.9L606 1298.9L607.4 1298.9L608.8 1298.9L610.3 1298.9L611.7 1298.9L613.1 1298.9L614.6 1298.9L616 1298.9L617.4 1298.9L618.8 1298.9L620.3 1298.9L621.7 1298.9L623.1 1298.9L624.6 1298.9L626 1298.9L627.4 1298.9L628.9 1298.9L630.3 1298.9L631.7 1298.9L633.1 1298.9L634.6 1298.9L636 1298.9L637.4 1298.9L638.9 1298.9L640.3 1298.9L641.7 1298.9L643.1 1298.9L644.6 1298.9L646 1298.9L647.4 1298.9L648.9 1298.9L650.3 1298.9L651.7 1298.9L653.1 1298.9L654.6 1298.9L656 1298.9L657.4 1298.9L658.9 1298.9L660.3 1298.9L661.7 1298.9L663.2 1298.9L664.6 1298.9L666 1298.9L667.4 1298.9L668.9 1298.9L670.3 1298.9L671.7 1298.9L673.2 1298.9L674.6 1298.9L676 1298.9L677.4 1298.9L678.9 1298.9L680.3 1298.9L681.7 1298.9L683.2 1298.9L684.6 1298.9L686 1298.9L687.5 1298.9" stroke="#f00" stroke-width="2.2" stroke-dasharray="12.3 8.8" fill="none"/>
<path d="M342.7 1276.3l7.6 12.6h-15.2zM350.3 1285.4l7.6 12.6h-15.2zM387.6 1291.5l7.6 12.6h-15.2zM395.2 1291.5l7.6 12.6h-15.2zM410.3 1284.5l7.6 12.6h-15.2zM402.7 1302.1l7.6 12.6h-15.2zM407.3 1320.3l7.6 12.6h-15.2zM354.2 1344.5l7.6 12.6h-15.2zM384.5 1348.4l7.6 12.6h-15.2zM368.5 1359.6l7.6 12.6h-15.2zM327.6 1367.2l7.6 12.6h-15.2zM391.5 1457.5l7.6 12.6h-15.2zM417.9 1291.5l7.6 12.6h-15.2zM422.4 1300.6l7.6 12.6h-15.2zM425.5 1283.9l7.6 12.6h-15.2zM433 1306.6l7.6 12.6h-15.2zM437.6 1285.4l7.6 12.6h-15.2zM440.6 1273.3l7.6 12.6h-15.2zM445.2 1297.5l7.6 12.6h-15.2zM449.7 1283.9l7.6 12.6h-15.2zM454.2 1300.6l7.6 12.6h-15.2zM458.8 1305.1l7.6 12.6h-15.2zM463.3 1282.4l7.6 12.6h-15.2zM467.9 1314.2l7.6 12.6h-15.2zM472.4 1297.5l7.6 12.6h-15.2zM477 1288.4l7.6 12.6h-15.2zM372.4 1521.6l7.6 12.6h-15.2zM357.3 1527l7.6 12.6h-15.2zM361.8 1527.6l7.6 12.6h-15.2zM323.3 1534.6l7.6 12.6h-15.2zM380.6 1558.9l7.6 12.6h-15.2zM399.1 1579.8l7.6 12.6h-15.2zM346.1 1594.3l7.6 12.6h-15.2zM319.4 1629.8l7.6 12.6h-15.2zM283 1639.2l7.6 12.6h-15.2zM376.4 1649.5l7.6 12.6h-15.2zM308.8 1654.9l7.6 12.6h-15.2zM330.9 1663.4l7.6 12.6h-15.2zM304.2 1673.1l7.6 12.6h-15.2zM289.1 1676.7l7.6 12.6h-15.2zM333.9 1674.6l7.6 12.6h-15.2zM337.6 1681.6l7.6 12.6h-15.2zM299.7 1688.9l7.6 12.6h-15.2zM293.6 1695.8l7.6 12.6h-15.2zM364.8 1698.9l7.6 12.6h-15.2zM311.8 1703.4l7.6 12.6h-15.2zM316.4 1705.8l7.6 12.6h-15.2zM284.5 1715.5l7.6 12.6h-15.2zM266.9 1600l7.6 12.6h-15.2zM270.4 1614.9l7.6 12.6h-15.2zM295.5 1687.6l7.6 12.6h-15.2zM262.7 1686.7l7.6 12.6h-15.2zM273.6 1692.2l7.6 12.6h-15.2zM278.2 1693.1l7.6 12.6h-15.2zM257.3 1693.1l7.6 12.6h-15.2zM117.2 1700.8l7.6 12.6h-15.2zM120.8 1706.1l7.6 12.6h-15.2zM124.3 1687.7l7.6 12.6h-15.2zM127.9 1696.7l7.6 12.6h-15.2zM131.5 1690.7l7.6 12.6h-15.2zM135 1701.4l7.6 12.6h-15.2zM138.6 1710.2l7.6 12.6h-15.2zM142.1 1714.1l7.6 12.6h-15.2zM145.7 1690l7.6 12.6h-15.2zM149.3 1698.4l7.6 12.6h-15.2zM152.8 1707.3l7.6 12.6h-15.2zM156.4 1713.6l7.6 12.6h-15.2zM160 1706.6l7.6 12.6h-15.2zM163.5 1699.6l7.6 12.6h-15.2zM167.1 1707l7.6 12.6h-15.2zM170.7 1705.5l7.6 12.6h-15.2zM174.2 1704.8l7.6 12.6h-15.2zM177.8 1701.8l7.6 12.6h-15.2zM181.4 1709.6l7.6 12.6h-15.2zM184.9 1709.5l7.6 12.6h-15.2zM188.5 1707.4l7.6 12.6h-15.2zM192 1706.9l7.6 12.6h-15.2zM195.6 1700.4l7.6 12.6h-15.2zM199.2 1706l7.6 12.6h-15.2zM202.7 1717.3l7.6 12.6h-15.2zM206.3 1708.5l7.6 12.6h-15.2zM209.9 1700.6l7.6 12.6h-15.2zM213.4 1718.9l7.6 12.6h-15.2zM217 1713.8l7.6 12.6h-15.2zM220.6 1724.2l7.6 12.6h-15.2zM224.1 1711l7.6 12.6h-15.2zM227.7 1707.7l7.6 12.6h-15.2zM231.2 1701.3l7.6 12.6h-15.2zM234.8 1719.3l7.6 12.6h-15.2zM238.4 1727.4l7.6 12.6h-15.2zM241.9 1705.3l7.6 12.6h-15.2zM245.5 1706.3l7.6 12.6h-15.2zM249.1 1714.2l7.6 12.6h-15.2zM252.6 1704.7l7.6 12.6h-15.2zM256.2 1708.1l7.6 12.6h-15.2zM259.8 1707.3l7.6 12.6h-15.2zM480.7 1290.1l7.6 12.6h-15.2zM484.3 1288.3l7.6 12.6h-15.2zM487.9 1300.2l7.6 12.6h-15.2zM491.4 1270.9l7.6 12.6h-15.2zM495 1308.1l7.6 12.6h-15.2zM498.6 1300.6l7.6 12.6h-15.2zM502.1 1307.2l7.6 12.6h-15.2zM505.7 1289.6l7.6 12.6h-15.2zM509.2 1277.9l7.6 12.6h-15.2zM512.8 1295.2l7.6 12.6h-15.2zM516.4 1295.8l7.6 12.6h-15.2zM519.9 1300.9l7.6 12.6h-15.2zM523.5 1273.3l7.6 12.6h-15.2zM527.1 1293.8l7.6 12.6h-15.2zM530.6 1298.3l7.6 12.6h-15.2zM534.2 1282.4l7.6 12.6h-15.2zM537.8 1293.3l7.6 12.6h-15.2zM541.3 1299.3l7.6 12.6h-15.2zM544.9 1292.7l7.6 12.6h-15.2zM548.5 1299.8l7.6 12.6h-15.2zM552 1287.9l7.6 12.6h-15.2zM555.6 1274.6l7.6 12.6h-15.2zM559.1 1300l7.6 12.6h-15.2zM562.7 1285l7.6 12.6h-15.2zM566.3 1302.8l7.6 12.6h-15.2zM569.8 1303.9l7.6 12.6h-15.2zM573.4 1288.3l7.6 12.6h-15.2zM577 1287.9l7.6 12.6h-15.2zM580.5 1303.8l7.6 12.6h-15.2zM584.1 1301.7l7.6 12.6h-15.2zM587.7 1304.3l7.6 12.6h-15.2zM591.2 1290.1l7.6 12.6h-15.2zM594.8 1290.8l7.6 12.6h-15.2zM598.3 1294.4l7.6 12.6h-15.2zM601.9 1287.8l7.6 12.6h-15.2zM605.5 1283.4l7.6 12.6h-15.2zM609 1289.6l7.6 12.6h-15.2zM612.6 1305.3l7.6 12.6h-15.2zM616.2 1293.5l7.6 12.6h-15.2zM619.7 1275.9l7.6 12.6h-15.2zM623.3 1296l7.6 12.6h-15.2zM626.9 1294l7.6 12.6h-15.2zM630.4 1293.3l7.6 12.6h-15.2zM634 1282.7l7.6 12.6h-15.2zM637.6 1295.1l7.6 12.6h-15.2zM641.1 1286l7.6 12.6h-15.2zM644.7 1287.5l7.6 12.6h-15.2zM648.2 1299.9l7.6 12.6h-15.2zM651.8 1294.9l7.6 12.6h-15.2zM655.4 1285l7.6 12.6h-15.2zM658.9 1301.9l7.6 12.6h-15.2zM662.5 1292.1l7.6 12.6h-15.2zM666.1 1294.5l7.6 12.6h-15.2zM669.6 1274.2l7.6 12.6h-15.2zM673.2 1293.8l7.6 12.6h-15.2zM676.8 1282.2l7.6 12.6h-15.2zM680.3 1284.4l7.6 12.6h-15.2zM683.9 1299.2l7.6 12.6h-15.2zM687.5 1278.9l7.6 12.6h-15.2zM539.2 1268.6l7.6 12.6h-15.2zM599.1 1269.1l7.6 12.6h-15.2zM439.4 1273.1l7.6 12.6h-15.2zM658.9 1314.1l7.6 12.6h-15.2zM633.3 1315.1l7.6 12.6h-15.2zM231.2 1714.1l7.6 12.6h-15.2z" stroke="#00f" stroke-width="1.4" fill="none" stroke-linejoin="miter"/>
<path d="M117.2 1708.6L118.6 1708.6L120.1 1708.6L121.5 1708.6L122.9 1708.6L124.3 1708.6L125.8 1708.6L127.2 1708.6L128.6 1708.6L130.1 1708.6L131.5 1708.6L132.9 1708.6L134.4 1708.6L135.8 1708.6L137.2 1708.6L138.6 1708.6L140.1 1708.6L141.5 1708.6L142.9 1708.6L144.4 1708.6L145.8 1708.6L147.2 1708.6L148.6 1708.6L150.1 1708.6L151.5 1708.6L152.9 1708.6L154.4 1708.6L155.8 1708.6L157.2 1708.6L158.6 1708.6L160.1 1708.6L161.5 1708.6L162.9 1708.6L164.4 1708.6L165.8 1708.6L167.2 1708.6L168.7 1708.6L170.1 1708.6L171.5 1708.6L172.9 1708.6L174.4 1708.6L175.8 1708.6L177.2 1708.6L178.7 1708.6L180.1 1708.6L181.5 1708.6L182.9 1708.6L184.4 1708.6L185.8 1708.6L187.2 1708.6L188.7 1708.6L190.1 1708.6L191.5 1708.6L192.9 1708.6L194.4 1708.6L195.8 1708.6L197.2 1708.6L198.7 1708.6L200.1 1708.6L201.5 1708.6L203 1708.6L204.4 1708.6L205.8 1708.6L207.2 1708.6L208.7 1708.6L210.1 1708.6L211.5 1708.6L213 1708.6L214.4 1708.6L215.8 1708.6L217.2 1708.6L218.7 1708.6L220.1 1708.6L221.5 1708.6L223 1708.6L224.4 1708.6L225.8 1708.6L227.2 1708.6L228.7 1708.6L230.1 1708.6L231.5 1708.6L233 1708.6L234.4 1708.6L235.8 1708.6L237.3 1708.6L238.7 1708.5L240.1 1708.5L241.5 1708.5L243 1708.5L244.4 1708.5L245.8 1708.5L247.3 1708.5L248.7 1708.5L250.1 1708.4L251.5 1708.4L253 1708.4L254.4 1708.4L255.8 1708.4L257.3 1708.3L258.7 1708.3L260.1 1708.3L261.5 1708.2L263 1708.2L264.4 1708.2L265.8 1708.1L267.3 1708L268.7 1708L270.1 1707.9L271.6 1707.8L273 1707.8L274.4 1707.7L275.8 1707.6L277.3 1707.5L278.7 1707.4L280.1 1707.2L281.6 1707.1L283 1706.9L284.4 1706.8L285.8 1706.6L287.3 1706.4L288.7 1706.1L290.1 1705.9L291.6 1705.6L293 1705.3L294.4 1704.9L295.8 1704.6L297.3 1704.1L298.7 1703.7L300.1 1703.2L301.6 1702.6L303 1702L304.4 1701.4L305.9 1700.6L307.3 1699.8L308.7 1699L310.1 1698L311.6 1697L313 1695.8L314.4 1694.5L315.9 1693.1L317.3 1691.6L318.7 1689.9L320.1 1688.1L321.6 1686.1L323 1684L324.4 1681.6L325.9 1679.1L327.3 1676.3L328.7 1673.2L330.2 1670L331.6 1666.4L333 1662.6L334.4 1658.4L335.9 1654L337.3 1649.2L338.7 1644L340.2 1638.6L341.6 1632.7L343 1626.5L344.4 1619.9L345.9 1613L347.3 1605.6L348.7 1597.9L350.2 1589.9L351.6 1581.5L353 1572.8L354.4 1563.8L355.9 1554.6L357.3 1545.1L358.7 1535.4L360.2 1525.6L361.6 1515.7L363 1505.7L364.5 1495.8L365.9 1485.8L367.3 1476L368.7 1466.3L370.2 1456.7L371.6 1447.4L373 1438.3L374.5 1429.5L375.9 1421L377.3 1412.9L378.7 1405.1L380.2 1397.6L381.6 1390.5L383 1383.8L384.5 1377.5L385.9 1371.5L387.3 1365.9L388.7 1360.6L390.2 1355.7L391.6 1351.2L393 1346.9L394.5 1343L395.9 1339.3L397.3 1336L398.8 1332.9L400.2 1330L401.6 1327.3L403 1324.9L404.5 1322.7L405.9 1320.6L407.3 1318.8L408.8 1317.1L410.2 1315.5L411.6 1314.1L413 1312.7L414.5 1311.6L415.9 1310.5L417.3 1309.5L418.8 1308.6L420.2 1307.7L421.6 1307L423 1306.3L424.5 1305.7L425.9 1305.1L427.3 1304.6L428.8 1304.1L430.2 1303.7L431.6 1303.3L433.1 1303L434.5 1302.6L435.9 1302.4L437.3 1302.1L438.8 1301.8L440.2 1301.6L441.6 1301.4L443.1 1301.3L444.5 1301.1L445.9 1300.9L447.3 1300.8L448.8 1300.7L450.2 1300.6L451.6 1300.5L453.1 1300.4L454.5 1300.3L455.9 1300.2L457.3 1300.2L458.8 1300.1L460.2 1300L461.6 1300L463.1 1299.9L464.5 1299.9L465.9 1299.9L467.4 1299.8L468.8 1299.8L470.2 1299.8L471.6 1299.7L473.1 1299.7L474.5 1299.7L475.9 1299.7L477.4 1299.7L478.8 1299.6L480.2 1299.6L481.6 1299.6L483.1 1299.6L484.5 1299.6L485.9 1299.6L487.4 1299.6L488.8 1299.6L490.2 1299.6L491.6 1299.6L493.1 1299.6L494.5 1299.5L495.9 1299.5L497.4 1299.5L498.8 1299.5L500.2 1299.5L501.7 1299.5L503.1 1299.5L504.5 1299.5L505.9 1299.5L507.4 1299.5L508.8 1299.5L510.2 1299.5L511.7 1299.5L513.1 1299.5L514.5 1299.5L515.9 1299.5L517.4 1299.5L518.8 1299.5L520.2 1299.5L521.7 1299.5L523.1 1299.5L524.5 1299.5L526 1299.5L527.4 1299.5L528.8 1299.5L530.2 1299.5L531.7 1299.5L533.1 1299.5L534.5 1299.5L536 1299.5L537.4 1299.5L538.8 1299.5L540.2 1299.5L541.7 1299.5L543.1 1299.5L544.5 1299.5L546 1299.5L547.4 1299.5L548.8 1299.5L550.2 1299.5L551.7 1299.5L553.1 1299.5L554.5 1299.5L556 1299.5L557.4 1299.5L558.8 1299.5L560.3 1299.5L561.7 1299.5L563.1 1299.5L564.5 1299.5L566 1299.5L567.4 1299.5L568.8 1299.5L570.3 1299.5L571.7 1299.5L573.1 1299.5L574.5 1299.5L576 1299.5L577.4 1299.5L578.8 1299.5L580.3 1299.5L581.7 1299.5L583.1 1299.5L584.5 1299.5L586 1299.5L587.4 1299.5L588.8 1299.5L590.3 1299.5L591.7 1299.5L593.1 1299.5L594.6 1299.5L596 1299.5L597.4 1299.5L598.8 1299.5L600.3 1299.5L601.7 1299.5L603.1 1299.5L604.6 1299.5L606 1299.5L607.4 1299.5L608.8 1299.5L610.3 1299.5L611.7 1299.5L613.1 1299.5L614.6 1299.5L616 1299.5L617.4 1299.5L618.8 1299.5L620.3 1299.5L621.7 1299.5L623.1 1299.5L624.6 1299.5L626 1299.5L627.4 1299.5L628.9 1299.5L630.3 1299.5L631.7 1299.5L633.1 1299.5L634.6 1299.5L636 1299.5L637.4 1299.5L638.9 1299.5L640.3 1299.5L641.7 1299.5L643.1 1299.5L644.6 1299.5L646 1299.5L647.4 1299.5L648.9 1299.5L650.3 1299.5L651.7 1299.5L653.1 1299.5L654.6 1299.5L656 1299.5L657.4 1299.5L658.9 1299.5L660.3 1299.5L661.7 1299.5L663.2 1299.5L664.6 1299.5L666 1299.5L667.4 1299.5L668.9 1299.5L670.3 1299.5L671.7 1299.5L673.2 1299.5L674.6 1299.5L676 1299.5L677.4 1299.5L678.9 1299.5L680.3 1299.5L681.7 1299.5L683.2 1299.5L684.6 1299.5L686 1299.5L687.5 1299.5" stroke="#00f" stroke-width="2.3" stroke-dasharray="12.3 8.8" fill="none"/>
<text x="117.2" y="1823.9" text-anchor="middle" class="t">0</text>
<text x="231.2" y="1823.9" text-anchor="middle" class="t">0.2</text>
<text x="345.3" y="1823.9" text-anchor="middle" class="t">0.4</text>
<text x="459.3" y="1823.9" text-anchor="middle" class="t">0.6</text>
<text x="573.4" y="1823.9" text-anchor="middle" class="t">0.8</text>
<text x="687.5" y="1823.9" text-anchor="middle" class="t">1</text>
<text x="801.5" y="1823.9" text-anchor="middle" class="t">1.2</text>
<text x="82.6" y="1279.2" text-anchor="end" class="t">10</text><text x="82.8" y="1264" class="e">-2</text>
<text x="82.6" y="1500.1" text-anchor="end" class="t">10</text><text x="82.8" y="1484.9" class="e">-4</text>
<text x="82.6" y="1720.9" text-anchor="end" class="t">10</text><text x="82.8" y="1705.7" class="e">-6</text>
<g transform="translate(27.8 1522) rotate(-90)" class="yl"><text x="-55.5" y="0" font-style="italic" class="ns">y</text><text x="-40.3" y="3.5" class="par">(</text><text x="-29.6" y="0" textLength="30.5" lengthAdjust="spacingAndGlyphs" class="er">V</text><text x="-3" y="6.3" class="sub ns" font-style="italic" textLength="52" lengthAdjust="spacingAndGlyphs">p−p</text><text x="43.5" y="3.5" class="par">)</text></g>
<text x="752.5" y="1307.5" text-anchor="middle" class="t pl">c</text>
</g>
<text x="327.5" y="1864" class="xl" font-style="italic" textLength="27" lengthAdjust="spacingAndGlyphs">V</text>
<text x="351" y="1870" class="sub2" font-style="italic">C</text>
<text x="386.5" y="1864" class="xl" textLength="200" lengthAdjust="spacing">(normalized)</text>
</svg>
</body></html>
